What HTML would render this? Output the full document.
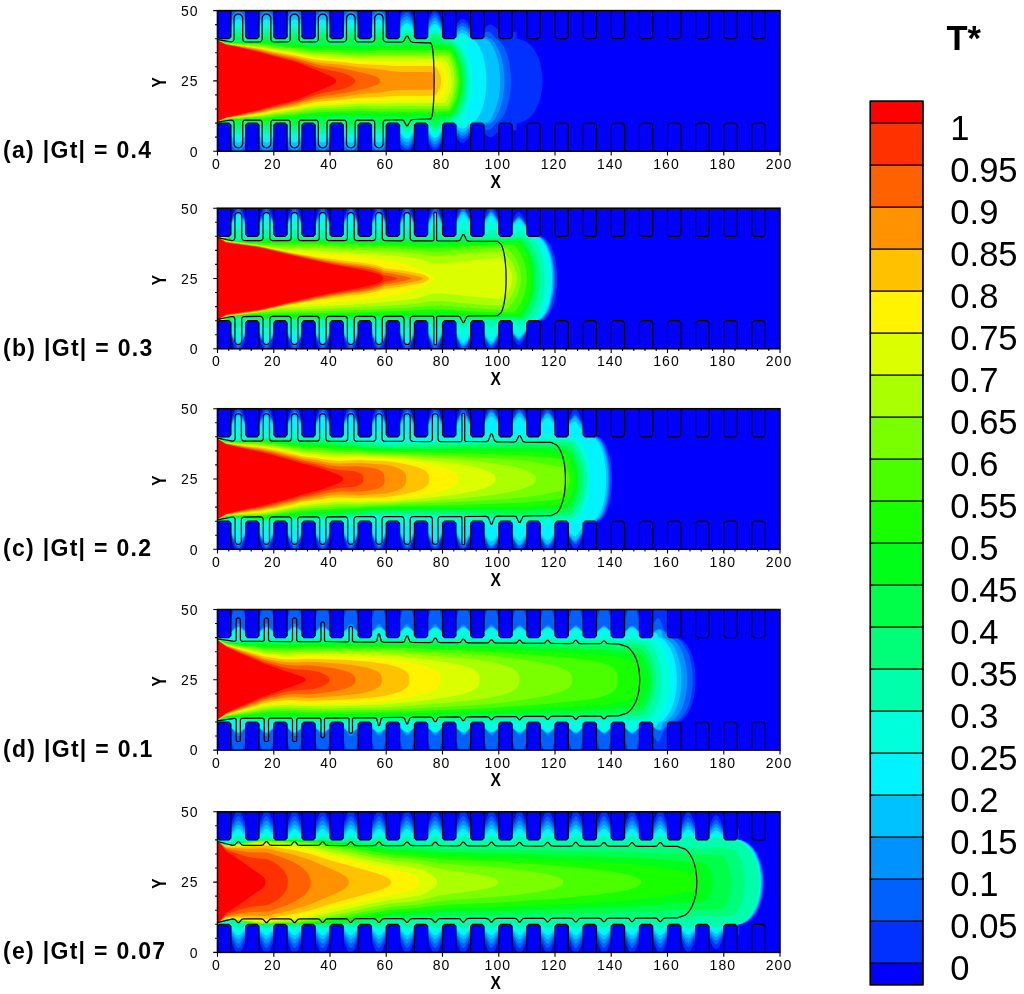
<!DOCTYPE html>
<html><head><meta charset="utf-8"><title>T* contours</title>
<style>
html,body{margin:0;padding:0;background:#fff}
svg{display:block}
text{font-family:"Liberation Sans",Arial,Helvetica,sans-serif;fill:#000}
.tk{font-size:14px;letter-spacing:1px}
.ax{font-size:15.5px;font-weight:bold}
.lb{font-size:23px;font-weight:bold;letter-spacing:1.3px}
.cb{font-size:34.6px}
.ct{font-size:34.5px;font-weight:bold}
</style></head><body>
<svg width="1024" height="994" viewBox="0 0 1024 994">
<rect width="1024" height="994" fill="#fff"/>

<g fill-rule="evenodd" shape-rendering="geometricPrecision">
<rect x="217.5" y="10.6" width="562.5" height="140.6" fill="#0000FF"/>
<path d="M229 151.2h17v-7.5h6l.1 .5l2.9 3.5v.5l1 1l.1 .5l1.1 1.5h16.8v-7.5h6l2 2.5l.1 .5l1.4 1.5v.5l1 1v.5l1 1h16.5v-7.5h6l2.5 3v.5l1.5 1.5v.5l1 1v.5l.5 .5h16.5v-7.5h6l3 3.5v.5l2.5 3v.5h17v-7.5h6l.1 .5l2.9 3.5v.5l1 1l.1 .5l1.1 1.5h16.8v-7.5h5l.5-.1l.5-.5l2 .1l.5 .5l1.5 .5l2 1.9l.5 .1l1.6 2l2.9 3h6l.5-.5v-.5l1-1v-.5l.9-1l.6-1.5l.5-.5v-.5l.5-.5v-.5l.5-.5v-.5l.5-.5v-9.5l1-.1l.4-.4h4.6l3.5 3.5v.5l1.5 1.5v.5l1 1l.5 1.5l1 1l.5 1.5l1.5 2v.5l1.5 2v.5l2.5 2.5h1h.5l2.5-2.5v-.5l1-1l.5-1.5l.5-.5l.5-1.5l.5-.5v-.5l1.5-2v-9h1.5l.5-.5h4l1.5 .5l1.5 1.5h.5l8.5 9h.5l.5 .5h2h.5l2.4-2l.1-.5l2-2v-.5l2.5-3v-5.5h1l.6-.5h4.5l.4 .4l.7 .1l1.3 1l1.5 .5l4 3.4l.5 .1l1.5 1.5l1.5 1l1.5 .5l2-.1l1-.5l5.9-5.4l.1-4l3-.1l.7-.4h2.8l.5 .4l2.6 .6l.4 .4l2.1 .6l2.4 1.2l1.5 .5h1l.5-1.2l.2-6l2.8-.5l3.9-1.5l3.6-1.6l2.4-1.9l2.8-3l2.5-3.5l2.3-4.2l2-4.8l1.4-4.5l1.1-5l.7-5l.3-5v-5l-.4-5l-.9-5l-1.1-4.6l-1.6-5l-2.3-5l-2.5-4l-2.8-3.5l-4.1-3.5l-5.8-2.5l-4.3-1l-.2-6l-.5-1.2h-1l-1.5 .5l-2.4 1.2l-2.1 .6l-.4 .4l-2.6 .6l-.5 .4h-2.8l-.7-.4l-3-.1l-.1-4l-5.9-5.4l-1-.5l-2-.1l-1.5 .6l-1.5 .9l-1.5 1.5l-.5 .1l-4 3.4l-1.5 .6l-1.3 .9l-.7 .1l-.4 .4h-4.5l-.6-.4l-1-.1v-5.5l-2.5-3v-.5l-2-2l-.1-.5l-2.4-2h-.5h-2l-.5 .5h-.5l-8.5 9h-.5l-1.5 1.5l-1.5 .5h-4l-.5-.5h-1.5v-9l-1.5-2v-.5l-.5-.5l-.5-1.5l-.5-.5l-.5-1.5l-1-1v-.5l-2.5-2.4l-1.5-.1l-2.5 2.5v.5l-1.5 2v.5l-1.5 2l-.5 1.5l-1 1l-.5 1.5l-1 1v.5l-1.5 1.5v.5l-3.5 3.5h-4.5l-.5-.3l-1-.1v-9.6l-.5-.5v-.5l-.5-.5v-.5l-.5-.5v-.5l-.5-.5l-.6-1.5l-.9-1v-.5l-1-1v-.5l-.5-.5h-6l-2.9 3l-1.6 2l-.5 .1l-2 1.9l-1.5 .5l-.5 .5l-2 .2l-.5-.6l-.5-.1h-5v-7.5h-16.8l-1.1 1.5l-.1 .5l-1 1v.5l-2.9 3.5l-.1 .5h-.5h-5.5v-7.5h-17v.5l-2.5 3v.5l-3 3.5h-6v-7.5h-16.5l-.5 .5v.5l-1 1v.5l-1.5 1.5v.5l-2.5 3h-6v-7.5h-16.5l-2 2.5v.5l-1.4 1.5l-.1 .5l-1.4 1.5l-.1 .5l-.5 .5h-.5h-5.5v-7.5h-16.8l-1.1 1.5l-.1 .5l-1 1v.5l-2.9 3.5l-.1 .5h-.5h-5.5v-7.5h-17v.5l-2.5 3v.5l-3 3.5h-6v124.6v1h6l3 3.5v.5l2.5 3z" fill="#0031FF"/>
<path d="M232.2 150.7l.4 .5h11.5l1.4-2.1l.5-8.8h5.5l.5 .2l7 8.3l1.7 2.4h11.5l1.3-1.9l.5-9l6 .1l7 8.3l1.8 2.5h11.5l1.2-1.7l.5-9.2h6l4.3 4.9l4.6 6h11.5l1.1-1.5l.5-9.4h6l.5 .4l7 8.3l1.6 2.2h11.5l1.4-2.1l.5-8.8h5.5l.5 .2l7 8.3l1.7 2.4h11.5l1.3-1.9l.5-9h5l1-.5l2.5 .5l2.5 1.3l2 1.5l4.5 4.8l1 .7l2 .5l1.5-.5l1.5-1.7l4-6.7l.5-8.9l6-.1l2.5 2l2.8 3l6.7 10.1l1.5 1.3l1 .1l1-.4l1.5-1.5l4.5-7.5l.5-8.2l6.5-.6l5.2 3.2l5.8 5.4l1.5 .8l1.5 .2l1.5-.5l1.5-1.2l4.5-5.4l.5-4.7l6-.3l10 3l1.5 .1l1-.3l2-1.4l4.7-5.2l1.2-.5l2.7-2.5l2.5-3l1.8-3l1.9-4.5l2.5-8.5l1.1-6l.7-6.5l.2-6.5l-.1-6.5l-.5-6l-.9-6.6l-1.4-6l-1.6-5l-2.5-5.5l-2.3-3.5l-4.1-4l-1.2-.5l-5.7-6l-1.5-.8l-1.5-.1l-10.5 3.2l-6-.4l-.5-4.7l-4.5-5.4l-1.5-1.2l-1-.4h-1.5l-1.5 .6l-6.3 5.7l-5.2 3.2l-6.5-.6l-.5-8.1l-4.5-7.6l-1.5-1.4l-1-.5l-1 .1l-1.5 1.3l-6.7 10.1l-2.8 3l-2.5 2.1l-6-.2l-.5-8.9l-4-6.7l-1.5-1.6l-1.5-.6l-2 .6l-1 .6l-4.5 4.8l-2 1.5l-2.5 1.3l-2.5 .6l-1-.6h-5l-.5-9l-1.3-1.9h-11.5l-1.7 2.4l-7 8.3l-.5 .2h-5.5l-.5-8.8l-1.4-2.1h-11.5l-1.6 2.3l-7 8.3l-.5 .3h-6l-.5-9.4l-1.1-1.5h-11.5l-4.6 6l-4.3 4.9h-6l-.5-9.2l-1.2-1.7h-11.5l-1.8 2.6l-7 8.2l-6 .1l-.5-9l-1.3-1.9h-11.5l-1.7 2.4l-7 8.3l-.5 .2h-5.5l-.5-8.8l-1.4-2.1h-11.5l-1.6 2.3l-7 8.3l-.5 .3h-6v118.8h6l.5 .4l7 8.3z" fill="#0061FF"/>
<path d="M236.6 150.7l1.9 .4l1.5-.4l2-1.4l2-2.4l1.5-2.4l.5-7.2l6 .1l7 6.8l2 3l2 2.3l2 1.3l1.5 .3l1.5-.3l2-1.4l1.5-1.7l2-2.9l.5-7.5h6l7 6.8l2.5 3.6l1.5 1.7l2 1.4l1.5 .3l1.5-.3l2-1.3l1.6-1.8l1.9-2.7l.5-7.7h6l7 6.7l4 5.3l2 1.4l1.5 .4l1.5-.2l2-1.3l1.5-1.6l2-2.8l.5-7.9h6l.5 .2l7 6.8l2 3.1l2 2.2l2 1.3l1.5 .2l1.5-.4l2-1.4l1.5-1.7l2-3.1l.5-7.2h5.5l1.9 1.4l5.6 5.5l2 3l2 2.3l2 1.3l1.5 .3l1.5-.3l2-1.4l1.5-1.7l2-2.9l.5-7.5h5l1-.5l3 .6l4 2.1l3 3.5l2 1.8l2.5 .9l1.5-.5l2-2.2l3.5-5.8l.5-7.4l6-.1l2 1.3l2.6 2.2l2.4 2.6l5 7.3l1 .9l1 .5l1.5-.4l1.5-1.4l4.5-7l.5-6.8l6.5-.9l3.2 1.2l3.8 2l2.5 2.4l2 1.5l2 .6l1.5-.3l2.5-1.8l4-4.6l.5-3.1l6-.5l5.5 .4l4.5-1.1l2.2-1.5l2-.5l.8-.5l1.5-1.5l1.8-2.5l3.5-6.5l2.5-7l1.5-6.5l1.1-7.5l.5-8l-.2-8l-.9-8.1l-1.5-7.5l-2-6.5l-2-4.5l-1.9-3.5l-2-3l-1.9-2l-.8-.5l-2-.5l-2.2-1.5l-4.5-1.1l-5.5 .4l-6-.5l-.5-3.1l-4-4.6l-2.5-1.8l-1.5-.3l-2 .6l-2 1.5l-2.5 2.5l-3.8 1.9l-3.2 1.2l-6.5-.9l-.5-6.7l-4-6.5l-1.5-1.6l-1.5-.7l-1 .1l-1.5 1.2l-5 7.4l-2.9 3l-2.5 2l-1.6 1l-6-.1l-.5-7.4l-3.5-5.8l-2-2.1l-1.5-.6l-2.5 .9l-2 1.8l-3 3.5l-4 2.1l-3 .6l-1-.4h-5l-.5-7.5l-2-3l-1.5-1.7l-1.5-1.1l-1.5-.6l-2 .3l-2 1.3l-2 2.3l-2 3l-5.6 5.5l-1.9 1.5h-5.5l-.5-7.3l-2-3l-1.5-1.8l-2-1.4l-1.5-.4l-1.5 .2l-2 1.3l-2 2.2l-2 3.1l-5.2 5.1l-2.3 2h-6l-.5-7.9l-2-2.9l-1.5-1.6l-2-1.3l-1.5-.2l-1.5 .4l-2 1.4l-4 5.4l-7 6.7h-6l-.5-7.7l-1.9-2.8l-1.6-1.8l-2-1.3l-1.5-.3l-1.5 .3l-2 1.4l-1.5 1.7l-2.5 3.6l-7 6.8l-6 .1l-.5-7.5l-2-3l-1.5-1.7l-2-1.4l-1.5-.3l-1.5 .3l-2 1.3l-2 2.3l-2 3l-7 6.8l-6 .2l-.5-7.3l-1-1.6l-2-2.6l-2-1.7l-2-.7l-1.5 .2l-2.5 1.8l-3.5 4.8l-7 6.8l-.5 .3h-6v112.7h6l.5 .2l7 6.8l3.5 4.9z" fill="#0092FF"/>
<path d="M237.3 146.7l1.7 .1l1.5-.6l1.5-1.2l2-2.5l1.5-2.5l.5-5.8l6 .1l7 5.3l2.5 3.9l2 2.2l1.5 .9l1.5 .3l1.5-.4l1.5-.9l1.7-1.9l1.8-2.6l.5-.9l.5-6h6l7 5.3l2.5 3.8l2 2.3l1.5 .9l1.5 .4l1.5-.3l1.5-.9l1.5-1.6l2-2.8l.5-.9l.5-6.2h6l.5 .3l6.5 4.9l2.5 3.8l2 2.2l1.5 1.1l1.5 .4l1.5-.3l1.5-.9l2-2l1.7-2.5l.3-.6l.5-6.4h6l.5 .2l7 5.3l2 3.3l2 2.3l2 1.3l1.5 .3l1.5-.4l1.5-1.1l1.6-1.7l1.9-2.8l.5-.9l.5-5.8h5.5l1.8 1l5.7 4.4l2.5 3.9l2 2.2l1.5 .9l1.5 .3l1.5-.4l1.5-.9l1.7-1.9l1.8-2.6l.5-.9l.5-6h5l1-.4l4 .8l3 1.4l3 3.6l2 1.8l2 .8l1.5-.2l1-.6l1.5-1.6l3.5-5.5l.5-5.9l6-.1l3 1.6l4 3.1l4.5 6.4l1.5 1.4l1 .4l1.5-.3l1.5-1.3l4.5-6.5l.5-5.5l6-1.1l2.5 .4l5 1.3l3 2.6l2 1.1l1.5 .3l1.5-.3l2-1.2l2.5-2.4l2-2.3l.5-1.6l8-.7l4.5-.9l2.1-.1l2.5-1l1.6-1.5l1.8-2.5l3.5-7.2l2.5-7.7l1.4-6.6l1-8l.2-6.5l-.2-7.5l-.9-8.1l-1.5-7.1l-2-6.4l-2-4.7l-2-3.7l-1.8-2.6l-1.6-1.5l-2.5-1l-2.1-.1l-4.5-.9l-8-.7l-.5-1.6l-2-2.3l-2.5-2.4l-2-1.2l-1.5-.3l-1.5 .3l-2 1.1l-3 2.7l-5 1.3l-2.5 .3l-6-1.1l-.5-5.4l-4-6l-1.5-1.5l-1.5-.7l-1 .1l-1.5 1.2l-4.8 6.7l-4.5 3.5l-2.7 1.4h-6l-.5-6l-3.5-5.4l-1.5-1.7l-1-.6l-1.5-.2l-2 .8l-2 1.8l-3 3.7l-3 1.3l-4 .8l-1-.4h-5l-.5-6l-1.9-3l-1.6-1.9l-1.5-1.1l-1.5-.6l-1.5 .1l-2 1.1l-2 2.1l-2.5 3.9l-5.7 4.4l-1.8 1h-5.5l-.5-5.7l-.5-.9l-1.9-2.9l-1.6-1.7l-1.5-1l-1.5-.4l-1.5 .2l-1.5 .9l-2.3 2.5l-2.2 3.5l-7.5 5.5h-6l-.5-6.4l-.3-.6l-1.7-2.5l-2-2l-1.5-.9l-1.5-.2l-1.5 .4l-1.5 1l-2 2.2l-2.5 3.8l-6.5 4.9l-.5 .3h-6l-.5-6.2l-.5-.9l-2-2.8l-1.5-1.5l-1.5-1l-1.5-.3l-1.5 .4l-1.5 1l-2 2.2l-2.5 3.8l-7 5.3h-6l-.5-6l-.5-.8l-1.8-2.7l-1.7-1.8l-1.5-1l-1.5-.4l-1.5 .3l-1.5 1l-2 2.1l-2.5 3.9l-7 5.3l-6 .1l-.5-5.7l-2-3.3l-2-2.2l-1.5-1l-1.5-.4l-1.5 .2l-1.5 .9l-1.5 1.4l-3 4.6l-7 5.3l-.5 .2h-6v106.6h6l.5 .2l7 5.3l3 4.6l1.5 1.5z" fill="#00C2FF"/>
<path d="M236.7 142.2l1.3 .4l1.5-.2l1.5-.8l1.5-1.5l3-4.7l.5-4.3l6 .1l3.8 2l3.2 1.8l2.5 4.1l2 2.3l1.5 .9l1.5 .3l1-.1l1.5-.8l1.5-1.4l1.5-2.1l1.5-2.6l.5-4.5h6l3.9 2.1l3.1 1.8l2.5 4l2 2.3l1.5 1l1.5 .3l1-.1l1.5-.7l1.5-1.4l1.5-2l1.5-2.5l.5-4.8h6l3.5 1.8l4 2.5l2 3.4l2 2.3l1.5 1.1l1.5 .4l1-.1l1.5-.7l1.5-1.3l1.5-1.9l1.5-2.5l.5-5h6l3.3 1.6l4.2 2.4l2.1 3.6l2.4 2.8l1.5 .9l1.5 .2l1-.2l1.5-.8l1.5-1.5l1.5-2.1l1.5-2.6l.5-4.3h5.5l7.5 3.9l2 3.4l2 2.5l2 1.4l1.5 .3l1-.1l1.5-.8l1.5-1.4l1.5-2.1l1.5-2.6l.5-4.5l7-.2l2.5 .4l3 .9l1 .7l2 2.7l2 2l1.5 .9l2 .3l1-.4l1.5-1.3l4-5.8l.5-4.4l6-.1l3.4 1.4l3.6 2.1l4.5 6l1.5 1.3l1.5 .4l1.5-.6l1.5-1.4l4-5.5l.5-4.1l6.5-1.3h7l2.5 2.2l2 1.1l2 .4l1.5-.3l3-1.9l3.5-3.6l2.4-.8l1.6-1l2.9-3l2.1-3.3l1.7-3.7l1.5-4l1.4-5l1.1-6l.8-6.5l.4-6.5l-.1-6.5l-.5-6.5l-.8-6.1l-1.3-6l-1.7-5.5l-2.4-5.5l-3-4.5l-2.8-2.5l-3.3-1.3l-3-3.1l-2-1.6l-2-.9l-2.5 .1l-2.5 1.3l-2.5 2.1l-7 .1l-6.5-1.3l-.5-4.2l-4-5.5l-1.5-1.4l-1.5-.5l-1 .1l-1.5 1l-2 2.4l-2.5 3.7l-3.1 2l-4.4 1.9l-6-.1l-.5-4.4l-3.5-5.2l-1.5-1.5l-1-.6l-1.5-.2l-2 .8l-2 1.9l-2.5 3.2l-1.5 .9l-5 1.1l-7-.2l-.5-4.5l-1.5-2.6l-1.5-2l-1.5-1.4l-1.5-.8l-1-.2l-1.5 .3l-2 1.4l-2 2.5l-2 3.4l-7.5 3.9h-5.5l-.5-4.2l-1.5-2.7l-1.5-2.1l-1.5-1.4l-1.5-.9l-1-.2l-1.5 .3l-2 1.3l-2 2.4l-2 3.5l-7.5 4h-6l-.5-5l-1.5-2.5l-1.5-1.9l-1.5-1.3l-1.5-.7l-1-.1l-1.5 .4l-1.5 1.1l-2 2.3l-2 3.5l-4 2.4l-3.5 1.8h-6l-.5-4.7l-1.5-2.6l-1.5-2l-1.5-1.3l-1.5-.8l-1-.1l-1.5 .4l-2 1.4l-1.5 1.8l-2.5 4.1l-7 3.8h-6l-.5-4.5l-1.5-2.6l-1.5-2l-1.5-1.4l-1.5-.8l-1-.2l-1.5 .3l-1.5 1l-2 2.2l-2.5 4.1l-3.2 1.8l-3.8 2l-6 .1l-.5-4.2l-2.5-4.2l-1.5-1.6l-1.5-1.1l-1.5-.4l-1.5 .3l-1.5 .9l-1.5 1.5l-3 4.8l-7.5 4h-6v100.4h6l7.5 4l3 4.9l1.5 1.5z" fill="#00F3FF"/>
<path d="M237.4 138.2l1.1 .2l1.5-.5l2.5-2.1l1.5-2.2l1.5-2.8l.5-2.8l6 .1l7 2.3l2 3.6l2 2.6l2 1.4l1.5 .4l2-.7l2.5-2.4l2.5-4.3l.5-3h6l7 2.4l2.5 4.2l1.5 1.9l2 1.5l1.5 .4l1-.2l1.5-.7l2.5-2.7l2-3.5l.5-3.3h6l7 2.4l.5 .4l1.5 2.8l2 2.8l2 1.5l1.5 .5l1-.1l1.5-.7l2.5-2.6l2-3.4l.5-3.6h6l7.5 2.5l1.5 2.9l2 2.8l2 1.7l2 .5l2-.8l2.5-2.5l2.5-4.3l.5-2.8h5.5l7.5 2.4l2 3.6l2 2.6l2 1.4l1.5 .4l2-.7l2.5-2.4l2.5-4.3l.5-3l7-.1l6 .9l4 5l1.5 1l2 .6l2-.7l2.5-2.6l2.5-3.7l.5-3h6l3.3 .8l3.7 1.3l4.5 5.6l1.5 1.2l1.5 .4l1-.2l1.5-1l2.5-2.8l2-2.8l.5-2.8l6.5-1.5l5.4-.9l1.6-.6l2.5 2l2 .9l2 .3l2-.5l2-1.1l1-1l-1.7-4l-.2-3l.7-3l3-9l1.6-6l1-6l.7-8l-.2-9l-1.1-8.6l-1.6-6.5l-3.4-10.5l-.7-3l.2-3l1.7-4l-.3-.5l-1.7-1.1l-2.5-.9h-1.5l-2 .6l-3.5 2.5l-1.6-.6l-5.4-.9l-6.5-1.5l-.5-2.8l-2-2.8l-2.5-2.8l-1.5-.9l-1-.3l-1.5 .4l-1.5 1.2l-4.5 5.6l-3.7 1.3l-3.3 .8h-6l-.5-3l-1.5-2.3l-2.5-3.1l-1.5-1.2l-1-.3l-2 .3l-1.5 .8l-2 2.1l-2.5 3.3l-6 .9l-7-.1l-.5-3l-2.5-4.3l-2.5-2.4l-2-.6l-1.5 .3l-2 1.4l-2 2.6l-2 3.6l-7 2.3l-6 .1l-.5-2.7l-2.9-5l-2.1-1.9l-1.5-.7h-1l-1.5 .5l-2 1.6l-2 2.8l-1.5 2.9l-7.5 2.5h-6l-.5-3.5l-2-3.4l-2.5-2.6l-1.5-.7l-1-.1l-1.5 .4l-2 1.6l-2 2.7l-1.5 2.9l-.5 .4l-7 2.3h-6l-.5-3.3l-2-3.5l-2.5-2.7l-1.5-.7l-1-.1l-1.5 .3l-2 1.5l-1.5 1.9l-2.5 4.2l-7 2.4h-6l-.5-3l-2.5-4.3l-2.5-2.4l-2-.6l-1.5 .3l-2 1.4l-2 2.6l-2 3.6l-7 2.3l-6 .1l-.7-3.2l-1.8-3.2l-1.5-1.9l-2.5-1.8l-1-.2l-1.5 .2l-1.5 .9l-1.5 1.6l-1.5 2.2l-1.5 2.9l-7.5 2.5h-6v94.2h6l7.5 2.5l1.5 2.9l1.5 2.2l1.5 1.6z" fill="#00FFDB"/>
<path d="M236.7 133.7l1.3 .4l1-.1l1-.3l1.5-1.1l2.5-3.4l2-4.3l6 .1l7 .9l2 3.7l2 2.7l2 1.5l1.5 .3l2-.6l2-1.9l2-3.1l1.5-3.6l6 .1l7 .8l2.5 4.4l1.5 2l2 1.5l1.5 .4l2-.6l2-1.7l2.5-4l1-2.9h6l7 .9l.5 .4l1.5 3l2 2.8l2 1.7l1.5 .4l2-.5l2.2-1.9l2.3-3.7l1-3.1h6l7.5 1l1.5 3.1l2 2.9l2 1.7l1.5 .5l2-.4l2-1.7l2-2.8l2-4.3l6 .1l7 .9l2 3.7l1.5 2.2l2 1.7l1.5 .6l2-.4l2-1.5l2.5-3.7l1.5-3.6h7l6 .3l4 5.1l1.5 1.1l2 .6l1.5-.4l2-1.6l3-3.8l1-2.2h6l5 .5l2.5 .5l2.5 3.4l2.5 2.4l1.5 .6l1.5-.1l1.5-.9l2-1.9l2.5-3.2l.5-1.5l8-1.6l2.9-1.5l4.1-3l1.5-1.6l1.6-2.4l3.2-6.5l1.9-5.5l1.5-6l1-6l.5-6.5l-.1-6.5l-.7-6.5l-1.1-6.1l-1.5-5.5l-1.7-4.5l-1.9-4l-2.1-3.5l-1.6-2l-4.5-3.4l-2.5-1.4l-2.1-.7l-6.4-1.1l-.5-1.5l-3-3.7l-2-1.7l-1.5-.7l-1.5 .1l-1.5 .9l-2 2l-2.5 3.4l-2.5 .6l-5 .5l-6-.1l-1-2.2l-3-3.8l-2-1.6l-1.5-.3l-2 .5l-1.5 1.1l-4 5.1l-6 .3h-7l-1.5-3.6l-2.5-3.7l-2-1.5l-2-.3l-1.5 .5l-2 1.8l-1.5 2.1l-2 3.8l-7 .9h-6l-2-4.3l-2-2.8l-2-1.6l-2-.5l-1.5 .5l-2 1.7l-2 2.9l-1.5 3.2l-7.5 .9h-6l-1-3.1l-2.3-3.7l-2.2-1.9l-2-.5l-1.5 .5l-2 1.6l-2 2.8l-1.5 3.1l-.5 .3l-7 .9h-6l-1-2.9l-2.5-3.9l-2-1.8l-2-.6l-1.5 .4l-2 1.5l-1.5 2l-2.5 4.4l-7 .9h-6l-1.5-3.6l-2-3.1l-2-1.8l-2-.7l-1.5 .3l-2 1.5l-2 2.7l-2 3.8l-7 .9h-6l-2-4.3l-2.5-3.3l-1.5-1.1l-1-.4l-2 .2l-1.5 .9l-1.5 1.6l-1.5 2.3l-1.5 3.2l-7.5 .9h-6v88h6l7.5 1l1.5 3.1l1.5 2.3l1.5 1.6z" fill="#00FFAA"/>
<path d="M237.4 129.7l2.1-.1l2-1.3l1.5-1.9l1.8-3.2l-.3-1.5l1.5-.3l13 1l1 .8l1.5 2.9l1.5 1.9l1.5 1.3l2 .5l1.5-.3l1.5-1.1l2-2.5l1.7-3.2l.8-.5l13-.2l.9 .7l1.6 3.2l1.5 2l1.5 1.3l2 .6l2-.5l1.5-1.3l1.5-1.9l2-3.9l.5-.5l13-.4l.7 .4l1.5 3.5l2.2 3l1.6 1.2l2 .4l2-.8l1.5-1.4l2-3l1.5-3.5l13.5-.1l1.5 3.6l1.7 2.6l1.8 1.8l2 .8l2-.4l2-1.7l2.3-3.5l1.1-3l.6-.3l13 .3l.7 1l.3 1l1 2l1.5 2.2l1.5 1.5l2 .9l2-.3l2-1.6l2-2.9l1.3-2.8l.7-.7h13l.7 .7l1.3 2.4l2 2.3l1.5 1.1l2 .5l1.5-.3l2-1.4l2.5-2.9l1.5-2.4h13l.5 .2l.7 1.5l1.3 1.6l2.5 2.5l1.5 .8h2l1.5-.8l2-1.7l2.1-2.4l.9-1.7l6-.2l2-.9l2.4-1.7l2.1-2.1l2.9-3.4l2-3.5l1.9-4l1.7-5l1.4-5.5l.9-5.5l.5-6v-6l-.5-6l-1-5.6l-1.4-5.5l-2-5.5l-2.3-4.5l-2-3l-3.1-3.5l-2.5-2.1l-2.5-1.3l-2-.4h-4.5l-.9-1.7l-2.6-2.9l-2-1.5l-1.5-.6l-1.5 .2l-2 1.2l-3 3.3l-1 1.9l-.5 .1h-13l-1.5-2.4l-2.5-2.9l-2-1.4l-1.5-.3l-2 .5l-1.5 1.1l-2 2.3l-1.3 2.4l-.7 .7h-13l-.7-.7l-1.3-2.8l-2-2.9l-2-1.5l-2-.4l-2 .9l-1.5 1.5l-1.5 2.2l-1 2l-.3 1l-.7 1l-13 .3l-.6-.3l-1.1-3l-2.3-3.5l-2-1.7l-2-.4l-2 .8l-1.8 1.8l-1.7 2.7l-1.5 3.5h-13.5l-1.5-3.5l-2-3.1l-1.5-1.4l-2-.8l-2 .4l-1.6 1.2l-2.2 3l-1.5 3.5l-.7 .4l-13-.3l-.5-.6l-2-3.8l-1.5-2l-1.5-1.2l-2-.6l-2 .6l-1.5 1.3l-1.5 2.1l-1.6 3.1l-.9 .7l-13-.2l-.8-.5l-1.7-3.1l-2-2.6l-1.5-1l-1.5-.4l-2 .6l-1.5 1.2l-1.5 2l-1.5 2.8l-1 .9l-13 .9l-1.5-.3l.3-1.5l-1.8-3.2l-1.5-1.8l-2-1.4l-2-.1l-1.5 .7l-1 .9l-2.4 3.4l-.8 1.5l.7 2.5l-2.1 .5l-4.4 .2l-6.8-1.7l-.7-.4h-1v82.5l1-.1l.7-.4l6.8-1.7l4.4 .2l2.1 .5l-.7 2.5l.7 1.4l2.5 3.5l1 .9z" fill="#00FF79"/>
<path d="M236.8 125.2l1.2 .4l1.5-.2l1.5-1l1.2-1.2l-1.2-1l-1.5-.5l-1.5-.1l-2 .5l-1.6 1.1zM264.9 125.2l1.6 .4l1.5-.4l1.5-1.1l1.5-1.9l3-1.7l13-.5l1.7 .7l1.5 1l.4 .5l.1 1l1.8 1.7l1 .5l1.5 .1l1.5-.5l1-.8l.9-1v-1l.6-1l3-1.9l13-.7l1.8 .6l2.2 1.5l.4 1l-.6 1.5l1.2 1.2l1.5 1l1.5 .2l2-.9l1.6-1.5l-.8-1.5v-.5l.7-1l3.5-2l13.5-.2l3.3 1.7l1 1l.1 1l-1 1.5l.6 .6l1.5 1.3l2 .5l2-.8l1.7-1.6l-1.1-2l.5-1l2.1-1.5l2.3-.9l13.5 .7l2.1 1.2l1.1 1l.4 1l-.5 1.5l.4 .5l1.5 1.3l1.5 .5l1.5-.1l1.5-.9l1.3-1.3l-.3-1.5l.6-1l1.4-1l2-.9l13.5 .1l2.2 1.3l1 1l.3 1l-.3 1l.3 .3l1.5 1l2 .6l1.5-.3l2-1.2l.4-.4l-.2-1.5l.6-1l3.2-2h13l1.3 .5l2.1 1.5l.6 1l-.2 1.5l1.2 .9l2 .8l2-.2l2.5-1.5l-.2-1.5l.7-1l3-2l7-.1l2-1.1l2.6-2.8l2.5-3.5l2-3.5l1.7-4l1.7-5l1.3-5.5l.7-5.5l.3-5.5l-.1-5.5l-.5-5.5l-1.1-5.6l-1.4-5l-1.9-5l-2.1-4l-2.7-4l-3-3.3l-2-1.1l-7-.1l-2.5-1.5l-.9-1l-.3-1l.2-1l-2-1.3l-1.5-.4l-1.5 .1l-2 1.1l-.7 .5l.2 1.5l-.6 1l-2.1 1.5l-1.3 .5h-13l-3.2-2l-.6-1l.2-1.5l-.4-.3l-2-1.3l-1.5-.3l-2 .6l-1.5 1l-.3 .3l.3 1l-.3 1l-1 1l-2.2 1.4h-13.5l-2-.9l-1.4-1l-.6-1l.3-1.5l-.8-.9l-1.5-1.1l-1.5-.3l-1.5 .3l-1.5 1l-.9 1l.5 1.5l-.4 1l-1.9 1.5l-1.8 1l-13 .4l-2.3-.9l-2.1-1.5l-.5-1l1.1-2l-1.7-1.6l-2-.7l-2 .5l-1.5 1.2l-.6 .6l1 1.5l-.1 1l-1 1l-3.3 1.7l-13.5-.2l-3.5-2l-.7-1v-.5l.8-1.5l-1.6-1.5l-2-.8l-1.5 .2l-1.5 .9l-1.2 1.2l.6 1.5l-.4 1l-2.2 1.5l-1.8 .6l-13-.7l-3-1.9l-.6-1v-1l-1.4-1.4l-1-.6l-1.5-.3l-1.5 .3l-1 .7l-1.3 1.3l-.1 1l-.4 .5l-1.5 1l-1.7 .7l-13.5-.6l-2.5-1.6l-1-1.3l-1.5-1.4l-2-.6l-2 .5l-2.5 2.5l-3 1.4l-13 .6l-4-.5h-3.5l-7.5 1.2l-5 .2l-8.5-2.5v82.4l8.5-2.5l5 .2l7.5 1.2h3.5l4-.5l13 .6l2.5 1.1l2 2zM237.4 40.1l2.6-.1l1.5-.7l.7-.7l-2.2-1.9l-1-.4l-1.5 .1l-1.5 .7l-1.6 1.5l1.1 .9z" fill="#00FF49"/>
<path d="M217.5 121.7v.3l.5-.1l8-2.6l5 .1l8.5 .8l6.5-.5l13 .3l5 1l2.5 .2l2-.3l5.5-1.8l13-.8l4.5 .8l3 .2l2.5-.5l5-1.5l13-1l5 .7l3 .1l7-1.2l13.5-.3l7 .8l8-1.1l13 .5l4.5 1.1l3 .4l3-.1l4.5-.8l13-.2l5 1.1l2.5 .2l3-.2l4.5-1.1h13l5 1.1l2.5 .2l3-.2l4.5-1.1l7.5-.1l1-.7l2-2.3l3.7-5.9l2.5-6l1.8-6.5l1.2-7l.3-7l-.4-7l-1.2-7.1l-2.1-7l-2.7-6l-4-6l-1.6-1.6l-1-.4h-7l-4.5-1.1l-3-.2l-2.5 .2l-5 1.1h-13l-4.5-1l-3-.3l-2.5 .2l-5 1.1l-13-.1l-4.5-.8l-3-.2l-3 .5l-4.5 1.1l-13 .5l-8-1.2l-7 .8l-13.5-.3l-7-1.2l-3 .1l-5 .7l-13-.9l-5-1.6l-2.5-.5l-3 .2l-4.5 .8l-13-.7l-5.5-1.8l-2.5-.4l-2.5 .3l-4.5 1l-13 .2l-6.5-.5l-8.5 .8l-5 .1l-8.5-2.7z" fill="#00FF18"/>
<path d="M217.5 121.7v.2l8.5-2.8l13.5 .4l6.5-.5l13-.1l6.5 .5l3.5-.5l5-1.2l13-1l7 .2l8-1.5l13-1.2l7.5 .2l7.5-.7l13.5-.3l7 .2l8-.7l13 .5l9 .9l19-.5l8 .6l7-.6h13l8 .6l7-.6l7-.1l1-.5l1.2-1.5l3.6-6l2.3-5.5l1.8-6.5l1-6.5l.3-6.5l-.4-6.5l-1-6.5l-1.8-6.3l-2.5-5.8l-3.5-5.8l-1-1.2l-1-.5l-7-.1l-7-.6l-8 .6h-13l-7-.6l-8 .6l-19-.5l-9 .9l-13 .5l-8-.7l-7 .2l-13.5-.3l-7.5-.7l-7.5 .2l-13-1.1l-8-1.6l-7 .2l-13-1l-5-1.2l-3.5-.4l-6.5 .4l-13-.1l-6.5-.5l-13.5 .4l-8.5-2.8z" fill="#18FF00"/>
<path d="M217.5 121.7l8.5-2.8h13l7-.6l19-.3l4-.5l5-1.1l13-1.3l7-.2l8-1.4l13.5-1.3l34.5-1l8-.6l13.5 .4l10 .7l18-.3l8 .3l7-.3h13l8 .3l13.5-.4l1-.6l1-1.4l3.1-5.6l2.1-5.5l1.6-6l.8-6l.3-6l-.4-6l-1-5.9l-1.5-5.4l-2.1-5.3l-3.1-5.5l-.8-1l-1-.5l-13.5-.5l-8 .4h-13l-7-.4l-8 .3l-18-.3l-10 .7l-13.5 .4l-8-.6l-34.5-1l-13.5-1.3l-8-1.4l-7-.2l-13-1.2l-5-1.1l-4-.5l-19-.4l-7-.6h-13l-8.5-2.9z" fill="#49FF00"/>
<path d="M217.5 121.7l8.5-3l13-.4l7-.7l18.5-.9l9.5-1.6l19.5-1.9l8.5-1.4l13.5-1.6l33.5-1.3l9-.6l25 .8l16.5-.3l36.5 .2l12.2-.3l.8-.4l.9-1.1l2.8-5.5l1.9-5l1.4-5.9l.7-5.1l.2-5.5l-.4-5.5l-.9-5.5l-1.5-5.6l-2.1-5.1l-2.5-4.5l-.5-.5l-1-.4l-12.5-.3l-36.5 .2l-16-.3l-25 .8l-9-.6l-33.5-1.3l-13.5-1.6l-8.5-1.4l-19.5-1.9l-9.5-1.6l-18.5-.9l-7-.7l-13-.4l-8.5-3z" fill="#79FF00"/>
<path d="M217.5 121.2v.5l8.5-3.2l13-.7l7-.8l18-1.4l10-1.8l19.5-2.2l12.5-2.2l10-1.2l31.5-1.5l10.5-.8l27 .6l13.5-.4l37.5 .1l11-.3l1-.6l.5-.7l2.4-4.9l1.6-4.5l1.3-5.5l.7-5l.1-4.5l-.3-5l-.8-4.7l-1.5-5.5l-2-5l-2-3.5l-1.5-.7l-47.5-.1l-14-.4l-27 .6l-10.5-.8l-32-1.5l-11-1.4l-11-1.9l-19.5-2.3l-10-1.8l-18-1.4l-7-.8l-13-.7l-8.5-3.2z" fill="#AAFF00"/>
<path d="M217.5 121.2v.4l8.5-3.3l12.5-1l24.5-2.6l11-2.1l18.5-2.5l16.5-3l9.5-1.1l22.5-1.2l17.5-1.3l27.5 .1l12.5-.4l45.5-.2l1.6-.8l1.8-3l2.1-4.9l1.3-4.6l.7-4l.3-4.5l-.2-4.5l-.7-4l-1.4-5.2l-2.1-4.9l-1.8-3l-1.6-.8l-45.5-.2l-12.5-.4l-27.5 .2l-17.5-1.3l-23-1.3l-9.5-1.2l-15.5-2.8l-19-2.6l-11-2l-24.5-2.7l-12.5-1l-8.5-3.3z" fill="#DBFF00"/>
<path d="M217.5 121.2v.4l8.5-3.5l12.5-1.3l23.5-3l12-2.4l20-3.1l16.5-3.3l8.5-1.2l22-1.4l17.5-1.6l27.5-.4l12-.6h37.5l5-.3l1.5-.7l1.5-1.8l2-3.9l1.5-4.1l.7-3.3l.4-3.5l-.1-4l-.5-3.3l-1.5-5l-2-4.3l-1.8-2.5l-.7-.5l-1.5-.4l-41.5-.2l-12.5-.6l-27.5-.4l-17.5-1.6l-22-1.4l-8.5-1.1l-16.5-3.4l-20-3.1l-12-2.4l-23.5-3l-12.5-1.3l-8.5-3.4z" fill="#FFF300"/>
<path d="M217.5 121.2v.3l8.5-3.6l12.5-1.5l22.5-3.4l13-2.8l19.5-3.4l18-4l8-1.3l22-1.7l16.5-1.9l24.5-1.1l11.5-.8l36.5-.3l3.5-.3l1.5-.5l1.3-1.2l1.6-2.5l1.4-3l.8-3l.5-3v-2.5l-.5-3l-1-3.5l-2.1-4l-1.6-2l-1.9-.8l-3.5-.3l-36.5-.2l-11.5-.9l-24.5-1.1l-16.5-1.9l-22-1.7l-8-1.3l-18-4l-19.5-3.4l-13-2.8l-22.5-3.3l-12.5-1.6l-8.5-3.6z" fill="#FFC200"/>
<path d="M217.5 121.2v.3l8.5-3.8l12-1.7l22-3.8l14-3.2l19-3.6l18-4.6l9-1.7l21-2.1l17-2.5l20-1.9l17-2.3l7.5-.3l28.5-.2l1-.5l.5-.6l1.4-3.5l.4-4l-.4-4.5l-1.4-3.5l-.5-.7l-1-.5l-28.5-.1l-7.5-.3l-17-2.4l-20-1.9l-16.5-2.5l-17.5-1.6l-6-.8l-7.5-1.5l-17-4.3l-19.5-3.8l-13.7-3.2l-21.8-3.7l-12.5-1.8l-8.5-3.7z" fill="#FF9200"/>
<path d="M217.5 121.2v.2l1.7-.7l6.8-3.2l12-2l22-4.2l14-3.5l19.6-4.1l23.9-6.7l6-1.1l6.5-.6l14.3-2.1l24.5-5.5l5.2-1.6l4-1.9l1.9-2l.3-1l-.1-1l-.5-1l-.9-1l-2.4-1.5l-4-1.5l-5.5-1.5l-22.5-5l-14.3-2.1l-6.5-.7l-6-1.1l-23.9-6.7l-19.6-4.1l-14-3.5l-22-4.2l-12-2l-8.5-3.9z" fill="#FF6100"/>
<path d="M217.5 121.2l8.5-3.8l12-2.3l22-4.7l14-3.7l20-4.7l20-6.6l6.5-1.9l18-3.6l5-1.2l5.4-2l3.6-2l1.8-1.5l.6-1l.3-1l-.1-1l-.8-1.5l-2.5-2l-4-2l-4.3-1.5l-5-1.3l-18-3.6l-6.5-1.9l-20-6.6l-20-4.6l-14-3.8l-22-4.7l-12-2.2l-8.5-4z" fill="#FF3100"/>
<path d="M217.5 121.2l8.5-4l11.9-2.5l22.1-5.1l13.5-4l16-3.9l7.5-2.3l9.8-3.7l23.2-9.6l3.5-1.9l1.9-1.5l.8-1.5l-.1-1l-.7-1l-1.1-1l-4.3-2.5l-24-9.9l-10-3.7l-7.5-2.2l-14.5-3.6l-14-4l-22.1-5.2l-11.9-2.4l-8.5-4.2z" fill="#FF0000"/>
<rect x="217.5" y="208.2" width="562.5" height="140.6" fill="#0000FF"/>
<path d="M234.6 348.8h7.4l.5-2l.5-.5v-1l.5-.5v-1l.5-.5v-1l1-1.5v-1l1-1.5v-10h6l3.5 3.5v.5l1 1v.5l.5 .5v.5l1.5 2.5v.5l.5 .5v.5l.5 .5l.1 1l.9 1.5v1l.5 .5l.1 1l.9 1.5v1l.5 .5v1l.5 .5h7l1-3l.5-.5v-1l.5-.5v-1l.5-.5l.5-2l.9-1.5l.1-10.5h6l4 4l.6 1.5l.9 1l.5 1.5l.5 .5v.5l.5 .5l.1 1l.9 1.5l.5 2l.5 .5v1l.5 .5v1l.5 .5l1 3h7l.5-.5v-1l.5-.5v-1l.9-1.5l.1-1l.5-.5v-1l.9-1.5l.1-1l.5-.5v-10.5h6.3l2.2 2l.1 .5l1.4 1.5v.5l1 1v.5l.5 .5v.5l1 1.5v.5l.5 .5v.5l.5 .5v.5l.5 .5v1l1 1.5v1l.5 .5v1l.5 .5v1l.5 .5l.5 2h7.4l.1-1l.5-.5v-1l.5-.5v-1l.5-.5l.5-2l.5-.5v-1l1-1.5v-11h6.5l3 3v.5l2 2.5v.5l1.5 2.5v.5l.5 .5v1l1 1.5v1l.5 .5l.5 2l.5 .5v1l.5 .5v1l.5 .5l.1 1h7.4l.5-2l.5-.5v-1l.5-.5v-1l.5-.5v-1l1-1.5v-1l1-1.5v-10h6l3.5 3.5v.5l1 1v.5l.5 .5v.5l1.5 2.5v.5l.5 .5v.5l.5 .5l.1 1l.9 1.5v1l.5 .5l.1 1l.9 1.5v1l.5 .5v1l.5 .5h7l1-3l.5-.5v-1l.5-.5v-1l.5-.5l.5-2l.9-1.5l.1-10.5h6l4 4l.6 1.5l.9 1l.5 1.5l.5 .5v.5l.5 .5l.1 1l.9 1.5l.5 2l.5 .5v1l.5 .5v1l.5 .5l1 3h7l.5-.5v-1l.5-.5v-1l.9-1.5l.1-1l.5-.5v-1l.9-1.5l.1-1l.5-.5v-10.5h6.3l2.2 2l.1 .5l1.4 1.5v.5l1 1v.5l.5 .5v.5l1 1.5v.5l.5 .5v.5l.5 .5v.5l.5 .5v1l1 1.5v1l.5 .5v1l.5 .5v1l.5 .5l.5 2h7.4l.1-1l.5-.5v-1l.5-.5v-1l.5-.5l.5-2l.5-.5v-1l1-1.5v-11h6.1l2.9 3v.5l1 1v.5l.5 .5v.5l1 1.5v.5l.5 .5v.5l.5 .5v.5l.5 .5v1l1 1.5v1l.5 .5l.5 2l.5 .5v1l1 1.5v1h8.5v-.5l.5-.5v-.5l.5-.5v-.5l.9-1.5l.1-1l1.5-2.5v-10.6l.8-.4h4.7l3.5 3.5v.5l2 2.5v.5l.5 .5v.5l.5 .5l1 2.5l.5 .5v.5l.5 .5v.5l.5 .5v.5l.5 .5v.5l.5 .5v.5l.5 .5v.5l1 1.5h6.5l.5-1.5l.5-.5v-.5l1.5-2.5l.5-2l1.5-2.5v-10h6.5l4.5 4.5v.5l1.5 1.5v.5l1 1l.6 1.5l.9 1v.5l1 1v.5l1 1l.5 1l1 1l1.5 .5l.5-.5h.5l1.5-1.5v-.5l1-1v-.5l1.5-2l.5-1.5l.5-.5v-.5l.5-.5v-.5l.5-.5v-.5l1-1v-7l1.5-.1l.4-.4h2.6l.8-.5h1l1.7 1h1l.5 .5h.5l.5 .5h.5l1.5 .9l.5-.1l.4-1.8v-6l1.6-.3l2-.8l3.3-2.9l3.1-4.5l2.5-5.5l1.5-4.5l1.5-7l.9-7l.5-8l-.1-6.5l-.8-9l-1.1-6.1l-1.4-5.5l-2.7-7l-1.3-2.5l-2.2-3l-2.2-2.3l-1.5-1.1l-2-.8l-1.6-.3v-6l-.4-1.8l-.5-.1l-1.5 .9h-.5l-.5 .5h-.5l-.5 .5h-1l-1.7 1h-1l-.8-.5h-2.6l-.4-.4l-1.5-.1v-7l-1-1v-.5l-.5-.5v-.5l-.5-.5v-.5l-.5-.5l-.5-1.5l-1.5-2v-.5l-1-1v-.5l-1.5-1.5h-.5l-.5-.5l-1.5 .6l-1 .9l-.5 1l-1 1v.5l-1 1v.5l-.9 1l-.6 1.5l-1 1v.5l-1.5 1.5v.5l-4.5 4.5h-6.5v-10l-1.5-2.5l-.5-2l-1.5-2.5v-.5l-.5-.5l-.5-1.5h-6.5l-.5 .5v.5l-.5 .5v.5l-.5 .5v.5l-.5 .5v.5l-.5 .5v.5l-.5 .5v.5l-.5 .5v.6l-.5 .4l-1 2.5l-.5 .5v.5l-.5 .5v.5l-2 2.5v.5l-3.5 3.5h-4.7l-.8-.4v-10.6l-1.5-2.5l-.1-1l-.9-1.5v-.5l-.5-.5v-.5l-.5-.5v-.5h-8.5v1l-1 1.5v1l-.5 .5l-.5 2l-.5 .5v1l-1 1.5v1l-.5 .5v.5l-.5 .5v.5l-.5 .5v.5l-1 1.5v.5l-.5 .5v.5l-1 1v.5l-2 2.1l-.9 .9h-.6h-5.5v-11l-1-1.5v-1l-.5-.5l-.5-2l-.5-.5v-1l-.5-.5v-1l-.5-.5l-.1-1h-7.4l-.5 2l-.5 .5v1l-.5 .5v1l-.5 .5v1l-1 1.5v1l-.5 .5v.5l-.5 .5v.5l-.5 .5v.5l-1 1.5v.5l-.5 .5v.5l-1 1v.5l-1.4 1.5l-.1 .5l-1.5 1.5l-1 .5h-6v-10.5l-.5-.5l-.1-1l-.9-1.5v-1l-.5-.5l-.1-1l-.9-1.5v-1l-.5-.5v-1l-.5-.5h-7l-1 3l-.5 .5v1l-.5 .5v1l-.5 .5l-.5 2l-.9 1.5l-.1 1l-.5 .5v.5l-.5 .5l-.5 1.5l-.9 1l-.6 1.5l-4 4h-.5h-5.5l-.1-10.5l-.9-1.5l-.5-2l-.5-.5v-1l-.5-.5v-1l-.5-.5l-1-3h-7l-.5 .5v1l-.5 .5v1l-.9 1.5l-.1 1l-.5 .5v1l-.9 1.5l-.1 1l-.5 .5v.5l-.5 .5v.5l-1.5 2.5v.5l-.5 .5v.5l-1 1v.5l-2 2l-1.5 1.5h-.5h-5.5v-10l-1-1.5v-1l-1-1.5v-1l-.5-.5v-1l-.5-.5v-1l-.5-.5l-.5-2h-7.4l-.1 1l-.5 .5v1l-.5 .5v1l-.5 .5l-.5 2l-.5 .5v1l-1 1.5v1l-.5 .5v.5l-1.5 2.5v.5l-2 2.5v.5l-3 3h-.5h-6v-11l-1-1.5v-1l-.5-.5l-.5-2l-.5-.5v-1l-.5-.5v-1l-.5-.5l-.1-1h-7.4l-.5 2l-.5 .5v1l-.5 .5v1l-.5 .5v1l-1 1.5v1l-.5 .5v.5l-.5 .5v.5l-.5 .5v.5l-1 1.5v.5l-.5 .5v.5l-1 1v.5l-1.4 1.5l-.1 .5l-1.5 1.5l-1 .5h-6v-10.5l-.5-.5l-.1-1l-.9-1.5v-1l-.5-.5l-.1-1l-.9-1.5v-1l-.5-.5v-1l-.5-.5h-7l-1 3l-.5 .5v1l-.5 .5v1l-.5 .5l-.5 2l-.9 1.5l-.1 1l-.5 .5v.5l-.5 .5l-.5 1.5l-.9 1l-.6 1.5l-4 4h-.5h-5.5l-.1-10.5l-.9-1.5l-.5-2l-.5-.5v-1l-.5-.5v-1l-.5-.5l-1-3h-7l-.5 .5v1l-.5 .5v1l-.9 1.5l-.1 1l-.5 .5v1l-.9 1.5l-.1 1l-.5 .5v.5l-.5 .5v.5l-1.5 2.5v.5l-.5 .5v.5l-1 1v.5l-2 2l-1.5 1.5h-.5h-5.5v-10l-1-1.5v-1l-1-1.5v-1l-.5-.5v-1l-.5-.5v-1l-.5-.5l-.5-2h-7.4l-.1 1l-.5 .5v1l-.5 .5v1l-.5 .5l-.5 2l-.5 .5v1l-1 1.5v1l-.5 .5v.5l-1 1.5v.5l-.5 .5v.5l-2 2.5v.5l-3 3h-6.5v99.6h6.5l3 3v.5l2 2.5v.5l.5 .5v.5l1 1.5v.5l.5 .5v1l1 1.5v1l.5 .5l.5 2l.5 .5v1l.5 .5v1l.5 .5z" fill="#0031FF"/>
<path d="M237.1 348.3l.6 .5h1.3l1-1.1l5.4-11.9l.4-2l.2-7l6 .1l3.4 2.9l3.4 5l5.2 11.6l1 1.7l.8 .7h1.3l1.4-1.7l5-11.2l.3-2.1l.2-7h6l3.5 3l3.5 5l5 11.4l1 1.7l.9 .9h1.3l1.3-1.5l4.9-11l.4-2l.2-7.5h6.1l3.4 2.9l3.3 4.6l5.2 11.6l1 1.8l1 1.1h1.3l1.2-1.3l5-11.1l.3-2.1l.2-7.5h6.1l1.6 1l2.1 2l3.4 5l5.3 11.9l1.7 2.1h1.3l1.5-1.9l4.9-11.1l.4-2l.2-7l6 .1l3.4 2.9l3.4 5l5.2 11.6l1 1.7l.8 .7h1.3l1.4-1.7l5-11.2l.3-2.1l.2-7h6l3.5 3l3.5 5l5 11.4l1 1.7l.9 .9h1.3l1.3-1.5l4.9-11l.4-2l.2-7.5h6.1l3.4 2.9l3.3 4.6l5.2 11.6l1 1.8l1 1.1h1.3l1.2-1.3l5-11.1l.3-2.1l.2-7.5h6l2.4 2l2 2.5l1.8 3l5.8 12.2l1 1.5l1.1 .8h1.4l1.5-1.4l5-9.4l.3-2.2l.2-7l5.5-.2l.6 .2l1.7 1.5l3.4 4l6.3 10.9l2 2l1.5-.1l1.5-1.5l5-9.2l.3-2.1l.2-6.5l5.5-.3l1 .3l2.5 1.8l2.2 2.2l6.8 8.6l1.5 .9l1-.2l1-.6l1.5-1.7l4.4-7l.4-1.5l.2-4.7l6-.9l3 .8l1.2-.2l.5-1.5l.3-3l2.4-.5l1.6-.8l3.1-2.7l3.1-4.5l2.6-6l1.5-5l1.5-7l.9-7.5l.3-6l-.1-7.5l-.5-6.5l-1.1-6.6l-1.5-6.5l-2.4-6.5l-2.7-5l-2-2.5l-2.2-1.9l-2-1l-2.5-.6l-.3-3l-.5-1.5l-1.2-.1l-3 .7l-6-.9l-.2-4.7l-.4-1.5l-4.4-7l-2-2l-1.5-.5l-1.5 1l-6.8 8.5l-2.2 2.2l-2.5 1.8l-1 .3l-5.5-.3l-.2-6.5l-.3-2.1l-4.5-8.5l-1.5-1.8l-1-.6l-1 .1l-1.5 1.4l-6.1 10.5l-2.2 3l-2.4 2.5l-1.8 1.2l-5.5-.1l-.2-7.1l-.3-2.2l-5-9.4l-1.5-1.4h-1.5l-1 .8l-1 1.5l-5.8 12.2l-1.8 3l-2 2.5l-2.4 2h-6l-.2-7.5l-.3-2l-5-11.2l-1.2-1.3h-1.3l-1 1.1l-1 1.8l-5.2 11.6l-3.3 4.7l-3.4 2.8h-6.1l-.2-7.5l-.4-2l-4.9-11l-1.3-1.5h-1.3l-.9 .9l-1 1.8l-5 11.3l-3.5 5l-3.5 3h-6l-.2-7l-.3-2l-5-11.3l-1.4-1.7h-1.3l-.8 .8l-1 1.6l-5.2 11.6l-3.4 5l-3.4 3h-6l-.2-7l-.4-2l-4.9-11.1l-1.5-1.9h-1.3l-1.7 2.2l-5.3 11.8l-3.4 5l-2.1 2l-1.6 1h-6.1l-.2-7.5l-.3-2l-5-11.2l-1.2-1.3h-1.3l-1 1.1l-1 1.8l-5.2 11.6l-3.3 4.7l-3.4 2.8h-6.1l-.2-7.5l-.4-2l-4.9-11l-1.3-1.5h-1.3l-.9 .9l-1 1.8l-5 11.3l-3.5 5l-3.5 3h-6l-.2-7l-.3-2l-5-11.3l-1.4-1.7h-1.3l-.8 .8l-1 1.6l-5.2 11.6l-3.4 5l-3.4 3h-6l-.2-7l-.4-2l-4.9-11.1l-1.5-1.9h-1.3l-1.7 2.2l-4.7 10.3l-1.9 3l-2.4 3l-2.1 2l-1.4 .9l-6-.2v98.2l6-.2l1.4 .9l2.1 2l2.4 3l1.9 3l4.2 9.3z" fill="#0061FF"/>
<path d="M237.5 346.3l1 .3l1.5-1.2l5.5-10.9l.5-8.2h5.6l1.4 .8l2.1 1.7l2.1 2.5l1.8 2.7l5.5 11.1l1 1.2l1 .3l1-.5l1-1.3l5-10.1l.5-8.4h6l3.2 2.5l1.8 2l2 3l5.5 11.1l1 1.2l1 .5l1-.3l1.5-2l4.5-9.4l.5-8.6h6l3.3 2.5l1.8 2l2 3l5.4 10.9l1 1.3l1 .6l1-.3l1.5-1.8l4.5-9.4l.5-8.8h6l1.7 1l1.7 1.5l3.3 4l5.8 11.7l1 1.4l1 .7l1-.2l1.5-1.7l5-10.2l.5-8.2h5.6l1.4 .8l2.1 1.7l2.1 2.5l1.8 2.7l5.5 11.1l1 1.2l1 .3l1-.5l1-1.3l5-10.1l.5-8.4h6l3.2 2.5l1.8 2l2 3l5.5 11.1l1 1.2l1 .5l1-.3l1.5-2l4.5-9.4l.5-8.6h6l3.3 2.5l1.8 2l2 3l5.4 10.9l1 1.3l1 .6l1-.3l1.5-1.8l4.5-9.4l.5-8.8h6l2.5 2l1.7 2l2.1 3l5.7 11.1l1.5 1.7l1 .5l1.5-.5l1.5-1.6l4.5-7.8l.5-8.6l5.5-.1l2 1.3l3.7 4l5.8 9.1l1.5 1.9l1 .7l1.5-.1l1.5-1.4l5-8.3l.5-7.9l5.5-.3l1 .3l2.3 1.5l2.3 2l6.9 7.9l1.5 .8l1-.1l1-.6l1.5-1.5l4.5-6.4l.5-5.7l6-.8l2 .4l1-.3l.5-.7l.4-3l2.4-.5l2-1l1.9-1.5l1.7-2l2.5-4l2.2-5l1.7-5.5l1.4-6.5l.9-7l.4-7l-.1-7.5l-.6-7l-1.1-6.6l-1.4-6l-2.2-6l-3-5.5l-2-2.5l-2.3-2l-2-1l-2.4-.5l-.4-3l-.5-.7l-1-.3l-2 .4l-6-.7l-.5-5.7l-4-5.8l-2-2.2l-1-.6l-1-.1l-1.5 .8l-6.9 7.9l-2.3 2l-2.3 1.6l-1 .2l-5.5-.3l-.5-7.9l-4.5-7.6l-1.5-1.7l-1-.5h-1l-1.5 1.3l-6.4 9.9l-4.1 4.5l-2 1.3l-5.5-.1l-.5-8.6l-5-8.4l-1.5-1.3h-1.5l-1 .7l-1 1.4l-5.7 11l-2.1 3l-1.7 2l-2.5 2h-6l-.5-8.8l-4.5-9.3l-1.5-1.9l-1-.3l-1 .6l-1 1.3l-5.4 10.9l-2 3l-1.8 2l-3.3 2.5h-6l-.5-8.6l-4.5-9.3l-1.5-2l-1-.4l-1 .5l-1 1.2l-5.5 11.1l-2 3l-1.8 2l-3.2 2.5h-6l-.5-8.4l-5-10.1l-1-1.3l-1-.5l-1 .4l-1 1.1l-5.5 11.1l-1.8 2.7l-2.1 2.5l-2.1 1.8l-1.4 .7h-5.6l-.5-8.1l-5-10.3l-1.5-1.7l-1-.2l-1 .7l-1 1.5l-5.8 11.6l-3.3 4l-1.7 1.5l-1.7 1h-6l-.5-8.8l-4.5-9.3l-1.5-1.9l-1-.3l-1 .6l-1 1.3l-5.4 10.9l-2 3l-1.8 2l-3.3 2.5h-6l-.5-8.6l-4.5-9.3l-1.5-2l-1-.4l-1 .5l-1 1.2l-5.5 11.1l-2 3l-1.8 2l-3.2 2.5h-6l-.5-8.4l-5-10.1l-1-1.3l-1-.5l-1 .4l-1 1.1l-5.5 11.1l-1.8 2.7l-2.1 2.5l-2.1 1.8l-1.4 .7h-5.6l-.5-8.1l-5-10.3l-1.5-1.7l-1-.2l-1 .7l-1 1.5l-4.8 9.6l-1.6 2.5l-2.1 2.5l-2.4 2l-1.6 .9l-6-.3v97.4l6-.3l1.6 .9l2.4 2l3.1 4l5.3 10.5z" fill="#0092FF"/>
<path d="M237.8 345.3h1.2l1.5-1.7l5-9.8l.3-7l.2-.9l6 .1l3.5 2.8l3.2 4l5.8 11.2l1 1.1l1 .4l1-.5l1-1.2l5-9.8l.3-7.2l.2-.9l6 .1l3.5 2.6l3.7 4.7l5.3 10.5l1 1.2l1 .5l1-.4l1.5-1.9l4.5-9l.3-7.4l.2-.9h6l3.5 2.6l1.7 1.8l2.1 3l5.2 10.3l1 1.3l1 .6l1-.3l1.5-1.8l4.5-9l.3-7.6l.2-.9h6l3 2.1l2.3 2.3l1.5 2l5.7 11.1l1 1.4l1 .6l1-.1l1.5-1.7l5-9.8l.3-7l.2-.9l6 .1l3.5 2.8l3.2 4l5.8 11.2l1 1.1l1 .4l1-.5l1-1.2l5-9.8l.3-7.2l.2-.9l6 .1l3.5 2.6l3.7 4.7l5.3 10.5l1 1.2l1 .5l1-.4l1.5-1.9l4.5-9l.3-7.4l.2-.9h6l3.5 2.6l1.7 1.8l2.1 3l5.2 10.3l1 1.3l1 .6l1-.3l1.5-1.8l4.5-9l.3-7.6l.2-.9l6 .1l2 1.4l2.7 2.9l2 3l5.3 10l1.5 1.7l1 .4l1.5-.4l1.5-1.6l4.5-7.5l.2-7.1l.3-1.1l5.5-.1l1 .4l2 1.7l3.7 4.1l5.3 8.3l2 1.8l1.5-.1l1.5-1.3l5-8l.3-6.7l.2-.9l6-.3l2.5 1.5l2.5 2.1l7 7.7l1.5 .8l1-.1l1-.6l1.5-1.5l4.5-6.2l.2-4.5l.3-.9l8-1.3l.5-.6l.6-2.2l3.5-1l2.2-1.5l1.9-2l1.8-2.5l2-3.8l1.5-3.7l1.5-5l1.5-7l.9-7l.3-6.5l-.1-7.5l-.6-7l-1-6.3l-1.5-6.1l-3-7.9l-1.5-2.8l-2-2.7l-1.7-1.8l-2.2-1.5l-3.5-1l-.6-2.2l-.5-.6l-8-1.3l-.3-.9l-.2-4.5l-4-5.6l-2-2.1l-1-.5l-1-.2l-1.5 .8l-7 7.8l-2.5 2l-2.5 1.6l-6-.4l-.2-.9l-.3-6.7l-4.5-7.3l-1.5-1.6l-1-.5h-1l-1.5 1.2l-6.2 9.4l-2.6 3l-2.7 2.3l-1 .5l-5.5-.2l-.3-1.1l-.2-7.1l-5-8.1l-1.5-1.2l-1.5-.1l-1 .8l-1.5 2l-5.7 10.7l-1.5 2l-2.3 2.4l-2 1.5h-6l-.2-.9l-.3-7.6l-4.5-9l-1.5-1.8l-1-.2l-1 .5l-1 1.3l-5.2 10.3l-2.1 3l-1.7 1.8l-3.5 2.6h-6l-.2-.9l-.3-7.4l-4.5-9l-1.5-1.9l-1-.3l-1 .4l-1 1.2l-5.3 10.5l-3.7 4.7l-3.5 2.7h-6l-.2-.9l-.3-7.2l-5-9.8l-1-1.2l-1-.4l-1 .3l-1 1.1l-5.8 11.2l-3.2 4l-3.5 2.8l-6 .1l-.2-.9l-.3-6.9l-5-9.9l-1.5-1.7l-1-.1l-1 .7l-1 1.3l-5.7 11.1l-1.5 2l-2.3 2.4l-3 2h-6l-.2-.9l-.3-7.6l-4.5-9l-1.5-1.8l-1-.2l-1 .5l-1 1.3l-5.2 10.3l-2.1 3l-1.7 1.8l-3.5 2.6h-6l-.2-.9l-.3-7.4l-4.5-9l-1.5-1.9l-1-.3l-1 .4l-1 1.2l-5.3 10.5l-3.7 4.7l-3.5 2.7h-6l-.2-.9l-.3-7.2l-5-9.8l-1-1.2l-1-.4l-1 .3l-1 1.1l-5.8 11.2l-3.2 4l-3.5 2.8l-6 .1l-.2-.9l-.3-6.9l-5-9.9l-1.5-1.7l-1-.1l-1 .7l-1 1.3l-3.3 6.6l-2.1 3.5l-1.9 2.5l-1.9 2l-2.8 2.1l-6.5-.1v96.7l6.5-.2l2.8 2.1l1.9 2l1.9 2.5l2.1 3.5l3.3 6.6l1 1.4z" fill="#00C2FF"/>
<path d="M237.8 342.8h1.2l1.5-1.7l5-9.5l.1-4.8l.4-1.7l6 .1l3.9 2.6l3.2 3.5l5.4 10.2l1 1.1l1 .3l1-.4l1.5-2l4.5-8.7l.1-5l.4-1.7h6l4.1 2.7l1.9 2l1.5 2l5 9.5l1 1.2l1 .4l1-.3l1.5-1.9l4.5-8.7l.1-5.2l.4-1.7h6l2.2 1.2l2 1.5l3.3 3.8l5 9.5l1 1.3l1 .5l1-.2l1.5-1.8l4.5-8.6l.1-5.5l.4-1.7h6l2 1l2.3 1.7l3.2 3.6l5 9.5l1 1.4l1 .6l1-.1l1.5-1.7l5-9.5l.1-4.8l.4-1.7l6 .1l3.9 2.6l3.2 3.5l5.4 10.2l1 1.1l1 .3l1-.4l1.5-2l4.5-8.7l.1-5l.4-1.7h6l4.1 2.7l1.9 2l1.5 2l5 9.5l1 1.2l1 .4l1-.3l1.5-1.9l4.5-8.7l.1-5.2l.4-1.7h6l2.2 1.2l2 1.5l3.3 3.8l5 9.5l1 1.3l1 .5l1-.2l1.5-1.8l4.5-8.6l.1-5.5l.4-1.7h6l3.2 2.2l2 2l2.2 3l4.6 8.5l1.5 1.7l1 .4l1.5-.4l1.5-1.6l4.5-7.5l.2-5.1l.3-1.7h6l2.6 1.7l4.1 4l4.8 7.4l2 1.8l1.5-.1l1.5-1.2l5-8l.1-4.4l.4-1.9l6-.2l1.5 .7l3 1.8l2.5 2.1l5 5.7l1.5 .8l1-.1l1-.5l1.5-1.4l4.5-6.2l.1-3.3l.4-1.2l3.9-.8l2.6-1.3l1.3-1.2l3.6-1l2.2-1.5l2.4-2.5l2-3l3-6.8l1.5-4.9l1.5-7.2l.9-8.1l.2-5l-.1-8.5l-.5-5.6l-1-6.4l-1.5-6.2l-3-7.9l-2-3.5l-1.5-2l-1.9-2l-2.2-1.5l-3.6-1l-1.3-1.2l-2.6-1.3l-3.9-.8l-.4-1.2l-.1-3.3l-4-5.6l-2-2l-1.5-.6l-1.5 .4l-1.5 1.4l-4.6 5.2l-2.5 2l-2.9 1.7l-1 .5l-6-.3l-.4-1.9l-.1-4.4l-4.5-7.3l-1.5-1.6l-1-.5l-1 .1l-1.5 1.2l-5 7.7l-2.6 2.8l-2.4 2l-2.5 1.3h-5.5l-.3-1.8l-.2-5.1l-5-8.1l-1.5-1.2h-1.5l-1 .7l-1.5 2l-4.4 8.2l-1.9 2.5l-2 2l-3.2 2.2h-6l-.4-1.7l-.1-5.4l-4.5-8.7l-1.5-1.8l-1-.2l-1 .5l-1 1.3l-5 9.5l-3.3 3.8l-2 1.5l-2.2 1.2h-6l-.4-1.7l-.1-5.2l-4.5-8.7l-1.5-1.9l-1-.3l-1 .4l-1 1.2l-5 9.5l-1.5 2l-1.9 2l-4.1 2.7h-6l-.4-1.7l-.1-5l-4.5-8.7l-1.5-2l-1-.4l-1 .3l-1 1.1l-5.4 10.2l-3.2 3.5l-3.9 2.6l-6 .1l-.4-1.7l-.1-4.8l-5-9.5l-1.5-1.6l-1-.2l-1 .7l-1 1.3l-5 9.5l-3.2 3.6l-2.3 1.7l-2 1h-6l-.4-1.7l-.1-5.4l-4.5-8.7l-1.5-1.8l-1-.2l-1 .5l-1 1.3l-5 9.5l-3.3 3.8l-2 1.5l-2.2 1.2h-6l-.4-1.7l-.1-5.2l-4.5-8.7l-1.5-1.9l-1-.3l-1 .4l-1 1.2l-5 9.5l-1.5 2l-1.9 2l-4.1 2.7h-6l-.4-1.7l-.1-5l-4.5-8.7l-1.5-2l-1-.4l-1 .3l-1 1.1l-5.4 10.2l-3.2 3.5l-3.9 2.6l-6 .1l-.4-1.7l-.1-4.8l-5-9.5l-1.5-1.6l-1-.2l-1 .7l-1 1.3l-3.5 6.4l-1.5 1.2l-2.4 3l-2.7 2.5l-2.4 1.4l-6-.3v96.4l6-.3l2.4 1.4l2.7 2.5l2.4 3l1.5 1.2l3.5 6.4l1 1.4z" fill="#00F3FF"/>
<path d="M237.4 337.8l1.1 .3l1-.5l2.5-3.2l3.5-6.4l.1-2.7l.4-1.7l6 .1l2.9 1.1l2.5 1.5l1.6 1.3l5 8.7l1.5 1.5l1 .3l1-.4l1-.9l3.5-5.6l1.5-3l.1-2.9l.4-1.7h6l3 1.2l2.5 1.5l2 1.9l4.5 7.9l1.5 1.6l1 .4l1-.3l1-.9l3.6-5.6l1.4-2.9l.1-3.1l.4-1.7h6l3.1 1.2l2.5 1.5l1.9 1.7l2 3.8l3 4.8l1 1l1 .5l1-.2l1.5-1.4l3.5-5.7l1-2.1l.1-3.4l.4-1.7l6.5 .1l2.7 1.1l2.5 1.5l1.8 1.4l2.4 4.6l2.6 4.2l1 1l1 .6l1-.2l1-.7l3.5-5.4l2-3.8l.1-2.7l.4-1.7l6 .1l2.9 1.1l2.5 1.5l1.6 1.3l5 8.7l1.5 1.5l1 .3l1-.4l1-.9l3.5-5.6l1.5-3l.1-2.9l.4-1.7h6l3 1.2l2.5 1.5l2 1.9l4.5 7.9l1.5 1.6l1 .4l1-.3l1-.9l3.6-5.6l1.4-2.9l.1-3.1l.4-1.7h6l3.1 1.2l2.5 1.5l1.9 1.7l2 3.8l3 4.8l1 1l1 .5l1-.2l1.5-1.4l3.5-5.7l1-2.1l.1-3.4l.4-1.7h6l2 .8l2.4 1.4l3.1 2.6l1.6 3.4l2.9 4.5l1.5 1.4l1 .3l1-.1l1.5-1l3.4-4.6l1.6-3.1l.5-4.6h6l4.5 2.2l2.5 1.8l3.5 5.7l1.5 1.7l1.5 1h1l1.5-.7l1.5-1.5l2.5-3.5l1.5-2.8l.5-4.4l6-.1l3.7 1.3l3.3 1.7l2 2.8l3 2.8l1.5 .7l1-.1l1-.4l1.5-1.1l2.9-3.4l1.6-2.7l.5-3l4.1-1.8l3.8-1l2.1-1.3l1.8-1.7l1.9-2.5l1.5-2.5l2.8-6.5l1.7-5.5l1.2-6l.8-6.5l.4-6.5l-.1-6l-.4-6.5l-1-6.6l-1.3-6l-1.4-4.5l-1.7-4l-1.5-3l-2.1-3l-2.4-2.5l-2.3-1.5l-3.8-1l-4.1-1.8l-.5-3l-1.5-2.5l-2-2.5l-2-1.9l-2-.8l-1.5 .4l-3.5 3.1l-2 2.8l-4.5 2.2l-2.5 .9l-6-.2l-.5-4.4l-1.5-2.8l-3-4l-1.5-1.3l-1-.4l-1 .1l-1.5 1l-2.6 3.1l-2.4 4.3l-3 2.1l-4 1.9h-6l-.5-4.6l-1.6-3.2l-2.4-3.5l-1.5-1.5l-1.5-.7l-1 .1l-1.5 1.1l-1.5 1.9l-1.9 3.1l-1.6 3.4l-3 2.6l-2.5 1.4l-2 .8h-6l-.4-1.7l-.1-3.4l-1-2.1l-3.5-5.6l-1.5-1.4l-1-.3l-1 .5l-1 1l-3 4.8l-2 3.9l-1.9 1.6l-2.5 1.5l-3.1 1.2h-6l-.4-1.7l-.1-3.1l-1.4-2.9l-3.6-5.6l-1-.9l-1-.3l-1 .4l-1.5 1.6l-4.5 7.9l-2 1.9l-2.5 1.5l-3 1.2h-6l-.4-1.7l-.1-2.9l-1.5-3l-3.5-5.5l-1-1l-1-.4l-1 .3l-1.5 1.5l-5 8.7l-1.6 1.3l-2.5 1.5l-2.9 1.2h-6l-.4-1.7l-.1-2.6l-2-3.9l-3.5-5.4l-1-.7l-1-.1l-1 .5l-1 1.1l-2.6 4.1l-2.4 4.6l-1.8 1.4l-2.5 1.5l-2.7 1.1l-6.5 .1l-.4-1.7l-.1-3.4l-1-2.1l-3.5-5.6l-1.5-1.4l-1-.3l-1 .5l-1 1l-3 4.8l-2 3.9l-1.9 1.6l-2.5 1.5l-3.1 1.2h-6l-.4-1.7l-.1-3.1l-1.4-2.9l-3.6-5.6l-1-.9l-1-.3l-1 .4l-1.5 1.6l-4.5 7.9l-2 1.9l-2.5 1.5l-3 1.2h-6l-.4-1.7l-.1-2.9l-1.5-3l-3.5-5.5l-1-1l-1-.4l-1 .3l-1.5 1.5l-5 8.7l-1.6 1.3l-2.5 1.5l-2.9 1.2h-6l-.4-1.7l-.1-2.6l-2-3.9l-3.5-5.4l-1-.7l-1-.1l-1 .5l-1 1.1l-3.5 5.1l-3 .6l-5 4l-1 .5l-6-.3v96l6-.3l1 .5l5 4l3 .6l3.5 5.2z" fill="#00FFDB"/>
<path d="M228.3 328.8l1.7 .3l.7-.3l1.8-4.9l.5-.4l4 4.1l1.5 .4l1-.4l2-1.8l4.5-5.5v-1h2l.5 .5h3.5l.5 .5h3.5l1 .4l2.1 .1l4.9 5.8l1.5 1.2l1 .2l1-.3l1-.7l5-6l.5-.2h13.2l4.8 5.7l1.5 1.2l1 .3l1-.2l1.5-1.2l5-5.8h13.5l4.5 5.6l1.5 1.2l1 .4l1-.2l1.5-1l5-6.1l13.6 .1l4.9 6l1.5 1l1 .2l1-.4l1-.7l5-6.1l.5-.1l13.1 .1l4.9 5.8l1.5 1.2l1 .2l1-.3l1-.7l5-6l.5-.3l13.2 .1l4.8 5.7l1.5 1.2l1 .3l1-.2l1.5-1.2l5-5.9l13.5 .1l4.5 5.6l1.5 1.2l1 .4l1-.2l1.5-1l5-6.1l13.6 .1l4.4 5.7l1.5 1.1l1 .4l1.5-.3l1.5-1.1l4.5-5.7l.5-.1h13.1l4.4 5.3l1.5 1.1l1 .3l1.5-.2l1.5-1.1l4.5-5.2l.5-.2h13.2l4.8 4.4l1.5 .7h1.5l2.5-1.4l3.6-3.7l3.8-1l1.8-1l2.3-2l2-2.5l1.9-3l3-7l1.5-5l1.1-5.3l.8-5.7l.4-5.5l.1-6l-.3-5.9l-.6-5.6l-1-5.6l-1.5-5.5l-1.8-5l-2.1-4.1l-2.5-3.7l-3.3-3.2l-2.7-1.3l-2.9-.7l-3.6-3.6l-1.5-1.1l-1.5-.4l-1.5 .2l-1.5 .9l-4.3 4l-13.2 .1l-.5-.3l-4.5-5.2l-1.5-1l-1.5-.3l-1 .3l-1.5 1.2l-4.4 5.2l-13.1 .1l-.5-.1l-4.5-5.7l-1.5-1.1l-1.5-.3l-1 .3l-1.5 1.2l-4.4 5.6l-13.6 .1l-5-6l-1.5-1.1l-1-.2l-1 .4l-1.5 1.2l-4.5 5.6l-13.5 .1l-5-5.9l-1.5-1.1l-1-.3l-1 .3l-1.5 1.2l-4.8 5.7l-13.2 .1l-.5-.3l-5-6l-1-.7l-1-.3l-1 .3l-1.5 1.1l-4.9 5.8l-13.1 .1l-.5-.1l-5-6.1l-1-.7l-1-.4l-1 .2l-1.5 1.1l-4.9 5.9l-13.6 .1l-5-6l-1.5-1.1l-1-.2l-1 .4l-1.5 1.2l-4.5 5.6l-13.5 .1l-5-5.9l-1.5-1.1l-1-.3l-1 .3l-1.5 1.2l-4.8 5.7l-13.2 .1l-.5-.3l-5-6l-1-.7l-1-.3l-1 .3l-1.5 1.1l-4.9 5.8l-2.1 .1l-1 .4h-3.5l-.5 .5h-3.5l-.5 .5h-2v-1l-4.5-5.5l-2-1.8l-1-.4l-1.5 .5l-4 4l-.5-.4l-1.8-4.9l-.7-.2h-1l-2 .7l-3.5 2.2l-6-.2v95.7l6-.3l3.5 2.2z" fill="#00FFAA"/>
<path d="M226.9 327.3l2.1 .3l.7-.8l1.7-6v-3.5l4.1-.3l30.5 3.1l8-.6l13-.1l7.5 .7l7.5-.7h13l7.5 .7l7.5-.8h13.5l7.5 .7l7.5-.8h13l7.5 .7l7.5-.8h13l7.5 .8l3.5-.3l4-.6l13-.1l5 .7l3 .2l7-.9l13.5 .1l7 .9l8-.7l13 .1l7 .8l8-.7h13l7 .7l5-.4l1.5-.5l3-2.9l2.1-2.5l1.7-2.5l3.1-6.5l2.4-7.5l1.5-8.5l.6-9l-.3-9l-1.4-9.1l-1.2-5l-1.6-4.5l-1.7-4l-2-3.5l-2.3-3l-3.5-3.5l-1.4-.8l-2-.3l-4.5-.1l-6 .6h-13l-8-.6l-7 .7l-13 .2l-8-.8l-7 .9l-13.5 .2l-7-.9l-3 .1l-5 .7l-13-.1l-4-.6l-3.5-.2l-7.5 .8l-13-.1l-7.5-.8l-7.5 .7h-13l-7.5-.8l-7.5 .7h-13.5l-7.5-.7l-7.5 .7l-13-.1l-7.5-.7l-7.5 .7l-13-.1l-8-.6l-30.5 3.2l-4.1-.4v-3.5l-1.4-5.1l-.6-1.4l-.4-.2l-2.5 .3l-3 1.3l-6-.3v95.4l6-.3z" fill="#00FF79"/>
<path d="M226.1 326.3h1.9l.8-1.5l1.4-4v-3.5l1.8-.4l6.5-.6l7 .4l15 1.7l5.5 .3l8-.5l13-.1l7.5 .5l7.5-.6h13l7.5 .4l7.5-.5l13.5-.1l7.5 .5l7.5-.6l13-.1l7.5 .4l7.5-.6l13-.1l7.5 .5l7.5-.6l13-.3l8 .5l7-.6l13.5 .4l7.5 .7l7.5-.4l13 .2l7.5 .7l7.5-.5h13l5.5 .5l4-.1l1.3-.5l1.3-1.5l5.2-7.5l2.9-6.5l2.1-7l1.4-8l.5-7.5l-.3-8l-1.2-8.1l-2.3-8.5l-3.1-7l-2.9-4.5l-2.9-3.7l-1-.9l-1.5-.5h-4l-5 .5h-13l-7.5-.5l-7.5 .7l-13 .2l-7.5-.4l-7.5 .7l-13.5 .4l-7-.6l-8 .5l-13-.2l-7.5-.7l-7.5 .5l-13-.1l-7.5-.6l-7.5 .5l-13-.1l-7.5-.6l-7.5 .4h-13.5l-7.5-.6l-7.5 .5l-13-.1l-7.5-.6l-7.5 .5l-13-.1l-8-.5l-5.5 .3l-15 1.8l-7 .4l-6.5-.6l-1.8-.5v-3.5l-1.1-3.5l-1.1-2h-1.5l-3 .5l-6-.3v95.2l6-.3z" fill="#00FF49"/>
<path d="M217.5 325.8v.2h1.5l2.7-.2l1.8-.5l2.5 .2l.7-.2l1.1-1.5l.9-2l.3-1v-3.5l.8-.5l14.7-1.4l15.5 1.6l5.5 .2l8.5-.4l13-.1l7.5 .3l7.5-.4l13-.1l7.5 .3l7.5-.5l13.5-.1l7.5 .2l7.5-.4l13-.2l7.5 .3l7.5-.5l13-.2l7.5 .3l20.5-1l8 .3l7-.4l13.5 .5l7 .7l8-.2l13 .4l7.5 .6l20.5-.3l8 .4l1-.4l1.8-2l4.4-6.5l2.7-6l2.1-6.5l1.4-7.5l.5-7.5l-.2-7.5l-1-7.5l-2-8.1l-3-7l-2.2-3.8l-2.3-3.2l-1.7-2l-1.5-.8l-8 .3l-20.5-.2l-7.5 .5l-13 .4l-8-.1l-7 .6l-13.5 .5l-7-.3l-8 .2l-20.5-.9l-7.5 .2l-13-.2l-7.5-.5l-7.5 .3l-13-.2l-7.5-.4l-7.5 .3l-13.5-.2l-7.5-.4l-7.5 .3l-13-.2l-7.5-.4l-7.5 .3l-13-.1l-8.5-.4l-5.5 .2l-15.5 1.6l-14.7-1.4l-.8-.5v-3.5l-.3-1l-.9-2l-1.1-1.5l-.7-.2l-2.5 .2l-1.8-.5l-4.2-.2z" fill="#00FF18"/>
<path d="M217.5 325.8h2.4l3.6-1h1.5l.5-.2l1.4-1.8l1-2v-4l21.1-2.2l15 1.1l23-.5l7.5 .2l7.5-.4h20.5l7.5-.4l21-.1l20.5-.6l7.5 .1l7.5-.4l21.5-.3l20-1l14.5-.2l20.5 1.3l21 .6l7.5 .5l27.5 .1l1-.5l1.5-1.7l4-6.6l2.5-5.7l2-6.8l1.1-6.5l.5-7l-.1-6.5l-1-7.2l-2-7.7l-3-7.2l-2-3.5l-2.5-3.7l-1.2-1.3l-1.3-.3l-27 .1l-7.5 .5l-21 .6l-20.5 1.3l-14.5-.1l-20-1.1l-21.5-.3l-7.5-.4l-7.5 .1l-20.5-.6l-21-.1l-7.5-.4h-20.5l-7.5-.4l-7.5 .2l-23-.5l-15 1.1l-21.1-2.2v-4l-1-2l-1.4-1.7l-.5-.3h-1.5l-3.6-1l-2.4-.1z" fill="#18FF00"/>
<path d="M217.5 325.8l5-1.1l1.5-.5l1-.8l1.8-2.6l.2-4.1l25.5-3l13.5 .4l85-1.6l56-1.7l21-1.4l14.5-.2l20.5 1.5l29 1.5h16.5l5-.3l1.4-.6l1-1l3.6-5l3-5.8l2.3-6.2l1.3-6l.7-6l-.1-6.5l-.7-6l-2.2-8.1l-3.3-7.2l-2.3-3.8l-2.3-3l-1.4-1.2l-1.5-.4l-5.5-.3l-15.5 .1l-29 1.4l-20.5 1.5l-14.5-.2l-21-1.4l-56-1.7l-85-1.6l-13.5 .4l-25.5-3l-.2-4.1l-1.8-2.5l-1.4-1l-6.1-1.5z" fill="#49FF00"/>
<path d="M217.5 325.3v.3l4.7-1.3l2.3-1.9l1.2-1.6v-4l.8-.4l34.5-4l61.5-1.3l56-1.9l30.5-1.4l19-1.8l5.5-.2l9-.1l21 1.8l29 1.8l6.5 .2l6-.2l1.7-.5l1.3-.9l3.9-4.1l3.5-5l2.7-5.5l1.6-5l1-5.5l.3-5.5l-.6-5.5l-.8-3.5l-1.3-4.1l-1.6-3.5l-2.2-3.9l-2.6-3.6l-3.2-3.5l-2-1.5l-1.7-.5l-6-.2l-6.5 .2l-29 1.9l-21 1.7l-9-.1l-5.5-.2l-19-1.8l-30.5-1.4l-56-1.8l-61.5-1.4l-34.5-4l-.8-.4v-4l-1.2-1.5l-2.3-2l-4.7-1.3z" fill="#79FF00"/>
<path d="M217.5 324.8v.4l3.4-.9l2.1-1.7l1.6-1.8v-3.5l.3-.5l1.1-.6l33.5-4.1l6.4-1.3l3.6-.4l53.5-1.6l56-2.5l31.5-2.1l7.5-.8l11-1.9l4.5-.3l9-.1l21.5 2.1l25.5 2l8 .4l3-.1l1.5-.4l1.4-.8l3.4-3l3.7-4.4l3-5l1.9-4.6l1-4.5l.3-4.5l-.3-4.5l-.9-3.5l-1.2-3.5l-1.8-3.6l-2.3-3.5l-2.7-3.2l-3-3l-2-1.3l-2.5-.7l-7.5 .1l-25.5 2l-24.5 2.3h-9l-4.5-.4l-11-1.8l-7.5-.9l-31.5-2l-56-2.5l-53.5-1.7l-3.6-.4l-6.4-1.2l-33.5-4.1l-1.1-.7l-.3-.5v-3.5l-.9-1l-2.8-2.5l-3.4-.9z" fill="#AAFF00"/>
<path d="M217.5 324.8l2.5-.7l2.6-2.3l.9-1l.2-3.5l2.3-1.4l33.5-4.2l16.8-3.4l4.2-.5l41-1.6l28.5-1.5l27.5-1.9l16.9-1.5l12.1-1.3l9-1.3l5.5-1.4l8.5-2.9l3.5-.7l9.5-.1l36.4 3.7l17.6 1.5l3.5-.1l2.5-1l2-1.6l2.5-2.8l2.5-4l1.5-3.6l.9-3.4l.3-3.5l-.2-3.5l-.7-3l-1.1-3l-1.2-2.5l-2-3.1l-2-2.3l-2-1.8l-1.5-.8l-2-.5h-4l-22.2 1.9l-30.8 3.2h-9l-4-.8l-8.5-2.9l-5.5-1.4l-9-1.3l-12.1-1.3l-17.4-1.5l-28-1.9l-27.5-1.5l-42-1.7l-6.1-.9l-13.9-2.9l-33.5-4.2l-2.3-1.4l-.2-3.5l-.9-1l-2.1-2l-3-1.1z" fill="#DBFF00"/>
<path d="M217.5 324.3v.2l.8-.2l.9-.5l2.3-2l1-1v-3l3.5-2.1l33.5-4.3l19.1-4.1l11.2-2l8.2-.8l36-2.3l22.5-1.9l22.5-2.6l20.3-3.4l6.2-1.5l4.5-1.5l3.5-1.5l4.6-2.5l6.9-2.4l7-3.9l2.9-2.2v-.5l-4.1-3l-5.8-3.1l-6.9-2.4l-4.6-2.5l-3.5-1.6l-4.5-1.5l-6.2-1.5l-20.3-3.4l-22.5-2.6l-22.5-1.8l-36-2.4l-8.2-.8l-11.2-2l-19.1-4l-33.5-4.3l-3.5-2.2v-3l-3.3-3l-1.7-.7z" fill="#FFF300"/>
<path d="M217.5 323.8v.3l1-.7l2.9-2.6l.1-2.5l.4-.5l4.1-2.4l33.5-4.4l26.6-5.7l28.4-5l34.4-4.5l12.1-1.2l9-1.5l9-2.1l2.5-.9l2-1.2l19.5-2.5l17.6-3.1l2.9-.9l2.4-1.1l2.7-2l.5-.5v-.5l-1.7-1.5l-2.4-1.5l-4.5-1.6l-17.5-3.1l-19.5-2.4l-2-1.2l-2.5-1l-9-2l-9-1.5l-12.1-1.3l-34.4-4.5l-28.4-5l-26.6-5.7l-33.5-4.4l-4.1-2.4l-.4-.5l-.1-2.5l-3.9-3.3z" fill="#FFC200"/>
<path d="M217.5 323.3l2.9-2.5l.3-2.5l5.3-3.1l33.5-4.5l28-6.2l43.4-8.2l14.1-2.1l16-1.6l8-1.3l10-2.4l2.5-1l2-1.3l17.7-2.3l15.1-3l5-1.5l1.8-1v-.5l-1.8-1l-3.1-1l-10.2-2.3l-13.4-2.2l-11.1-1.4l-2-1.3l-2.5-1l-10-2.4l-8-1.3l-16-1.6l-14.1-2.1l-43.4-8.1l-28-6.2l-33.5-4.5l-5.3-3.2l-.3-2.5l-2.9-2.5z" fill="#FF9200"/>
<path d="M217.5 322.3l1.9-1.5l.1-2l6.5-3.9l33.5-4.6l27.5-6.3l38.5-7.8l17.5-3l18-2.2l7.5-1.3l10.5-2.7l2.5-1.1l2-1.5l8.6-1.1l10.6-2l7.3-2l1.2-.5v-.5l-4.4-1.5l-6.5-1.5l-9.3-1.7l-7.5-1l-2-1.4l-2.5-1.1l-5-1.5l-6-1.3l-7-1.3l-17.5-2.1l-18-3.1l-38.5-7.8l-27.5-6.3l-33.5-4.6l-6.5-3.9l-.1-2l-1.9-1.6z" fill="#FF6100"/>
<path d="M217.5 321.3v.3l.9-.8l.1-1.5l.5-.5l7-4.2l33.5-4.7l27.5-6.5l37.5-8.1l18-3.3l18.5-2.7l7-1.4l6-1.4l5-1.6l2.5-1.3l2-1.6l11-2.1l3.4-1.1v-.5l-6.4-1.9l-8-1.3l-2-1.7l-2.5-1.2l-5.5-1.8l-6-1.4l-6.5-1.3l-18-2.5l-18.5-3.5l-37.5-8.1l-27.5-6.5l-33.5-4.7l-7-4.2l-.5-.5l-.1-1.5l-.9-.7z" fill="#FF3100"/>
<path d="M217.5 319.3v.5l.3-.5l.7-.5l7.5-4.4l33.5-4.8l29-7.1l35-8l17.5-3.6l19.5-3.3l9-2l6-1.7l4.5-1.9l2-1.4l1.4-1.8v-.5l-1.4-1.9l-2.5-1.7l-4.5-1.7l-5.5-1.6l-9-2l-19.5-3.3l-17.5-3.6l-35-8l-29-7.1l-33.5-4.8l-7.5-4.4l-.7-.5l-.3-.5z" fill="#FF0000"/>
<rect x="217.5" y="408.7" width="562.5" height="140.6" fill="#0000FF"/>
<path d="M235 549.3h6.5l.5-.5v-1l1-1.5v-1l.5-.5v-1l.9-1.5l.1-1l.9-1.5l.1-1l.5-.5v-10h5.5l2.5 2l.1 .5l1.9 2v.5l1 1v.5l.5 .5v.5l1 1.5v.5l.5 .5v.5l.5 .5v1l1 1.5v1l.5 .5l.1 1l.4 .5v.5l.5 .5v1l.5 .5v1l.5 .5v.5h7v-1l.5-.5v-1l.5-.5v-.5l.5-.5v-1l.5-.5v-1l.5-.5v-.5l.5-.5v-1l1-1.5v-10.5h5.5l.5 .5h.5l2.5 2.5v.5l1.5 1.5l.5 1.5l1.5 2l.1 1l1.4 2.5v1l.5 .5v.5l.5 .5v1l.5 .5v1l1 1.5v1l.5 .5v1h7v-.5l.5-.5v-1l.5-.5v-1l.5-.5v-.5l.4-.5l.1-1l.5-.5v-1l1-1.5v-1l.5-.5v-10.5h6l3.5 3.5v.5l2 2.5v.5l1.5 2.5v.5l.5 .5l.1 1l.9 1.5l.1 1l.9 1.5v1l.5 .5v1l1 1.5v1l.5 .5h6.5v-.5l1-1.5v-1l.5-.5v-1l.5-.5l.5-2l.5-.5v-1l1-1.5v-11h6l4 4v.5l1 1l.5 1.5l1 1l.5 2l1.5 2.5v1l.5 .5l.5 2l.5 .5v1l.5 .5v1l1 1.5v.5h6.5l.5-.5v-1l1-1.5v-1l.5-.5v-1l.9-1.5l.1-1l.9-1.5l.1-1l.5-.5v-10h5.5l2.5 2l.1 .5l1.9 2v.5l1 1v.5l.5 .5v.5l1 1.5v.5l.5 .5v.5l.5 .5v1l1 1.5v1l.5 .5l.1 1l.4 .5v.5l.5 .5v1l.5 .5v1l.5 .5v.5h7v-1l.5-.5v-1l.5-.5v-.5l.5-.5v-1l.5-.5v-1l.5-.5v-.5l.5-.5v-1l1-1.5v-10.5h5.5l.5 .5h.5l2.5 2.5v.5l1.5 1.5l.5 1.5l1.5 2l.1 1l1.4 2.5v1l.5 .5v.5l.5 .5v1l.5 .5v1l1 1.5v1l.5 .5v1h7v-.5l.5-.5v-1l.5-.5v-1l.5-.5v-.5l.4-.5l.1-1l.5-.5v-1l1-1.5v-1l.5-.5v-10.5h6l3.5 3.5v.5l2 2.5v.5l1.5 2.5v.5l.5 .5l.1 1l.9 1.5l.1 1l.9 1.5v1l.5 .5v1l1 1.5v1l.5 .5h6.5v-.5l1-1.5v-1l.5-.5v-1l.5-.5l.5-2l.5-.5v-1l1-1.5v-11h6l4 4v.5l1 1l.5 1.5l1 1l.5 2l1.5 2.5v1l.5 .5l.5 2l.5 .5v1l.5 .5v1l1 1.5v.5h6.5l.5-.5v-1l1-1.5v-1l.5-.5v-1l.9-1.5l.1-1l.9-1.5l.1-1l.5-.5v-10h5l.5 .5h.5l2 2v.5l2 2.5v.5l1.5 2.5v.5l.5 .5v.5l.5 .5v1l1 1.5v1l.5 .5l.1 1l.9 1.5v1l.5 .5l.5 2l.5 .5h8l.5-.5v-.5l1-1.5v-1l.5-.5v-.5l1.4-2.5l.1-11l4.5-.1l1-.4l3.5 3.5v.5l2 2.5v.5l.5 .5v.5l.5 .5l1 2.5l.5 .5v.5l.5 .5v.5l.5 .5v.5l.5 .5l.1 1l.9 1.5v.5l.5 .5v.5h8v-.5l1.4-2.5l.1-1l.5-.5v-.5l1.5-2.5v-11h6l3.5 3.5v.5l1 1v.5l1.5 2v.5l1.5 2.5v.5l.5 .5v.5l.5 .5v.5l.5 .5v1l1.5 2.5v.5l.5 .5v.5h7v-.5l.5-.5v-.5l.5-.5v-.5l1.5-2.5v-1l1.5-2.5v-10.5l3.5-.1l.5-.4h.5h1.5l4.5 4.5v.5l2 2.5v.5l.5 .5l.6 1.5l.9 1v.5l.5 .5v.5l.5 .5v.5l.5 .5v.5l.5 .5l.6 1.5l1.4 1.5l.1 .5l1.4 1l.4-.5h.6l1-1l1.4-2l.6-1.5l.5-.5l.5-2l.5-.5v-.5l.5-.5v-.5l.5-.5l.5-1.5l1.5-2.5v-7.5h1.5l.5-.5h2l.5-.5h1.6l.4 .4l1 .1l.5 .5l1.6 .5l2.4 1.4l1 .4l.4-.3l.3-8.5l1.3-.2l2-.9l3-2.9l2.4-4l1.9-4.5l1.5-5l1.5-7.5l1-8.5l.3-6l-.2-9.5l-.5-6.5l-1-6.6l-1.1-5l-2.5-7.5l-3-5.5l-1.7-2l-1.6-1.4l-2-.9l-1.3-.2l-.3-8.5l-.4-.3l-1 .4l-2.4 1.4l-1.6 .5l-.5 .5l-1 .1l-.4 .4h-1.6l-.5-.5h-2l-.5-.4l-1.5-.1v-7.5l-1.5-2.5l-.5-1.5l-.5-.5v-.5l-.5-.5v-.5l-.5-.5l-.5-2l-.5-.5l-.6-1.5l-1.4-2l-1-1h-.6l-.4-.4l-1.4 .9l-.1 .5l-1.4 1.5l-.6 1.5l-.5 .5v.5l-.5 .5v.5l-.5 .5v.5l-.5 .5v.5l-.9 1l-.6 1.5l-.5 .5v.5l-2 2.5v.5l-4.5 4.5h-1.5h-.5l-.5-.4l-3.5-.1v-10.5l-1.5-2.5v-1l-1.5-2.5v-.5l-.5-.5v-.5l-.5-.5v-.5h-7v.5l-.5 .5v.5l-1.5 2.5v1l-.5 .5v.5l-.5 .5v.5l-.5 .5v.5l-1.5 2.5v.5l-1.5 2v.5l-1 1v.5l-3.5 3.5h-6v-11l-1.5-2.5v-.5l-.5-.5l-.1-1l-1.4-2.5v-.5h-8v.5l-.5 .5v.5l-.9 1.5l-.1 1l-.5 .5v.5l-.5 .5v.5l-.5 .5v.5l-.5 .5l-1 2.5l-.5 .5v.5l-.5 .5v.5l-2 2.5v.5l-3.5 3.5l-1-.4l-4.5-.1l-.1-11l-1.4-2.5v-.5l-.5-.5v-1l-1-1.5v-.5l-.5-.5h-8l-.5 .5l-.5 2l-.5 .5v1l-.9 1.5l-.1 1l-.5 .5v1l-1 1.5v1l-.5 .5v.5l-.5 .5v.5l-1.5 2.5v.5l-2 2.5v.5l-2 2h-.5l-.5 .5h-5v-10l-.5-.5l-.1-1l-.9-1.5l-.1-1l-.9-1.5v-1l-.5-.5v-1l-1-1.5v-1l-.5-.5h-6.5v.5l-1 1.5v1l-.5 .5v1l-.5 .5l-.5 2l-.5 .5v1l-1.5 2.5l-.5 2l-1 1l-.5 1.5l-1 1v.5l-4 4h-6v-11l-1-1.5v-1l-.5-.5l-.5-2l-.5-.5v-1l-.5-.5v-1l-1-1.5v-.5h-6.5l-.5 .5v1l-1 1.5v1l-.5 .5v1l-.9 1.5l-.1 1l-.9 1.5l-.1 1l-.5 .5v.5l-1.5 2.5v.5l-2 2.5v.5l-3.5 3.5h-6v-10.5l-.5-.5v-1l-1-1.5v-1l-.5-.5l-.1-1l-.4-.4v-.6l-.5-.5v-1l-.5-.5v-1l-.5-.5v-.5h-7v1l-.5 .5v1l-1 1.5v1l-.5 .5v1l-.5 .5v.5l-.5 .5v1l-1.4 2.5l-.1 1l-1.5 2l-.5 1.5l-1.5 1.5v.5l-2.5 2.5h-.5l-.5 .5h-5.5v-10.5l-1-1.5v-1l-.5-.5v-.5l-.5-.5v-1l-.5-.5v-1l-.5-.5v-.5l-.5-.5v-1l-.5-.5v-1h-7v.5l-.5 .5v1l-.5 .5v1l-.5 .5v.6l-.4 .4l-.1 1l-.5 .5v1l-1 1.5v1l-.5 .5v.5l-.5 .5v.5l-1 1.5v.5l-.5 .5v.5l-1 1v.5l-1.9 2l-.1 .5l-2.5 2h-5.5v-10l-.5-.5l-.1-1l-.9-1.5l-.1-1l-.9-1.5v-1l-.5-.5v-1l-1-1.5v-1l-.5-.5h-6.5v.5l-1 1.5v1l-.5 .5v1l-.5 .5l-.5 2l-.5 .5v1l-1.5 2.5l-.5 2l-1 1l-.5 1.5l-1 1v.5l-4 4h-6v-11l-1-1.5v-1l-.5-.5l-.5-2l-.5-.5v-1l-.5-.5v-1l-1-1.5v-.5h-6.5l-.5 .5v1l-1 1.5v1l-.5 .5v1l-.9 1.5l-.1 1l-.9 1.5l-.1 1l-.5 .5v.5l-1.5 2.5v.5l-2 2.5v.5l-3.5 3.5h-6v-10.5l-.5-.5v-1l-1-1.5v-1l-.5-.5l-.1-1l-.4-.4v-.6l-.5-.5v-1l-.5-.5v-1l-.5-.5v-.5h-7v1l-.5 .5v1l-1 1.5v1l-.5 .5v1l-.5 .5v.5l-.5 .5v1l-1.4 2.5l-.1 1l-1.5 2l-.5 1.5l-1.5 1.5v.5l-2.5 2.5h-.5l-.5 .5h-5.5v-10.5l-1-1.5v-1l-.5-.5v-.5l-.5-.5v-1l-.5-.5v-1l-.5-.5v-.5l-.5-.5v-1l-.5-.5v-1h-7v.5l-.5 .5v1l-.5 .5v1l-.5 .5v.6l-.4 .4l-.1 1l-.5 .5v1l-1 1.5v1l-.5 .5v.5l-.5 .5v.5l-1 1.5v.5l-.5 .5v.5l-1 1v.5l-1.9 2l-.1 .5l-2.5 2h-5.5v-10l-.5-.5l-.1-1l-.9-1.5l-.1-1l-.9-1.5v-1l-.5-.5v-1l-1-1.5v-1l-.5-.5h-6.5v.5l-1 1.5v1l-.5 .5v1l-.5 .5l-.5 2l-.5 .5v1l-1.5 2.5l-.5 2l-1 1l-.5 1.5l-1 1v.5l-4 4h-6v98.6h6l4 4v.5l1 1l.5 1.5l1 1l.5 2l1.5 2.5v1l.5 .5l.5 2l.5 .5v1l.5 .5v1l1 1.5z" fill="#0031FF"/>
<path d="M237.7 548.8l.8 .2l.5-.2l1.5-1.8l5-10.9l.3-2.3l.2-6.5l6 .1l3 2.5l2 2.4l1.8 3l5.7 12.1l1 1.2l1 .4l1-.5l1-1.3l5-10.9l.3-2l.2-7h6l3.1 2.5l2 2.5l1.9 3l5.5 11.8l1 1.4l1 .5l1-.4l1.5-2.1l4.5-9.9l.3-2.3l.2-7h6l3.2 2.5l2 2.5l1.9 3l5.4 11.6l1 1.4l1 .7l1-.3l1.5-2l4.5-9.9l.3-2.5l.2-7h6l1.5 .9l1.8 1.6l3.4 4.5l5.8 12.4l1 1.5l1 .7l1-.2l1.5-1.8l5-10.9l.3-2.2l.2-6.5l6 .1l3 2.5l2 2.4l1.9 3l5.6 12l1 1.2l1 .4l1-.5l1-1.3l5-10.8l.3-2l.2-7h6l3.1 2.5l2 2.5l1.9 3l5.5 11.8l1 1.3l1 .5l1-.4l1.5-2.1l4.5-9.9l.3-2.2l.2-7.1h6l3.2 2.6l2.1 2.5l1.8 3l5.4 11.5l1 1.5l1 .6l1-.3l1.5-2l4.5-9.8l.3-2.5l.2-7.1h6l1.5 1l1.8 1.6l3.4 4.5l5.8 12.3l1 1.5l1 .7l1-.1l1.5-1.9l5-10.8l.3-2.2l.2-6.6l5.7 .1l2.8 2.5l3.3 5l5.7 12l1.5 2l.9 .5h1l.6-.3l1.5-1.6l4.5-8.3l.3-2.3l.2-7.4h6l1.7 1.4l2.2 2.5l1.8 2.5l6.3 10.9l1 1.1l1 .6l1.5-.2l1.5-1.5l4.5-8l.3-2.4l.2-7.2l6-.1l1.6 1.3l2 2l2.2 3l6.2 10.6l1 1.2l1 .6l1.5-.2l1.5-1.5l4.5-8l.3-2.2l.2-7.2l6-.2l1 .6l2.2 1.8l2.2 2.5l6.6 9.5l1.5 1.3h1l1-.7l1.5-1.8l5-8.7l.3-1.6l.2-4.8l6-.8l3 .8l2 .2l.7-.9l.2-4.5l3.1-1l2.9-2.5l2.3-3.5l2.4-5.5l1.6-5.5l1.5-7l.8-7l.4-7v-7.5l-.5-7.5l-1-7.1l-1.3-6l-2.5-7.5l-3-5.5l-1.7-2l-1.4-1.2l-1.5-.8l-2.1-.5l-.1-4l-.3-1l-.5-.4h-.5l-5 1l-5.5-.8l-.2-4.8l-.3-1.6l-5-8.7l-2-2.2l-1-.4l-.5 .1l-1 .8l-7.1 10l-2.2 2.5l-2.4 2l-.8 .4l-6-.2l-.2-7.2l-.3-2.2l-4.5-8l-1.5-1.5l-1-.3l-1 .3l-1.5 1.6l-5.2 9.1l-2.4 3.5l-2.2 2.5l-2.2 1.8h-6l-.2-7.3l-.3-2.4l-4.5-8l-1.5-1.5l-1-.3l-1 .3l-1.5 1.5l-6.3 10.9l-2.2 3l-2 2.2l-1.5 1.3l-6-.1l-.2-7.4l-.3-2.3l-4.5-8.3l-1.5-1.6l-.6-.3h-1l-.9 .5l-1.5 2.1l-5.7 11.9l-3.3 5l-2.8 2.5l-5.7 .1l-.2-6.6l-.3-2.2l-5-10.8l-1.5-1.8l-1-.2l-1 .7l-1 1.5l-5.8 12.3l-3.4 4.5l-1.8 1.7l-1.5 .9h-6l-.2-7.1l-.3-2.4l-4.5-9.9l-1.5-2l-1-.3l-1 .7l-1 1.4l-5.4 11.5l-1.8 3l-2.1 2.5l-3.2 2.6h-6l-.2-7.1l-.3-2.2l-4.5-9.9l-1.5-2.1l-1-.4l-1 .5l-1 1.3l-5.5 11.8l-1.9 3l-2 2.5l-3.1 2.5l-6 .1l-.2-7.1l-.3-2l-5-10.8l-1-1.3l-1-.5l-1 .4l-1 1.2l-5.6 12l-1.9 3l-2 2.5l-3 2.5l-6 .1l-.2-6.6l-.3-2.2l-5-10.9l-1.5-1.8l-1-.2l-1 .7l-1 1.6l-5.8 12.3l-3.4 4.5l-1.8 1.7l-1.5 .9h-6l-.2-7.1l-.3-2.5l-4.5-9.9l-1.5-2l-1-.2l-1 .6l-1 1.4l-5.4 11.6l-1.9 3l-2 2.5l-3.2 2.6h-6l-.2-7.1l-.3-2.2l-4.5-9.9l-1.5-2.2l-1-.4l-1 .5l-1 1.4l-5.5 11.8l-1.9 3l-2 2.5l-3.1 2.5l-6 .1l-.2-7.1l-.3-2l-5-10.8l-1-1.4l-1-.5l-1 .4l-1 1.3l-5.7 12l-1.8 3l-2 2.4l-3 2.6l-6 .1l-.2-6.6l-.3-2.3l-5-10.8l-1.5-1.9l-1-.2l-1 .8l-1 1.5l-5.9 12.4l-3.3 4.5l-1.8 1.6l-1.5 1h-6v96.5h6.1l3.4 2.7l3.4 4.8l5.6 11.9z" fill="#0061FF"/>
<path d="M491 546.8l1.5-.3l1.5-1.5l4.5-7.5l.5-8.8l6-.1l1.5 1.2l2.1 2l2 2.5l6.4 10.1l1 1l1 .6l1.5-.2l1.5-1.4l4.5-7.3l.5-8.7l6-.1l2 1.5l4 4.5l6 9.4l1 1.1l1 .5l1.5-.1l1.5-1.4l4.5-7.3l.5-8.5l6-.2l1.1 .5l2.4 1.9l2 2.1l6.5 8.6l1.5 1.3h1l1-.6l1.5-1.7l5-7.9l.5-6l5.5-.8l3 .7l1-.2l.6-.4l.1-.5l.4-3.5l2.1-.5l1.8-1l1.7-1.5l1.8-2.4l2.8-5.6l2.1-6.5l1.6-7.5l.9-8l.4-9l-.3-9l-1-8.6l-1.6-7.5l-2.1-6.5l-2.4-5l-1.8-2.5l-2.1-2l-1.8-1l-2.1-.5l-.5-4l-1.1-.5l-3.5 .6l-5.5-.8l-.5-5.9l-5-8l-2-2l-1.5-.3l-1 .8l-7 9.1l-2 2.1l-2.5 2l-1 .5l-6-.2l-.5-8.6l-4.5-7.3l-1.5-1.3l-1.5-.2l-1 .6l-1 1.1l-6 9.3l-4 4.5l-2 1.5h-6l-.5-8.8l-4.5-7.3l-1.5-1.4l-1.5-.1l-1 .5l-1 1l-6.4 10.1l-2 2.5l-2.1 2l-1.5 1.2h-6l-.5-8.9l-4.5-7.5l-1.5-1.5l-1.5-.3l-1 .5l-1.5 1.9l-5.8 11.1l-3.4 4.5l-2.8 2.1l-5.5 .1l-.5-8l-5-9.9l-1.5-1.6l-1-.2l-1 .7l-1 1.3l-5.4 10.5l-3.5 4.5l-1.7 1.5l-1.9 1.2h-6l-.5-8.7l-4.5-9l-1.5-1.8l-1-.2l-1 .5l-1 1.3l-5.2 10.2l-2 3l-1.8 2l-3.5 2.7h-6l-.5-8.5l-4.5-9l-1.5-1.9l-1-.4l-1 .5l-1 1.2l-5.3 10.4l-2 3l-1.8 2l-3.4 2.6l-6 .1l-.5-8.3l-5-9.8l-1-1.2l-1-.5l-1 .4l-1 1.1l-5.5 10.6l-2 3l-1.8 2l-3.2 2.5l-6 .1l-.5-8l-5-9.8l-1.5-1.7l-1-.1l-1 .6l-1 1.4l-5 9.9l-1.7 2.6l-2.2 2.5l-1.7 1.5l-1.9 1.1h-6l-.5-8.6l-4.5-9l-1.5-1.8l-1-.3l-1 .6l-1 1.3l-5.2 10.2l-2 3l-1.8 2l-3.5 2.6h-6l-.5-8.4l-4.5-9l-1.5-1.9l-1-.4l-1 .5l-1 1.2l-5.3 10.4l-2.1 3l-1.8 2l-3.3 2.6h-6l-.5-8.2l-5-9.8l-1-1.2l-1-.5l-1 .4l-1 1.1l-5.5 10.6l-2 3l-1.8 2l-3.2 2.5l-6 .1l-.5-8l-5-9.8l-1-1.3l-1-.6l-1 .3l-1 1l-5.9 11.3l-1.6 2.4l-2 2.2l-3.5 2.5h-6v95.4h6l1.2 .6l2.4 2l2.2 2.5l1.7 2.7l5 9.9l1 1.3l1 .7l1-.2l1.5-1.6l5-9.9l.5-8l6 .1l3.2 2.5l1.8 2l2 3l5.5 10.6l1 1.2l1 .3l1-.4l1-1.2l5-9.9l.5-8.2h6l3.3 2.6l1.8 2l2.1 3l5.3 10.4l1 1.3l1 .4l1-.3l1.5-2l4.5-9l.5-8.4h6l3.5 2.6l1.8 2l2 3l5.2 10.2l1 1.3l1 .6l1-.3l1.5-1.8l4.5-8.9l.5-8.7h6l3.5 2.5l2 2.2l1.6 2.4l5.9 11.3l1 1l1 .3l1-.6l1-1.3l5-9.8l.5-8l6 .1l3 2.3l2.5 2.8l2.6 4.4l3.9 7.8l1.5 1.9l1 .4l1-.5l1-1.2l5-9.8l.5-8.2h6l3.4 2.6l1.8 2l2 3l5.3 10.4l1 1.2l1 .5l1-.4l1.5-1.9l4.5-9l.5-8.4h6l3.5 2.6l1.8 2l2 3l5.2 10.2l1 1.3l1 .6l1-.3l1.5-1.8l4.5-9l.5-8.6h6l3.1 2.1l1.9 2l2.1 3l5.9 11.2l1 1.1l1 .2l1-.5l1-1.3l5-9.8l.5-8h5l.8 .1l1.2 .8l3 3.3l2.5 3.9l5 9.6l1.5 1.9z" fill="#0092FF"/>
<path d="M490.9 545.3l1.6-.3l1.5-1.4l4.5-7.1l.2-7.2l.3-1.1l6-.1l2 1.6l2.2 2.1l2 2.5l5.3 8.1l1.5 1.6l1 .5l1.5-.1l1.5-1.4l4.5-6.8l.2-7.4l.3-.9h6l1 .6l3.7 3.3l3 4l4.3 6.6l1 1l1 .6l1.4-.2l1.6-1.3l4.5-7l.2-7.2l.3-.8l6-.1l1.5 .7l4.2 3.7l5.8 7.1l1.5 1.3l1 .3l1-.4l1.5-1.3l5.5-8l.2-4.5l.3-.8l5.5-.8l2.9 .1l.8-3.5l2.2-.5l1.8-1l1.6-1.5l1.7-2.2l2.6-4.8l2.2-6.5l1.7-7.5l1-8l.5-9l-.2-8.5l-.8-8.1l-1.5-8l-1.4-5l-1.5-4l-1.6-3.2l-1.8-2.8l-1.4-1.5l-1.9-1.5l-3.2-1l-.8-3.5l-2.9 .1l-5.5-.8l-.3-.8l-.2-4.5l-5-7.3l-2-2l-1.5-.3l-1.5 1l-6.7 8.1l-1.8 1.7l-3 2.2h-6.5l-.3-.9l-.2-7.2l-4.5-6.9l-1.6-1.4l-1.4-.1l-1 .5l-1 1l-4.3 6.6l-3 4l-3.7 3.4l-1 .6l-6-.1l-.3-.9l-.2-7.3l-4.5-6.9l-1.5-1.4l-1.5-.1l-1 .5l-1.5 1.6l-5.3 8.1l-2 2.5l-2.2 2.2l-2 1.5h-6l-.3-1.2l-.2-7.2l-4.5-7.1l-1.5-1.4l-1.5-.3l-1 .5l-1 1l-5.8 10.5l-2.5 3.5l-1.7 1.8l-2 1.6l-6 .1l-.3-1l-.2-6.6l-5-9.2l-1-1.3l-1-.5h-.5l-1 .7l-1 1.2l-5.2 9.7l-3.8 4.7l-3 2.2l-6.5 .1l-.3-1l-.2-7.2l-4.5-8.5l-1.1-1.3l-1.4-.6l-1 .5l-1.5 2l-3.3 6.6l-2.5 4l-3.7 3.9l-2.5 1.6h-6l-.3-1l-.2-7l-4.5-8.5l-1.5-1.8l-1-.3l-1 .4l-1 1.1l-5.7 10.6l-1.5 2l-2.3 2.4l-3 2l-6 .1l-.3-1l-.2-6.7l-5-9.4l-1-1.1l-1-.5l-1 .4l-1 1.1l-5.2 9.7l-2.6 3.5l-1.7 1.8l-3 2.1l-6 .1l-.3-1l-.2-6.6l-5-9.3l-1.5-1.6l-1-.1l-1 .6l-1 1.3l-5.2 9.7l-3.8 4.6l-3 2.3l-6.5 .1l-.3-1l-.2-7.2l-4.5-8.5l-1.5-1.7l-1-.3l-1 .6l-1.5 2l-3.4 6.6l-2.4 4l-3.2 3.4l-3 2.1h-6l-.3-1l-.2-7l-4.5-8.5l-1.5-1.8l-1-.4l-1 .4l-1 1.2l-5.8 10.6l-1.4 2l-2.3 2.3l-3 2.1h-6l-.3-.9l-.2-6.8l-5-9.3l-1-1.2l-1-.4l-1 .3l-1 1.1l-5.3 9.8l-2.5 3.5l-1.7 1.7l-3 2.2h-6l-.3-.9l-.2-6.6l-5-9.3l-1-1.3l-1-.5l-1 .2l-1 1l-5.7 10.5l-3.8 4.6l-3 2.2l-6.5 .1v94.8l6.5 .1l3 2.2l3.8 4.6l5.2 9.8l1 1.3l1 .6l1-.1l1.5-1.6l5-9.3l.2-6.7l.3-.9h6l3 2.2l1.7 1.7l2.5 3.5l5.3 9.8l1 1.1l1 .3l1-.4l1-1.1l5-9.4l.2-6.8l.3-.9h6l3 2.1l2.3 2.3l1.4 2l5.8 10.6l1 1.2l1 .4l1-.3l1.5-1.8l4.5-8.5l.2-7.1l.3-.9h6l3 2l3.2 3.4l2.4 4l3.4 6.6l1.5 2.1l1 .5l1-.3l1.5-1.7l4.5-8.5l.2-7.2l.3-.9l6.5 .1l3 2.2l3.8 4.6l5.2 9.7l1 1.3l1.5 .7l1-.6l1.5-2l4.5-8.5l.2-6.6l.3-.9h6l3 2.1l2.1 2.3l2.7 4l4.2 8l1.5 1.8l1 .4l1-.5l1-1.1l5-9.3l.2-6.8l.3-.9h6l3 2.1l2.3 2.3l1.5 2l5.7 10.6l1 1.1l1 .5l1-.4l1.5-1.8l4.5-8.5l.2-7l.3-.9h6l2.5 1.5l3.7 3.9l2.5 4l3.3 6.6l1.5 2l1 .5l1.4-.6l1.1-1.3l4.5-8.5l.2-7.2l.3-.9l6.5 .1l3 2.2l3.8 4.6l5.2 9.7l1.1 1.3l1.4 .6l1-.5l1.5-2l4.5-8.5l.2-6.6l.3-.9h5l1 .1l3.7 3.3l3.1 4.5l4.2 8l1.5 2.1z" fill="#00C2FF"/>
<path d="M237.2 541.3l1.3 .4l1.5-.9l5.5-8.6l.1-5.4l.4-1.1l6 .1l3.3 2l2.1 2l1.6 2l5.5 8.7l1 .9l1 .3l1-.4l1-1l5-8l.1-5.5l.4-1.1h6l3.4 2.1l2.1 2l1.6 2l5.4 8.5l1 1l1 .3l1-.3l1.5-1.5l4.5-7.3l.1-5.7l.4-1.2h6l3.5 2.2l2 1.8l1.8 2.2l5.2 8.3l1 1l1 .5l1-.2l1.5-1.5l4.5-7.3l.1-5.8l.4-1.2h6l3.5 2l1.8 1.7l2.1 2.5l5.1 8l1 1.1l1 .6l1-.1l1.5-1.4l5-7.9l.1-5.3l.4-1.2l6 .1l3 1.8l3.7 3.8l5.8 9l1 .9l1 .3l1-.4l1-1l5-7.9l.1-5.4l.4-1.2h6l3 1.8l2.1 1.9l1.8 2l5.6 8.8l1 .9l1 .4l1-.3l1.5-1.5l4.5-7.2l.1-5.6l.4-1.2h6l3.5 2.1l1.8 1.6l2.1 2.5l5.1 8l1 1.1l1 .4l1-.2l1.5-1.4l4.5-7.2l.1-5.7l.4-1.2h6l3.5 2l3.7 3.7l5.3 8.3l1 1.1l1 .5l1-.1l1.5-1.3l5-7.9l.1-5.1l.4-1.2h5.5l2.8 1.7l3.7 4l5.5 8.4l1.5 1.5l1 .4l1.5-.3l1.5-1.1l4.5-6l.1-5.4l.4-1.7h6l1.5 .9l4.3 3.8l6.2 7.8l2 1.3l1.5-.2l1.5-1.1l4.5-5.8l.1-5l.4-1.9l6-.1l1.7 1l4.1 3.5l6.2 7.7l2 1.3l1.5-.1l1.5-1.1l4.5-5.8l.1-5l.4-1.8h6.5l4.2 2.8l6.8 6.3l1.5 .9h1l.5-.2l1.5-1.6l6-7.6l.1-1.8l.4-1.5l4-1.1l4-1.7l1.4-.2l2.4-1.5l1.7-1.7l1.9-2.8l2.6-5.5l1.5-4.6l1.5-6.5l1-6.7l.5-5.9v-13.8l-1-9l-1-5.6l-1.5-5.6l-1.5-4.1l-2-4.2l-2-2.8l-1.7-1.8l-2.4-1.5l-1.4-.2l-4-1.7l-4-1.1l-.4-1.5l-.1-1.8l-7.5-9.2l-1-.3l-1.5 .6l-7.3 6.7l-4.2 2.8h-6.5l-.4-1.8l-.1-5l-4-5.2l-1.5-1.4l-1-.4l-1.5 .2l-1 .7l-7.2 8.6l-2.8 2.5l-2.5 1.5l-6-.1l-.4-1.9l-.1-5l-4.5-5.8l-1.5-1.1l-1-.2l-1 .2l-1.5 1.1l-6.2 7.8l-4.3 3.8l-1.5 .9h-6l-.4-1.7l-.1-5.3l-4.5-6l-1.5-1.2l-1.5-.3l-1 .5l-1.5 1.4l-5.5 8.4l-3.7 4l-2.8 1.7l-5.5 .1l-.4-1.3l-.1-5.1l-5-7.9l-1.5-1.3l-1-.1l-1 .5l-1 1.1l-5.3 8.3l-3.7 3.8l-3.5 2h-6l-.4-1.3l-.1-5.7l-4.5-7.1l-1.5-1.5l-1-.2l-1 .5l-1 1l-5.1 8l-2.1 2.5l-1.8 1.6l-3.5 2.1h-6l-.4-1.2l-.1-5.5l-4.5-7.2l-1.5-1.6l-1-.3l-1 .4l-1 1l-5.6 8.7l-1.8 2l-2.1 1.9l-3 1.8h-6l-.4-1.2l-.1-5.4l-5-7.9l-1-1l-1-.3l-1 .3l-1 .9l-5.8 8.9l-3.7 3.8l-3 1.8l-6 .1l-.4-1.2l-.1-5.2l-5-8l-1.5-1.3l-1-.2l-1 .6l-1 1.1l-5.1 8l-2.1 2.5l-1.8 1.7l-3.5 2h-6l-.4-1.2l-.1-5.8l-4.5-7.3l-1.5-1.4l-1-.2l-1 .4l-1 1.1l-5.2 8.2l-1.8 2.2l-2 1.9l-3.5 2.1h-6l-.4-1.2l-.1-5.7l-4.5-7.2l-1.5-1.6l-1-.3l-1 .4l-1 .9l-5.4 8.5l-1.6 2l-2.1 2l-3.4 2.1l-6 .1l-.4-1.2l-.1-5.5l-5-8l-1-1l-1-.4l-1 .3l-1 .9l-5.5 8.7l-1.6 2l-2.1 2l-3.3 2.1l-6 .1l-.4-1.2l-.1-5.4l-5-8l-1.5-1.4l-1-.1l-1 .5l-1 1.2l-5.2 8.2l-1.6 2l-2.1 2l-3.6 2.2l-6-.1v93.4h6l3.6 2.1l2.1 2l1.6 2l4.7 7.5z" fill="#00F3FF"/>
<path d="M237.4 529.8l1.1 .1l1.5-.4l5.5-3.7l.5-2.7h6l2.9 .7l4.1 1.8l5.5 3.4l2 .5l2-.6l5-3.2l.5-2.7h6l3 .7l4.1 1.6l5.4 3.3l2 .5l2.5-.8l4.5-2.8l.5-2.6h6l3 .6l4 1.5l5.5 3.1l2 .6l2.5-.7l4.5-2.7l.5-2.5h6l3 .6l4.2 1.4l5.8 3.1l2 .3l2-.5l5-2.8l.5-2.2h6l3 .6l4 1.4l5.5 2.7l2 .4l2-.5l5-2.6l.5-2.1h6l3 .5l3.8 1.2l5.7 2.7l2 .3l2.5-.5l4.5-2.3l.5-2h6l3 .5l4 1.1l5.5 2.4l2 .4l2.5-.5l4.5-2.1l.5-1.9h6l3.5 .5l4 1.1l5 2.1l2 .4l2.5-.5l5-2l.5-1.7h5.5l2.5 .4l3.5 .8l6 2.2l2.5 .4l3-.4l4.5-1.5l.5-1.6l7 .1l4.5 .8l6.5 1.8l2.5 .2l2.5-.3l4.5-1.3l.5-1.5l7 .1l4.5 .7l6.5 1.5l2.5 .3l2.5-.3l4.5-1.2l.5-1.3h6l6 .4l1-.4l1.1-.9l2.9-.4l2.5-.7l2-1.1l2.2-1.8l2.2-2.5l2-3l1.9-3.5l1.6-4l2.5-9l.9-5.5l.5-5.5v-10.5l-.5-5.5l-.9-5.6l-2.1-8l-2.5-6l-3.4-5.5l-1.7-2l-2.2-1.9l-2.5-1.5l-2.5-.7l-2.9-.4l-1.1-.9l-1-.3l-6 .4l-6-.1l-.5-1.3l-6-1.4l-3 .1l-7 1.6l-5 .8h-6.5l-.5-1.5l-4.5-1.3l-3-.3l-2.5 .4l-6 1.6l-4 .8l-7.5 .1l-.5-1.6l-4.5-1.5l-3-.4l-2.5 .4l-6 2.2l-3.5 .9l-2.5 .3h-5.5l-.5-1.6l-5-2.1l-2.5-.4l-2 .4l-5 2l-4 1.1l-3.5 .5h-6l-.5-1.9l-4.5-2.1l-2.5-.5l-2 .4l-5.5 2.4l-4 1.1l-3 .5h-6l-.5-2l-4.5-2.2l-2.5-.6l-2 .4l-5.7 2.6l-3.8 1.2l-3 .5h-6l-.5-2.1l-5-2.6l-2-.5l-2 .4l-5.5 2.8l-4 1.3l-3 .6h-6l-.5-2.2l-5-2.7l-2.5-.6l-2 .6l-5.3 2.8l-3.7 1.3l-3.5 .7h-6l-.5-2.5l-4.5-2.7l-2.5-.6l-2 .5l-5.5 3.1l-4 1.5l-3 .7l-6-.1l-.5-2.6l-4.5-2.8l-2.5-.8l-2 .5l-5.4 3.3l-4.1 1.6l-3 .8l-6-.1l-.5-2.6l-5-3.3l-2-.6l-2 .5l-5.5 3.5l-4.1 1.7l-2.9 .7l-6 .1l-.5-2.8l-5.5-3.7l-1.5-.4l-1 .1l-2 .9l-5 3.4l-3.5 1.5l-3.5 .9h-6v88.3l6-.1l3.5 .9l3.5 1.6l5 3.3z" fill="#00FFDB"/>
<path d="M255.8 520.3l4.2 .4l42-.7l28-.2l28-2l14.2-1.5l14.3-1l41.5 .9l99 3l43.5-.5l1.5-.4l2-1.4l4.1-4.6l3.4-5.9l2.7-7.1l1.8-7.5l.9-8l.1-8.5l-.8-8l-1.2-5.6l-1.3-4.5l-1.7-4.5l-2-4l-2.5-3.7l-2.9-3.3l-2.6-2l-2-.5l-43-.4l-99 3.1l-41.5 .8l-14.3-1l-14.2-1.5l-28-2l-28-.2l-28.5-.6l-14-.1l-33.5 3.7l-6.7-2.3l-.3-.3l-1.1-.2l-.4-.4v82.4l.4-.4l1.1-.2l.3-.3l6.7-2.3z" fill="#00FFAA"/>
<path d="M217.5 519.8v.2l8.5-3.3l33.5 3.2l14-.3l28.5-1.4l28-.4l16.5-1.6l11.5-.8l13.5-1.6l15-.9l46.5 .7l23.5 .8l40.5 1l30 1.2l41.5-.8l1.5-.4l1.5-1l3.8-4.6l3.2-5.5l2.7-6.5l1.6-6.5l1-7l.2-7l-.6-7l-.9-5l-1.3-5.1l-1.7-4.5l-2-4l-2.5-4l-3-3.6l-2-1.5l-2-.4l-41-.7l-30 1.2l-40.5 .9l-23.5 .8l-46.5 .7l-15-.9l-13.5-1.6l-11.5-.7l-16.5-1.7l-28-.4l-28.5-1.4l-14-.3l-33.5 3.2l-8.5-3.3z" fill="#00FF79"/>
<path d="M217.5 519.8l8.5-3.3l34 2.5l14-.6l28-2l28-.6l15.5-1.7l12.5-.7l12-1.4l16-.9l48 .3l22.5 .7l41 .6l29.5 1l39.5-1.2l1.5-.4l1-.7l3.4-4.1l3.3-5.5l2.5-6l1.6-6l.9-6l.2-6l-.5-6l-.8-4.5l-1.3-4.6l-1.4-4l-2-4l-2.5-4l-2.8-3.5l-1.6-1.3l-2-.5l-39-1.1l-29.5 1.1l-41 .6l-22.5 .6l-48 .4l-16-1l-12-1.3l-12.5-.8l-15.5-1.7l-28-.5l-28-2.1l-14-.5l-34 2.4l-8.5-3.3z" fill="#00FF49"/>
<path d="M217.5 519.3v.4l8.5-3.4l34 1.7l14-.8l28-2.6l28-.9l15-1.5l13-.7l14.5-1.4l13.5-.7l47.5-.1l23 .4l42.5 .2l28 .6l38.5-1.7l2-.8l3-3.7l2.9-5l2.1-5l1.5-5.2l.9-5.3l.2-5.5l-.4-5l-.6-4l-1.1-4l-1.4-4.1l-1.7-3.5l-2.4-4l-2.3-3l-1.7-1.3l-1.5-.3l-38-1.6l-28 .6l-42.5 .2l-23 .4l-47.5-.1l-13.5-.6l-14.5-1.5l-13-.6l-15-1.6l-28-.8l-28-2.7l-14-.8l-34 1.7l-8.5-3.4z" fill="#00FF18"/>
<path d="M217.5 519.3v.4l8.5-3.6l34 .9l14-1l28-3.3l28-1.1l9-1l19-.8l9.3-1l10.7-.6l48.5-.8h30l38-.5h32.5l35.5-2.4l2.5-.6l2-1.8l3-4.5l2.5-5.3l1.5-4.9l.7-4.1l.3-4.5l-.3-4.5l-.7-3.7l-1-3.5l-1.5-3.8l-2-3.8l-2-3l-1.6-1.8l-1.4-.8l-2.5-.4l-35-2.3l-32.5-.1l-38-.5l-30 .1l-49-.8l-10.5-.7l-9-.9l-19-.8l-9-1.1l-28-1.1l-28-3.3l-14-1l-34 .9l-8.5-3.6z" fill="#18FF00"/>
<path d="M217.5 519.3v.3l8.5-3.7l34 .1l14-1.2l28-3.9l28-1.5l9-.9l19-.5l9.5-.9l12-.6l77-1.6l70-2.3l31-3.1l2.5-.7l2-1.6l2.8-3.4l2.1-3.5l1.4-3.5l.9-3.5l.4-4l-.2-3.5l-.6-3l-1-3l-1.5-3l-1.8-3.1l-2.1-2.5l-1.9-1.7l-1.5-.7l-2-.4l-30.5-2.9l-70-2.4l-77-1.6l-12-.6l-9.5-.9l-19.5-.5l-8.5-.9l-28-1.5l-28-3.9l-14-1.2l-34 .2l-8.5-3.8z" fill="#49FF00"/>
<path d="M217.5 519.3v.3l8.5-4l34-.6l14-1.5l28-4.4l25-1.7l9.5-.9l10-.3h11.5l15-1l83.5-3.1l41.5-2.5l29-2.7l14.2-2.1l21.8-4.2l1.5-1.8l1.8-4.5l.6-4l-.1-4l-.7-3l-1.1-3.1l-1.5-2.4l-1-.5l-23-4.3l-13-2l-29-2.6l-41-2.5l-83.5-3l-15-1.1h-11.5l-10-.3l-9.5-.9l-25-1.7l-28-4.4l-14-1.5l-34-.6l-8.5-3.9z" fill="#79FF00"/>
<path d="M217.5 519.3v.2l8.5-4.1l34-1.5l14-1.7l28-4.9l35-3l9-.1l12 .2l10-.7l18.5-.5l34.5-1.9l35.5-2.4l33.8-3.6l10.3-1.5l10.8-2l8.1-2l6.3-2l4.7-2l3.8-2.5l1.9-2.5l.2-2.5l-.5-1.5l-.6-1l-2.2-2l-3.6-2l-6.6-2.5l-7.2-2l-8.7-1.9l-20-3.1l-30.5-3.1l-38.5-2.6l-31.5-1.8l-18-.4l-10.5-.8l-12 .3l-9-.2l-35-3l-28-4.9l-14-1.7l-34-1.5l-8.5-4.1z" fill="#AAFF00"/>
<path d="M217.5 519.3l8.5-4.1l17-1.4l17-.9l14-2l19-3.5l9-1.9l34.5-3.4l9-.1l12.5 .5l12-.7l16.5-.4l9.6-.6l29.1-2.5l31.3-3.8l19.1-3.7l7.4-2l5.4-2l3.7-2l2.2-2l1.1-2l.1-3l-.8-2l-1.9-2l-3.3-2l-5-2l-6.9-2l-6.5-1.5l-16.8-3.1l-29.1-3.5l-29.1-2.5l-9.6-.6l-16.5-.4l-12-.7l-12.5 .5h-9l-34.5-3.5l-9-1.9l-19-3.5l-14-1.9l-17-1l-17-1.4l-8.5-4.2z" fill="#DBFF00"/>
<path d="M217.5 519.3l8.5-4.4l17.5-1.8l16.5-1.3l14-2.2l19.5-3.9l8.5-2l28-3.5l10-.6l18 .8l11-.6l17.5-.4l20.8-2.1l17.2-2.5l7.8-1.5l8.4-2l6.5-2l4.6-2l3.1-2l2.1-2.5l.6-2.5l-.1-3.5l-.8-2l-1.8-2l-3.1-2l-3.3-1.5l-6-2l-5.7-1.5l-15.3-3.1l-15.5-2.1l-19.5-2l-17.5-.4l-11-.6l-18 .8l-10-.6l-28-3.4l-8.5-2l-19.5-3.9l-14-2.3l-16.5-1.3l-17.5-1.8l-8.5-4.5z" fill="#FFF300"/>
<path d="M217.5 519.3l8.5-4.6l17-2.3l17-1.7l14-2.5l19.5-4.2l8.5-2.2l12.1-1.5l15.9-2.6l10-.5l18 .9l28-1.1l11.5-1.6l8.8-1.6l6.4-1.5l6.4-2l3.6-1.5l3.2-2l2-2l1-2l.3-3l-.2-4l-.8-2l-1.7-2l-2-1.5l-2.9-1.5l-3.9-1.5l-5-1.5l-11.7-2.6l-15-2.1l-28-1.1l-18 .9l-10-.6l-15.9-2.6l-12.1-1.5l-8.5-2.2l-19.5-4.2l-14-2.5l-17-1.7l-17-2.3l-8.5-4.6z" fill="#FFC200"/>
<path d="M217.5 518.8v.5l8.5-4.8l17.5-2.8l16.5-2.1l14-2.8l19.7-4.5l8.3-2.3l14-2.1l14-2.7l10.5-.7l17.5 .8l20.5-1.2l8.5-.8l5.9-1.5l4.5-1.5l3.3-1.5l2.9-2l1.7-2l.7-2l.3-3.5l-.3-4l-.7-2l-1.2-1.5l-3.4-2.5l-6.2-2.5l-8-2.1l-28.5-2l-17.5 .9l-10.5-.7l-14-2.8l-14-2.1l-8.3-2.3l-19.7-4.5l-14-2.8l-16.5-2l-17.5-2.8l-8.5-4.8z" fill="#FF9200"/>
<path d="M217.5 518.8v.4l8.5-5l17.5-3.2l16.5-2.5l14-3l20-5l8-2.3l14.5-2.6l13.5-3.2l10.5-1l17.5 .4l10-1.1l7.6-1.4l3.2-1l2.1-1l1.4-1l1.3-1.5l.6-1.5l.3-2v-4.5l-.3-2l-.9-2l-2.4-2l-3.5-1.5l-3.9-1l-6-1l-9.5-1.1l-17.5 .4l-10.5-1l-13.5-3.2l-14.5-2.6l-8-2.3l-20-4.9l-14-3l-16.5-2.5l-17.5-3.3l-8.5-5z" fill="#FF6100"/>
<path d="M217.5 518.8v.3l8.5-5.1l17.5-3.8l16-2.7l14-3.3l20.5-5.4l8-2.4l15-3.1l13-3.7l9-1.6l13.5-1.1l5-1l3-1.3l2-1.8l.9-2.5l-.2-3.5l-.7-1.5l-1.5-1.5l-1.8-1l-2.2-.8l-5-.9l-12.5-1l-9.5-1.6l-13-3.8l-15-3.1l-8-2.4l-20.5-5.4l-14-3.2l-16-2.8l-17.5-3.8l-8.5-5.1z" fill="#FF3100"/>
<path d="M217.5 518.8v.3l2.2-1.3l6.3-4.1l17.5-4.2l16-3.2l14-3.5l20.5-5.6l8-2.6l8.3-1.8l11.2-3.2l13.5-4.8l4.7-2l2.4-1.5l1-1l.4-1l-.2-1l-1.2-1.5l-3.4-2l-18.2-6.7l-10.5-2.9l-8-1.8l-8-2.5l-20.5-5.7l-14-3.5l-16-3.2l-17.5-4.2l-8.5-5.3z" fill="#FF0000"/>
<rect x="217.5" y="609.5" width="562.5" height="140.6" fill="#0000FF"/>
<path d="M227.1 750.1h18.9v-9.5h5.5l.5 .4l1 2.6l.5 .5l.1 1l.4 .5l.6 2.5l.4 .4l.1 1.1l.4 .5h18.5v-9.5h5.5h.5l.5 1.5l.5 .5l.1 1l.9 1.5v1l.5 .5l.1 1l.4 .5v1l.5 .5v.5h18.5v-9.5h6l1 2.5l.5 .5l.5 2l.5 .5v1l.5 .5v1l.5 .5v1h18.5v-9.5h6l.5 .5v.5l.5 .5l.5 1.3l.1 .7l.4 .5l.1 1l.4 .4l.6 2.6l.4 .4l.1 1.1h18.9v-9.5h5.5l.5 .4l1 2.6l.5 .5l.1 1l.4 .5l.6 2.5l.4 .4l.1 1.1l.4 .5h18.5v-9.5h5.5h.5l.5 1.5l.5 .5l.1 1l.9 1.5v1l.5 .5l.1 1l.4 .5v1l.5 .5v.5h18.5v-9.5h6l1 2.5l.5 .5l.5 2l.5 .5v1l.5 .5v1l.5 .5v1h18.5v-9.5h6l.5 .5v.5l.5 .5l.5 1.3l.1 .7l.4 .5l.1 1l.4 .4l.6 2.6l.4 .4l.1 1.1h18.9v-9.5h5.5l.5 .4l1 2.6l.5 .5l.1 1l.4 .5l.6 2.5l.4 .4l.1 1.1l.4 .5h18.5v-9.5h5.5h.5l.5 1.5l.5 .5l.1 1l.9 1.5l.1 1l.4 .5l.1 1l.4 .5v1l.5 .5v.5h18.5v-9.5h6l1 2.5l.5 .5l.5 2l.5 .5v1l.5 .5v1l.5 .5v1h18.5v-9.5h6l.5 .5v.5l.5 .5l.5 1.3l.1 .7l.4 .5l.1 1l.4 .4l.6 2.6l.4 .4l.1 1.1h18.9v-9.5h5.5l.5 .4l1 2.6l.5 .5l.1 1l.4 .5l.6 2.5l.4 .4l.1 1.1l.4 .5h18.5v-9.5h5.5h.5l.5 1.5l.5 .5l.1 1l.9 1.5l.1 1l.4 .5l.1 1l.4 .5v1l.5 .5v.5h18.5v-9.5l2-.5l4-.2l1.5 2.7v.5l.5 .5l.5 2l.5 .5l.1 1l.4 .5l.1 1l.4 .5l.1 1h17.9v-14.2l.3-.3l1.2-.1l4.5-1.5l1.5 1.1h.5l.3-2.5l.1-10.5l3.1-.6l2-.9l2-1.5l2.4-2.5l1.9-2.5l2-3.5l3.1-7.5l2-8.5l1.1-9.5l-.1-11l-1.1-9.6l-1.5-6.5l-1.5-4.5l-2-4.5l-2-3.5l-2.3-3l-3-2.8l-3-1.6l-3.1-.6l-.1-10.5l-.3-2.5h-.5l-1.5 1.1l-4.5-1.5l-1.2-.1l-.3-.3v-14.2h-17.9l-.1 1.1l-.4 .4l-.1 1.1l-.4 .4l-.1 1l-.5 .5l-.5 2l-.5 .5v.5l-1.5 2.7l-4-.2l-2-.4v-9.6h-18.5v.5l-.5 .5v1.1l-.4 .4l-.1 1.1l-.4 .4l-.1 1l-.9 1.5l-.1 1l-.5 .5l-.5 1.5l-.5 .1h-5.5v-9.6h-18.5l-.4 .5l-.1 1.1l-.4 .4l-.6 2.6l-.4 .4l-.1 1l-.5 .5l-1 2.6l-.5 .5h-5.5v-9.6h-18.9l-.1 1.1l-.4 .4l-.6 2.6l-.4 .4l-.1 1.1l-.4 .4l-.1 .7l-.5 1.3l-.5 .5v.5l-.5 .6h-6v-9.6h-18.5v1l-.5 .5v1l-.5 .5v1l-.5 .5l-.5 2l-.5 .5l-1 2.6h-6v-9.6h-18.5v.5l-.5 .5v1.1l-.4 .4l-.1 1.1l-.4 .4l-.1 1l-.9 1.5l-.1 1l-.5 .5l-.5 1.5l-.5 .1h-5.5v-9.6h-18.5l-.4 .5l-.1 1.1l-.4 .4l-.6 2.6l-.4 .4l-.1 1l-.5 .5l-1 2.6l-.5 .5h-5.5v-9.6h-18.9l-.1 1.1l-.4 .4l-.6 2.6l-.4 .4l-.1 1.1l-.4 .4l-.1 .7l-.5 1.3l-.5 .5v.5l-.5 .6h-6v-9.6h-18.5v1l-.5 .5v1l-.5 .5v1l-.5 .5l-.5 2l-.5 .5l-1 2.6h-6v-9.6h-18.5v.5l-.5 .5v1.1l-.4 .4l-.1 1.1l-.5 .4v1l-.9 1.5l-.1 1l-.5 .5l-.5 1.5l-.5 .1h-5.5v-9.6h-18.5l-.4 .5l-.1 1.1l-.4 .4l-.6 2.6l-.4 .4l-.1 1l-.5 .5l-1 2.6l-.5 .5h-5.5v-9.6h-18.9l-.1 1.1l-.4 .4l-.6 2.6l-.4 .4l-.1 1.1l-.4 .4l-.1 .7l-.5 1.3l-.5 .5v.5l-.5 .6h-6v-9.6h-18.5v1l-.5 .5v1l-.5 .5v1l-.5 .5l-.5 2l-.5 .5l-1 2.6h-6v-9.6h-18.5v.5l-.5 .5v1.1l-.4 .4l-.1 1.1l-.5 .4v1l-.9 1.5l-.1 1l-.5 .5l-.5 1.5l-.5 .1h-5.5v-9.6h-18.5l-.4 .5l-.1 1.1l-.4 .4l-.6 2.6l-.4 .4l-.1 1l-.5 .5l-1 2.6l-.5 .5h-5.5v-9.6h-18.9l-.1 1.1l-.4 .4l-.6 2.6l-.4 .4l-.1 1.1l-.4 .4l-.1 .7l-.5 1.3l-.5 .5v.5l-.5 .6h-6v121.5h6l.5 .5v.5l.5 .5l.5 1.3l.1 .7l.4 .5l.1 1l.4 .4l.6 2.6l.4 .4z" fill="#0031FF"/>
<path d="M233.8 750.1h9l2.7-9.1l.5-11.3h5.5l1 .6l2.2 2.3l2.8 4.5l1.8 4l2.7 9h8.9l2.6-8.8l.5-11.7h5.5l.5 .1l2.4 2.4l3.3 5l1.8 4.1l2.6 8.9h8.9l2.5-8.5l.5-12h6l3.4 3.5l2.7 4.5l1.5 3.5l2.7 9h8.8l2.4-8.2l.5-12.3h6l1.4 1l1.8 2l3.1 5l1.5 3.5l2.6 9h8.8l2.8-9.4l.5-11.2h5.5l1 .6l2 2.1l3.2 4.9l1.7 4l2.7 9h8.7l2.7-9.2l.5-11.4h5.5l.6 .1l2.5 2.5l3.2 5l1.7 3.8l2.8 9.2h8.6l2.6-8.9l.5-11.7h6l3.2 3.1l3 5l1.5 3.5l2.7 9h8.6l2.5-8.6l.5-12l6-.1l1.5 1.2l1.8 2l2.9 4.5l1.5 3.5l2.9 9.5h8.5l2.9-9.8l.5-10.9h5.5l1.1 .7l2 2l3.2 5l1.7 3.9l2.7 9.1h8.4l2.9-9.5l.5-11.2h5.5l.7 .2l2.5 2.5l3 4.5l1.8 4l2.9 9.5h8.3l2.8-9.2l.5-11.6h6l3.3 3.3l2.8 4.5l1.6 3.5l2.8 9.5h8.3l2.7-8.9l.5-11.9h6l1.1 .8l2 2l3.2 5l1.5 3.5l2.9 9.5h8.2l3.1-10.1l.5-10.7h5.5l1.3 .8l1.9 2l3 4.5l1.8 4l2.9 9.5h8.1l3-9.8l.5-11.1h5.5l.9 .4l2.1 2l3.4 5l1.7 4l2.9 9.5h8.1l2.9-9.5l.5-11.4l6-.3l.5 .3l2.9 2.4l3.6 3.6l4 5.5l1 .7h1l1-.9l1-1.8l3.6-9.6l2.9-2.5l.3-.5l.2-2.2l5.1-.8l.5-1l2.7-.5l2.3-1l3.3-2.5l3.1-4l2.5-4.5l2-4.9l2-7.1l1-5.8l.6-6.7l.2-7l-.3-6l-1-7.6l-1.5-6.4l-1.5-4.6l-2-4.5l-2.7-4.5l-2.8-3.3l-2.9-2.2l-2.3-1l-2.7-.5l-.5-1l-5.1-.8l-.5-2.7l-2.9-2.5l-3.1-8.5l-1-2.1l-1-1.4l-1-.4l-1.5 .9l-4 5.4l-4.1 4.1l-2.6 2l-.3 .2l-6-.3l-.5-11.3l-2.9-9.6h-8.1l-2.9 9.5l-1.7 4l-3.4 5l-2.1 2l-.9 .4h-5.5l-.5-11l-3-9.9h-8.1l-2.9 9.5l-1.8 4l-3 4.5l-1.9 2l-1.3 .9l-5.5-.1l-.5-10.7l-3.1-10.1h-8.2l-2.9 9.5l-1.5 3.5l-3.2 5l-2 2l-1.1 .8h-6l-.5-11.9l-2.7-8.9h-8.3l-2.8 9.5l-1.6 3.5l-2.8 4.5l-3.3 3.3h-6l-.5-11.6l-2.8-9.2h-8.3l-2.9 9.6l-1.8 3.9l-3 4.5l-2.5 2.5l-.7 .2h-5.5l-.5-11.2l-2.9-9.5h-8.4l-2.7 9.1l-1.7 3.9l-3.2 5l-2 2l-1.1 .7h-5.5l-.5-10.9l-2.9-9.8h-8.5l-2.9 9.5l-1.5 3.5l-2.9 4.5l-1.8 2l-1.5 1.2h-6l-.5-12.1l-2.5-8.6h-8.6l-2.7 9l-1.5 3.5l-3 5l-3.2 3.1h-6l-.5-11.7l-2.6-8.9h-8.6l-2.8 9.2l-1.7 3.8l-3.2 5l-2.5 2.5l-.6 .1h-5.5l-.5-11.4l-2.7-9.2h-8.7l-2.7 9l-1.7 4l-3.2 4.9l-2 2.1l-1 .6h-5.5l-.5-11.1l-2.8-9.5h-8.8l-2.6 9l-1.5 3.5l-3.1 5l-1.8 2l-1.4 1h-6l-.5-12.3l-2.4-8.2h-8.8l-2.7 9l-1.5 3.5l-2.7 4.5l-3.4 3.5h-6l-.5-11.9l-2.5-8.6h-8.9l-2.6 8.9l-1.8 4.1l-3.3 5l-2.4 2.4l-.5 .1h-5.5l-.5-11.6l-2.6-8.9h-8.9l-2.7 9l-1.8 4l-2.8 4.5l-2.2 2.4l-1 .6l-5.5-.1l-.5-11.2l-2.7-9.2h-9l-3 10l-2 4l-2.3 3.5l-1.8 2l-1.2 .9h-6v99.8h6l1.2 .9l1.8 2l2.3 3.5l2 4z" fill="#0061FF"/>
<path d="M237.3 736.1l1.2 .3l1.5-.8l3.5-5l2-2.1l.4-1.4l.1-2.5h5.8l.7 .4l1 .1l4 2l1.5 1l2 2l3.5 5.1l1 .8l1 .3l1-.4l1-.9l3.1-4.4l1.9-2l.4-1l.1-3h6l.5 .4l1.1 .1l.4 .4l2 .6l3.1 2l2.4 2.5l3 4.3l1 .9l1 .3l1-.2l1-.9l3.5-4.9l1.5-1.5l.4-1l.1-3h6l.5 .4l2.6 .6l2 1l1.5 1l2.6 2.5l3.8 5.1l1.5 .8l1-.2l1-.8l3.5-4.9l1.5-1.5l.4-1l.1-3h6.2l2.9 1l2.9 1.5l3.5 3l3.5 4.8l1 .7l1 .2l1-.4l1-.9l2.8-3.9l2.2-2.1l.4-1.4l.1-2.5h6l.5 .4l1 .1l.5 .4l1.7 .6l3.3 2l2.5 2.5l3 4l1 .8l1 .3l1-.4l1-.8l2.5-3.4l2.5-2.6l.3-.9l.2-3h6l.5 .4l1.1 .1l.4 .4l2.1 .6l3 2l2.9 3l2.5 3.3l1 .8l1 .3l1-.2l1-.8l2.5-3.4l2.5-2.5l.4-1l.1-3h6l3.1 1l1.9 1l1.6 1l2.8 2.5l3.6 4.5l1.5 .8l1-.2l1-.8l2.5-3.3l2.5-2.5l.4-1l.1-3h6.2l4 1.5l1.8 1l2 1.5l2.5 2.5l2.5 3.2l1 .7l1 .2l1.5-.8l3.6-4.3l1.9-1.6l.4-1.4l.1-2.5h6l.5 .4l1 .1l2.3 1l3.3 2l5.4 5.9l1 .8l1 .3l1.5-.7l5.5-5.9l.3-.9l.2-3h6l.5 .4l1.1 .1l2.5 1l3 2l5.9 6.1l1.5 .7l1-.3l1-.7l5-5.4l.4-.9l.1-3h6l4.1 1.5l2.5 1.5l2.9 2.5l3.5 3.9l1.5 .7l1-.1l1-.8l5-5.2l.4-1l.1-3h6.3l3.9 1.5l3.8 2.5l5 5.1l1.5 .9l1-.2l1-.6l4-4.2l1.5-1.2l.4-1.3l.1-2.5h6l3.9 1.5l3.2 2l5.9 5.8l1.5 .5l1-.3l1.5-1.1l4.5-4.5l.3-.9l.2-3h6l4 1.5l2.5 1.5l5.5 5.3l1.5 1.1l1 .3l1-.2l1.5-1l4.5-4.6l.3-.9l.2-3h6.7l5.2 2l6.1 3.7l2 .4l2.5-1l3.7-3.1l.5-.5l1.2-4l4.1-1l2.5-1.5l1.8-1.5l3.5-4.5l2.8-5.5l1.7-4.5l1.3-5l1.7-10l.4-11l-1-11l-1.2-6.1l-1.7-6l-2.1-5l-2.2-4l-2.7-3.5l-3-2.5l-3.1-1.5l-2.8-.5l-1.2-4l-3.7-3.2l-2-1.2l-2-.1l-2 .8l-5.1 3.2l-3.6 1.5l-1.3 .2l-.5 .4h-6.5l-.2-3.1l-.3-.9l-4.5-4.5l-1.5-1l-1-.2l-1 .3l-2 1.4l-5 5l-3.5 1.9l-2.5 .7l-.5 .4h-6l-.2-3.1l-.3-.9l-4.5-4.4l-1.5-1.2l-1-.3l-1.5 .6l-5.9 5.7l-3.2 2l-3.9 1.5l-6 .1l-.1-2.6l-.4-1.3l-1.5-1.2l-4-4.2l-1.5-.7l-1 .1l-1 .7l-5 5.1l-1.9 1.5l-3 1.5l-3.1 1.1h-6l-.1-3.1l-.4-1l-5-5.2l-1-.7l-1-.2l-1.5 .7l-3.5 3.9l-2.9 2.5l-2.5 1.5l-4.1 1.6h-6l-.1-3.1l-.4-.9l-5-5.4l-1-.7l-1-.3l-1.5 .7l-5.9 6.1l-3 2l-2.5 1l-1.1 .2l-.5 .3h-6l-.2-3l-.3-.9l-5.5-5.8l-1.5-.7l-1 .2l-1 .8l-5.4 5.9l-3.3 2l-2.3 1.1h-1l-.5 .4h-6l-.1-2.5l-.4-1.3l-1.9-1.7l-3.6-4.3l-1-.6l-1-.2l-1.5 .9l-2.5 3.2l-2.5 2.5l-2 1.5l-1.8 1l-4 1.5h-6.2l-.1-3l-.4-1l-2.5-2.5l-2.5-3.3l-1-.7l-1-.2l-1.5 .7l-3.6 4.5l-2.8 2.5l-1.6 1.1l-1.9 .9l-3.1 1h-6l-.1-3l-.4-.9l-2.5-2.6l-2.5-3.3l-1-.8l-1-.3l-1 .3l-1 .9l-2.5 3.2l-2.9 3l-3 2l-2.1 .7l-.4 .3l-1.1 .1l-.5 .4h-6l-.2-3l-.3-.9l-2.5-2.6l-2.5-3.4l-1-.8l-1-.3l-1 .2l-1 .8l-3 4l-2.5 2.5l-3.3 2l-1.7 .6l-.5 .4l-1 .1l-.5 .4h-6l-.1-2.5l-.4-1.4l-2.2-2.1l-2.8-3.9l-1-.9l-1-.4l-1 .2l-1 .7l-3.5 4.8l-3.5 3l-2.9 1.5l-2.9 1h-6.2l-.1-3l-.4-1l-1.5-1.5l-3.5-4.9l-1-.7l-1-.2l-1.5 .8l-3.8 5l-2.6 2.5l-1.5 1l-2 1l-2.6 .7l-.5 .3h-6l-.1-3l-.4-.9l-1.5-1.6l-3.5-4.9l-1-.8l-1-.3l-1 .3l-1 .9l-3 4.3l-2.4 2.5l-3.1 2l-2 .6l-.4 .4l-1.1 .1l-.5 .4h-6l-.1-3l-.4-.9l-1.9-2.1l-3.1-4.4l-1-.9l-1-.3l-1 .2l-1 .8l-3.5 5.1l-2 2l-1.5 1.1l-4 1.9l-1 .1l-.7 .4h-5.8l-.1-2.5l-.4-1.4l-2-2.1l-3.5-4.9l-1-.7l-1-.2l-1 .5l-1 1l-4 5.8l-2.5 2l-2.9 1.5l-3 1h-6.1v89.6h6.1l3 1l2.9 1.5l3 2.5l3 4.7z" fill="#0092FF"/>
<path d="M237.9 733.1h1.1l1.5-.8l5-4.5l.5-3.4h6l3.5 1.2l3.5 2.1l5.5 4.8l2 .6l2-.7l5-4.5l.5-3.5h6l3.5 1.2l3.6 2l5.4 4.8l2 .7l1-.1l1.5-.9l4.5-4.1l.5-3.6h6l3.5 1.1l3.7 2.1l5.3 4.7l2 .8l1-.1l1.5-.8l4.5-4.1l.5-3.7h6.5l3 1.1l3.8 2.1l5.7 4.9l2 .6l2-.8l5-4.5l.5-3.4h6l3.5 1.2l3.5 2l5.5 4.8l2 .7l2-.7l5-4.5l.5-3.5h6l3.5 1.2l3.6 2l5.4 4.7l2 .8l1-.2l1.5-.8l4.5-4.1l.5-3.6h6l3.5 1.1l3.7 2.1l5.3 4.6l2 .9l1-.1l1.5-.8l4.5-4.1l.5-3.7h6.5l3 1l3.5 2l5.5 4.7l2 1l1-.1l1.5-.8l5-4.4l.5-3.4h6l3.5 1.2l3.5 2l5.5 4.8l2 .7l2-.8l5-4.4l.5-3.5h6l3.5 1.1l3.6 2.1l5.4 4.7l2 .8l1-.2l1.5-.9l4.5-4l.5-3.6h6l3.5 1.1l3.8 2.1l5.2 4.6l2 .8l1-.1l1.5-.8l4.5-4l.5-3.7h6.5l3 1l3.5 1.9l5.5 4.8l2 .9h1l1.5-.8l5-4.4l.5-3.4h6l3.5 1.2l3.5 2l5 4.4l2 1h1l1.5-.7l5-4.4l.5-3.5h6l3.5 1.1l3.6 2.1l5.4 4.7l2 .7l1-.1l1.5-.9l4.5-4l.5-3.6l7 .1l4.7 1.6l6.3 3.4l2 .3l1.6-.7l2-7l2.1-.5l3.2-2l2.2-2l2.1-2.5l2.6-4.5l2.5-6l2.2-8.5l1.3-9.5l.2-10l-.9-9.5l-1-5.6l-1.3-5l-1.6-4.5l-1.9-4l-2.5-4l-2.7-3l-3.4-2.5l-3.1-1l-2-7l-1.6-.7l-1.5 .1l-6.8 3.6l-4.7 1.7l-7 .1l-.5-3.6l-4.5-4.1l-2-1l-1 .1l-1.5 .6l-4.7 4.2l-2.2 1.5l-2.6 1.3l-3 1h-6l-.5-3.6l-5-4.4l-2-.7l-2 .7l-5.5 4.7l-3.5 2l-3.5 1.2l-6 .1l-.5-3.5l-5-4.4l-2-.8l-2 .6l-5.6 4.8l-3.9 2.2l-3 1l-6.5 .1l-.5-3.8l-4.5-4l-1.5-.8l-1-.1l-2 .8l-5.2 4.6l-3.8 2.1l-3.5 1.2h-6l-.5-3.7l-4.5-4l-1.5-.9l-1-.1l-2 .7l-5.4 4.7l-3.6 2.1l-3.5 1.1l-6 .1l-.5-3.6l-5-4.4l-2-.7l-2 .6l-5.5 4.8l-3.5 2l-3.5 1.2h-6l-.5-3.4l-5-4.4l-2-.9l-2 .6l-5.6 4.9l-3.9 2.2l-3 1h-6.5l-.5-3.7l-4.5-4l-1.5-.8l-1-.2l-2 .9l-5.3 4.6l-3.7 2.1l-3.5 1.1h-6l-.5-3.6l-4.5-4l-1.5-.9l-1-.2l-2 .8l-5.4 4.7l-3.6 2.1l-3.5 1.1h-6l-.5-3.5l-5-4.4l-2-.8l-2 .7l-5.5 4.8l-3.5 2l-3.5 1.2h-6l-.5-3.4l-5-4.4l-2-.9l-2 .6l-5.7 4.9l-3.8 2.2l-3 1h-6.5l-.5-3.7l-4.5-4.1l-1.5-.8l-1-.1l-2 .8l-5.3 4.7l-3.7 2.1l-3.5 1.1h-6l-.5-3.6l-4.5-4.1l-1.5-.8l-1-.2l-2 .7l-5.4 4.8l-3.6 2.1l-3.5 1.1h-6l-.5-3.5l-5-4.5l-2-.7l-2 .7l-5.5 4.8l-3.5 2l-3.5 1.2h-6l-.5-3.4l-5-4.5l-1.5-.7l-1-.1l-2 .9l-5 4.5l-3.7 2.1l-3.3 1.2h-6.5v89.2h6.5l3.3 1.2l3.5 2l5.2 4.6z" fill="#00C2FF"/>
<path d="M237 732.1l1.5 .3l1.5-.5l5.5-4.5l.2-2.8l.3-.4h6l2.5 .7l4.5 2.3l5.5 4.5l2 .7l1-.2l1.5-.9l4.5-3.8l.2-2.9l.3-.4l6.5 .1l3.5 1.1l3.5 2.1l5 4.2l2 .7l1-.2l1.5-.8l4.5-3.8l.2-3l.3-.4h6.5l3.5 1.2l3 1.6l5.5 4.6l2 .8l1-.2l1.5-.7l4.5-3.8l.2-3.1l.3-.4h6.5l2.5 .7l4 2l6 4.9l2 .5l2-.7l5-4.2l.2-2.8l.3-.4h5.5l1.5 .2l4 1.5l2.5 1.6l4.5 3.9l1.5 .8l1 .1l1-.2l1.5-.8l4.5-3.9l.2-2.8l.3-.4h5.5l1.5 .1l4 1.6l2.5 1.5l5 4.2l2 .7l1-.1l1.5-.8l4.5-3.9l.2-2.9l.3-.4h6l3 .7l3 1.5l6.5 5.1l1.5 .7l1 .1l2-.9l4.5-3.8l.2-3l.3-.4h6l3 .7l2.5 1.1l3 2l4 3.4l1.5 .8l1 .1l2-.8l5-4.2l.1-2.7l.4-.4h5.5l1.5 .1l4 1.6l2.5 1.6l4.5 3.8l1.5 .8l1 .2l1-.2l1.5-.9l4.5-3.8l.1-2.8l.4-.4h5.5l1.5 .1l4 1.5l2.5 1.6l5 4.2l2 .7l1-.2l1.5-.8l4.5-3.8l.1-2.9l.4-.4h6l3 .7l3 1.4l6.5 5.2l1.5 .7h1l2-.8l4.5-3.8l.1-3l.4-.4h6l3 .6l2.5 1.2l3 2l4 3.4l1.5 .7l1 .1l2-.7l5-4.2l.1-2.7l.4-.4h5.5l1.5 .1l4 1.6l2.5 1.6l4.5 3.8l1.5 .8l1 .1l1-.2l1.5-.8l4.5-3.8l.1-2.8l.4-.4h5.5l1.5 .1l4 1.5l2.5 1.6l5 4.1l1.5 .7h1l2-.9l4.5-3.9l.1-2.8l.4-.4l6-.2l3.5 .8l5 2l1 .1l1-.3l1.5-1.5l1.3-3l2.4-.5l2.4-1.5l2.4-2.5l2.5-3.4l2.5-4.6l2-5l1.5-5.1l1.3-6.4l.7-6.2l.3-6.8l-.3-7l-.6-6l-1.9-8.9l-2.5-7.2l-3.3-6l-2.2-3l-2.4-2.5l-2.4-1.5l-2.4-.5l-1.8-3.6l-1-.8l-1-.3l-1.5 .2l-4.5 1.8l-3.5 .8l-6-.1l-.4-.5l-.1-2.8l-4.5-3.8l-2-1l-1 .1l-1.5 .6l-5 4.2l-2.5 1.5l-2.5 1.1l-2.5 .6h-6l-.4-.5l-.1-2.7l-4.5-3.9l-1.5-.8l-1-.2l-2 .6l-5 4.2l-2.5 1.5l-2.5 1.1l-2.5 .6l-6 .1l-.4-.5l-.1-2.7l-5-4.1l-2-.8l-2 .5l-6 4.9l-4 2l-2.5 .6l-6.5 .1l-.4-.5l-.1-3l-4.5-3.8l-1.5-.7l-1-.1l-2 .7l-5.5 4.6l-4 2l-3 .8h-6l-.4-.5l-.1-2.9l-4.5-3.8l-1.5-.8l-1-.2l-2 .8l-5 4.1l-3.5 2.1l-3.5 1.1l-6.5 .1l-.4-.5l-.1-2.8l-4.5-3.8l-1.5-.9l-1-.2l-2 .7l-5 4.1l-2.5 1.6l-2.5 1.1l-2.5 .6h-6l-.4-.4l-.1-2.7l-5-4.2l-2-.8l-2 .6l-6 4.8l-4 2l-2.5 .7h-6.5l-.3-.4l-.2-3l-4.5-3.8l-1.5-.8l-1-.1l-2 .8l-5.5 4.6l-3 1.6l-3.5 1.1h-6.5l-.3-.4l-.2-2.9l-4.5-3.8l-1.5-.8l-1-.2l-2 .7l-5 4.2l-3.5 2l-3.5 1.2h-6.5l-.3-.4l-.2-2.8l-4.5-3.9l-1.5-.8l-1-.2l-2 .6l-6 4.9l-4 2l-2.5 .6h-6l-.3-.4l-.2-2.7l-5-4.2l-2-.8l-2 .5l-6 4.9l-4 2l-2.5 .7h-6.5l-.3-.4l-.2-3l-4.5-3.9l-1.5-.7l-1-.1l-2 .8l-5.5 4.5l-3 1.7l-3.5 1.1h-6.5l-.3-.4l-.2-2.9l-4.5-3.9l-1.5-.8l-1-.1l-2 .7l-5 4.2l-3.5 2l-3.5 1.2h-6.5l-.3-.4l-.2-2.8l-4.5-3.9l-1.5-.9l-1-.2l-2 .7l-5.5 4.5l-4.5 2.3l-2.5 .7h-6l-.3-.4l-.2-2.8l-5-4.2l-1.5-.7l-1-.1l-2 .9l-5.5 4.6l-4 2l-2.5 .7h-6.5v88.8h6.5l2.5 .7l4 2l5 4.2z" fill="#00F3FF"/>
<path d="M238 731.6l2-.4l1.5-1.1l4-5.4l.5-1.7l6 .1l7 1.3l5 6.2l2.5 1l1.6-.5l1.4-1l4-5.4l.5-1.7h6l7 1.3l5 6.3l2.5 1l1.6-.5l1.4-1l4-5.3l.5-1.9l6.5 .1l6.5 1.1l.7 .5l4.2 5.5l1.1 1l1.5 .4l1.7-.4l1.3-1l4-5.3l.5-1.9h6.5l7 1.2l5 6.4l.9 .6l1.6 .3l1.4-.3l1.1-1l4.5-5.9l.5-1.4h6l7 1.1l5 6.3l1.1 .9l1.4 .2l1.2-.2l1.3-1.1l4.5-5.8l.5-1.4h6l7 1l5.5 6.5l1 .8l1 .1l1.5-.4l1.5-1.4l4-5.2l.5-1.5l6.5 .1l6.5 .8l.7 .5l4.8 5.9l1 .8l1 .3l1.5-.4l1.5-1.4l4-5.1l.5-1.5h6.5l7 .9l5 6.1l2 1.2l1.5-.4l1.5-1.3l4.5-5.5l.5-1.1h6l7 .8l5 5.9l1.5 1.2l1 .2l1-.3l1.5-1.2l4.5-5.5l.5-1.1h6l7 .7l5 5.7l1.5 1.2l1 .2l1-.2l1.5-1.1l4.5-5.4l.5-1.2h6.5l6.5 .6l.5 .2l5 5.8l1 .8l1 .3l1.5-.4l1.5-1.3l4-4.8l.5-1.2h6.5l7 .5l5 5.8l1.5 1l1 .2l1-.4l1.5-1.2l5-6h6l7 .5l5 5.6l1.5 1l1 .2l1-.2l1.5-1.2l5-6h6l6.5 .4l1 .3l5 5.6l1.5 .8h1l1-.4l1.5-1.3l4.5-5.4l8-.2l8.3-1l1.2-.5l1.5-1.2l3-4.3l2.7-5l2-5l1.8-5.8l1.2-5.7l.8-6.5l.3-6.5l-.2-6.5l-.7-6.5l-1.5-7.6l-2.4-7.5l-3.7-7.5l-1.9-3l-1.6-2l-1.8-1.2l-2-.5l-7-.8l-8-.2l-5-5.9l-1.5-1.1l-1-.2l-1 .3l-1.5 1.1l-5 5.4l-7 .4h-6l-5-6l-1.5-1.1l-1-.3l-1 .2l-1.5 1l-5 5.6l-7 .5h-6l-5-6l-1.5-1.2l-1-.3l-1 .1l-1.5 1l-5 5.8l-7 .6h-6.5l-.5-1.3l-4-4.8l-1.5-1.3l-1.5-.4l-1 .4l-1 .7l-5 5.8l-.5 .2l-6.5 .6h-6.5l-.5-1.1l-4.5-5.5l-1.5-1.1l-1-.2l-1 .3l-1.5 1.1l-5 5.7l-7 .8h-6l-.5-1.1l-4.5-5.5l-1.5-1.2l-1-.3l-1 .2l-1.5 1.1l-5 5.9l-7 .8h-6l-.5-1l-4.5-5.6l-1.5-1.3l-1.5-.3l-2 1.2l-5 6l-7 .9h-6.5l-.5-1.5l-4-5.1l-1.5-1.4l-1.5-.4l-1 .4l-1 .7l-4.8 5.9l-.7 .5l-6.5 .9h-6.5l-.5-1.5l-4-5.1l-1.5-1.5l-1.5-.4l-1 .2l-1 .7l-5.5 6.5l-7 1h-6l-.5-1.4l-4.5-5.8l-1.3-1.1l-1.2-.2l-1.4 .2l-1.1 1l-5 6.2l-7 1.1h-6l-.5-1.4l-4.5-5.8l-1.1-1.1l-1.4-.3l-1.6 .3l-.9 .6l-5 6.4l-7 1.2h-6.5l-.5-1.9l-4-5.3l-1.3-1l-1.7-.3l-1.5 .3l-1.1 1l-4.2 5.5l-.7 .5l-6.5 1.1l-6.5 .1l-.5-1.8l-4-5.4l-1.4-1l-1.6-.5l-2.5 1l-5 6.3l-7 1.3h-6l-.5-1.7l-4-5.4l-1.4-1l-1.6-.5l-2.5 1l-5 6.2l-7 1.4h-6l-.5-1.7l-4-5.4l-1.5-1l-2-.5l-1.5 .5l-1.8 1.5l-3.7 5l-3 .8l-4 .7h-6.5v86.6h6.5l4 .7l3 .8l3.7 5l1.8 1.5z" fill="#00FFDB"/>
<path d="M263.4 721.6l4.1 .2l6.5-1h5h8l7.5 1l7.5-.9l13 .1l7.5 .8l7.5-.9h13.5l7.5 .8l7.5-.8h13l7.5 .7l7.5-.8h13l7.5 .7l7.5-.8l13-.1l7.5 .8l3-.2l4.5-.7h13.5l4.5 .6l3 .2l7.5-.9l13-.1l7.5 .9l7.5-.9l13-.1l7.5 .8l3-.2l4.5-.7l13-.1l7.5 .9l3-.2l4.5-.8l13.5-.1l4 .7l3.5 .2l7.5-1l13-.1l4.5 .7l3 .2l3-.2l4.5-.9l13-.2l5 .8l3 .1l7-1.1l7-.3l1.5-.4l1.5-.9l1.8-1.8l2.3-3l3-5.5l2.4-6.5l1.7-7.5l1-7.5l.1-8l-.6-8l-1.5-8.1l-2.5-7.5l-2.9-6l-3.5-4.5l-1.8-1.7l-2-.8l-7.5-.4l-6.5-1h-3.5l-5 .8l-13-.2l-4.5-.8l-3-.3l-3 .2l-4.5 .7l-13-.1l-7.5-1l-3.5 .2l-4 .7l-13.5-.1l-4.5-.8l-3-.1l-7.5 .8h-13l-4.5-.8l-3-.2l-7.5 .9l-13-.1l-7.5-1l-7.5 .9l-13-.1l-7.5-.9l-3 .2l-4.5 .7l-13.5-.1l-4.5-.7l-3-.2l-7.5 .8h-13l-7.5-.9l-7.5 .8l-13-.1l-7.5-.8l-7.5 .8l-13-.1l-7.5-.8l-7.5 .8h-13.5l-7.5-.8l-7.5 .8h-13l-7.5-.8l-7.5 .9h-13l-7.5-1l-7.5 .9l-13 1.1l-5 .2l-15 1.5l-8.5-2.9v82.4l8.5-2.8l15 1.5l5 .1l13 1.1z" fill="#00FFAA"/>
<path d="M217.5 720.6v.2l8.5-3l39.5 1.9l8.5-.7h6.5h6.5l8 .7l7-.4l13 .1l8 .5l7-.5h13.5l7.5 .5l7.5-.6h13l7.5 .5l7.5-.5l13-.2l7.5 .4l7.5-.5l13-.2l8 .4l7-.6h13.5l7 .4l8-.6l13-.1l7.5 .5l7.5-.6l13-.2l7.5 .4l7.5-.6l13-.2l7.5 .4l7.5-.6l13.5-.2l7.5 .4l7.5-.6l13-.2l8 .3l7-.6l13-.5l8.5 .1l8-.7l1.6-.3l1.4-.8l2.9-3.2l3.5-5.5l2.6-6l1.8-6.5l1.1-6.5l.4-6.5l-.4-7l-1.2-7l-1.9-6.6l-2.4-5.5l-3.1-5l-2.5-3l-1.8-1.3l-1.5-.4l-6.5-.7l-5-.2l-5.5 .2l-13-.4l-8-.7l-7 .3l-13-.2l-7.5-.6l-7.5 .4l-13.5-.2l-7.5-.6l-7.5 .4l-13-.2l-7.5-.6l-7.5 .4l-13-.1l-7.5-.6l-7.5 .4l-13-.1l-8-.6l-7 .5l-13.5-.1l-7-.6l-8 .4l-13-.1l-7.5-.6l-7.5 .4l-13-.1l-7.5-.6l-7.5 .5h-13l-7.5-.5l-7.5 .5l-13.5-.1l-7-.5l-8 .5l-13 .1l-7-.4l-8 .7h-6.5h-6.5l-8.5-.6l-39.5 1.9l-8.5-3.1z" fill="#00FF79"/>
<path d="M217.5 720.6l8.5-3.2l34 .3l7.5-.1l6.5-.4l9.5-.1l11.5 .6l20 .1l7.5 .3l7.5-.3h13.5l7.5 .3l7.5-.4h13l7.5 .3l20.5-.6l7.5 .2l7.5-.4l13-.2l7.5 .2l7.5-.5l13.5-.1l7.5 .2l7.5-.4l13-.2l7 .2l8-.5l13-.2l8 .1l7-.5l20.5-.1l7.5-.5l13.5-.3l7.5 .1l7.5-.4l21-.4l34-2.2l2-.3l1-.5l2-2l3.4-5.1l2.8-6l1.7-5.5l1.1-5.9l.4-5.6l-.3-6l-.7-5l-1.3-5.1l-1.9-5l-2.2-4.1l-2.5-3.8l-2-2.3l-1.5-.8l-3.5-.5l-32.5-2.1l-21-.4l-7.5-.4l-7.5 .1l-13.5-.3l-7.5-.4l-20.5-.2l-7-.4l-8 .1l-13-.3l-8-.5l-7 .2l-13-.2l-7.5-.4l-7.5 .3l-13.5-.2l-7.5-.4l-7.5 .2l-13-.3l-7.5-.4l-7.5 .2l-20.5-.6l-7.5 .3h-13l-7.5-.4l-7.5 .4h-13.5l-7.5-.4l-7.5 .4h-20l-11.5 .6l-9.5-.1l-6.5-.4l-7.5-.1l-34 .3l-8.5-3.2z" fill="#00FF49"/>
<path d="M217.5 720.1v.4l8.5-3.5l33.5-.9l14.5-.8h13l8.5 .5l27 .5l7.5-.2l49 .1l20.5-.5h7l8-.4l20.5-.3l7.5-.3l48.5-.8l85-2.8l27-1.2l14-1.3l20.5-2.5l2.5-.8l1.5-1.2l1.5-2l2-3.4l1.5-3.3l1.5-4.5l.9-4.3l.5-3.5l-.1-7.5l-1.3-6.9l-2-5.6l-3-5.6l-1.5-2l-1.2-1l-1.8-.7l-2.5-.5l-29.5-3.3l-30-1.5l-85-2.8l-49-.7l-7-.4h-8l-20.5-.7l-7.5 .1l-19.5-.6l-21.5 .2l-8-.3l-20.5 .2l-8-.2l-26.5 .6l-8.5 .4h-13l-14.5-.8l-33.5-.9l-8.5-3.5z" fill="#00FF18"/>
<path d="M217.5 720.1v.3l8.5-3.7l48-3.3l13-.1l20.5 1l15 .2l56.5-.2l27-.6l36.5-1.3l49.5-1.3l84-4.2l24.8-1.8l9.2-1.2l9.8-1.8l11.2-3.1l3-1.5l2-1.8l1.5-1.8l1.8-2.8l1.1-2.5l1.5-5.5l.2-5.5l-.9-4.5l-2.2-5l-3-4.2l-3-2.4l-2-.8l-5.5-1.7l-8-2l-9.5-1.6l-9-1l-23-1.7l-84.5-4.2l-49-1.3l-36.5-1.3l-27-.6l-56.5-.1l-15 .2l-20.5 .9l-13-.1l-48-3.2l-8.5-3.8z" fill="#18FF00"/>
<path d="M217.5 720.1v.2l8.5-4l33.5-3.5l3-.5l11.5-.8l13-.2l20.5 1.1l15 .1l57-.2l26-.8l86-3.6l53.5-4l33.5-3.1l12-1.6l8.5-1.7l7.5-2.3l5.4-2.6l3.1-2.7l1-1.3l1-2l.8-4l-.1-6.5l-.9-3.5l-1.9-3l-3.4-2.8l-5-2.4l-5.7-1.9l-7.8-1.6l-8.8-1.4l-13.2-1.4l-49.5-4.2l-31-2.3l-85.5-3.5l-25.5-.8l-57-.2l-15 .1l-20.5 1.1l-13-.2l-11.5-.7l-3-.6l-33.5-3.5l-8.5-4z" fill="#49FF00"/>
<path d="M217.5 720.1l8.5-4.2l33.5-4.7l3-.7l12-.9l12.5-.3l20.5 1.1l13 .1l64-.5l81.5-4.3l22-1.5l17.5-1.9l16.8-2.2l18.2-3l11.4-2.5l9.8-3l5.4-2.5l2.1-1.5l1.5-1.5l.8-1.5l.5-1.5l.2-5.5l-.5-2l-.7-1.5l-1.2-1.5l-1.9-1.5l-2.7-1.5l-3.5-1.5l-7.9-2.6l-9.8-2.3l-12-2.2l-17-2.5l-20.5-2.4l-31-2.3l-58-3.2l-22.5-1l-62.5-.5l-13 .1l-20.5 1.2l-12.5-.3l-12-1l-3-.7l-33.5-4.7l-8.5-4.3z" fill="#79FF00"/>
<path d="M217.5 720.1l8.5-4.5l33.5-6.1l3-.8l12-1.1l13-.5l20 1.2l13 .1l32-.3l33.5-.7l21-1.3l50-4.1l26.2-2.9l10.8-2l8.2-2l7.2-2.5l4.9-2.5l2.9-2.5l1.6-2.5l.7-3l-.1-5.5l-1.1-3l-2.1-2.5l-3.6-2.5l-4.4-2l-6-2.1l-7.9-2l-9.3-1.7l-9.3-1.3l-14.2-1.5l-27.5-2.3l-28-2.2l-21-1.3l-32.5-.7l-32.5-.2h-12.5l-20 1.2l-12.5-.4l-12.5-1.2l-3-.8l-33.5-6l-8.5-4.6z" fill="#AAFF00"/>
<path d="M217.5 719.6v.4l8.5-4.8l17.5-4l15-3.1l4-1.1l13-1.5l13-.6l19 1.2h12.5l33.1-.5l30.6-1l27.8-2.5l20.3-2.5l16.7-2.5l9.5-1.8l6.9-1.7l5.7-2l4-2l3-2.5l1.5-2.5l.5-3l-.1-5l-.9-2.5l-2-2.5l-3.6-2.5l-4.5-1.9l-5.4-1.7l-6.5-1.5l-21.1-3.5l-31.5-3.8l-17.5-1.5l-8-.4l-26.5-.8l-33.5-.4l-11-.1l-19 1.2l-13-.6l-13-1.5l-4-1.1l-15-3.1l-17.5-4l-8.5-4.8z" fill="#DBFF00"/>
<path d="M217.5 719.6v.3l8.5-5.1l5-1.4l27-6.7l4.5-1.5l14-1.9l7-.6l6.5-.1l17.5 1.1l5-.1l48-1.2l26-1.6l12-1.6l9.6-1.6l9.4-2l7.6-2l5.7-2l5.1-2.5l2.9-2.5l1.5-2.5l.5-3l-.2-4.5l-1-2.5l-1.7-2l-2.9-2l-4.2-2l-5.7-2l-5.5-1.6l-17.1-3.5l-16.5-2.2l-32-1.8l-42.5-1h-4l-17.5 1.1l-6.5-.2l-7-.6l-14-1.9l-4.1-1.4l-16.4-3.9l-16-4.3l-8.5-5.1z" fill="#FFF300"/>
<path d="M217.5 719.6v.2l2.1-1.2l6.4-4.2l6-1.9l26.1-7.4l4.4-1.6l14.5-2.4l6-.7l6-.3l7.5 .1l12 .8l38.5-1.5l23-1.7l10-1.3l8.2-1.4l5.9-1.5l4.9-1.7l4.1-1.8l3-2l1.9-2l1.2-2.5l.4-3l-.2-4l-.8-2l-1.4-2l-1.7-1.5l-2.4-1.5l-3.2-1.5l-4.2-1.5l-9.7-2.5l-18.5-2.5l-21.5-1.6l-37.5-1.3l-12 .8l-7.5 .1l-6-.4l-6-.6l-14.5-2.5l-4.4-1.6l-27.1-7.7l-5-1.6l-8.5-5.4z" fill="#FFC200"/>
<path d="M217.5 719.6l2.7-1.5l5.8-4l8-2.9l23.9-7.6l4.6-1.9l14-2.8l7-1l6.5-.6h7.5l10 .7l25.5-1.5l19.6-1.9l7.9-1.2l6.5-1.4l4.8-1.4l3.2-1.3l3.1-1.7l1.8-1.5l1.1-1.5l.8-2l.2-2.5l-.2-3l-.8-2l-1.1-1.5l-1.8-1.5l-2.6-1.5l-6.9-2.5l-10.1-2.2l-17-2.1l-25.5-1.8l-8.5-.3l-12 .7l-9-.3l-9-1.2l-15-3l-4-1.6l-17.5-5.5l-15-5.3l-8.5-5.6z" fill="#FF9200"/>
<path d="M217.5 719.1v.5l8.5-5.9l11-4.3l20.7-7.3l4.8-2.1l13.5-3.3l8-1.6l7-.8l7-.2l9.5 .3l11-.9l15.5-2.2l10.5-2.4l6.1-2.3l1.7-1l1.7-1.5l1-1.5l.5-1.5v-2l-.3-1.5l-1.7-2.5l-3.9-2.5l-5.5-2l-7.6-1.8l-11-1.8l-13.5-1.5l-4.5-.3l-12 .4l-8-.6l-9-1.6l-16-3.8l-4.5-1.9l-17-5.9l-15-5.9l-8.5-5.9z" fill="#FF6100"/>
<path d="M217.5 719.1v.4l8.5-6.2l15-6.4l17-6.5l4.5-2.1l17.5-5l7.5-1.8l8.5-1.3l13.5-.7l6.5-1.3l5.6-1.6l3.5-1.5l2.9-2l1.3-2l.2-1l-.2-1.5l-1.3-2l-2.9-2l-3.5-1.5l-4.9-1.5l-9.2-1.7l-11-.5l-8-1.1l-8.5-1.9l-17.5-5l-4.5-2.2l-17-6.5l-15-6.4l-8.5-6.2z" fill="#FF3100"/>
<path d="M217.5 719.1v.3l2.6-1.8l5.9-4.6l12-5.7l19.4-8.2l5.1-2.6l5.5-1.6l16.5-6l17.4-5.8l2-1l1.3-1l.6-1l-.2-1l-1.6-1.5l-2.1-1l-17.4-5.9l-16.5-5.9l-5.5-1.7l-5.1-2.6l-16.4-6.8l-15-7l-8.5-6.5z" fill="#FF0000"/>
<rect x="217.5" y="811.8" width="562.5" height="140.6" fill="#0000FF"/>
<path d="M236 951.9l.5 .5h3.9l.6-1.5l.5-.5v-.5l.5-.5v-.5l.5-.5v-.5l.5-.5l.5-2l.5-.5v-.5l.5-.5v-.5l.5-.5v-.6l1-1.9v-9h5.5l.5 .5h.5l3 3v.5l2 2.5v.5l1.5 2.3l1 2.7l1.5 2.5v1l1.5 2.5l.5 1.5l.5 .5v.5l.5 .5h4l2-3.5l.5-2l.5-.5v-.5l.9-1.5l.1-1l1.5-2.5v-9.5h6l4 4v.5l2 2.5v.5l1 1.5l.5 1.5l.5 .5v.5l.5 .5l.5 2l1 1.5l.5 2l2 3.5h4l.5-.5v-.5l.5-.5l.5-1.5l1.5-2.5v-1l.5-.5v-.5l.5-.5v-.5l.5-.5v-.6l.4-.4l.6-1.5v-9.5h6l4.5 4.5v.5l1 1v.5l2 3.3l.5 1.7l1.5 2.5l.5 2l.5 .5v.5l.5 .5v.5l.5 .5v.5l.5 .5l.6 1.5h3.9l1-1l.5-1.5l.5-.5v-.6l.4-.4l.1-1l1.4-2.5l.1-1l1.5-2.5v-10h6l1 .9l.5 .1l1.5 1.5l.5 1l1.5 1.5v.5l1.5 2v.5l1.5 2.5v.5l.5 .5v.5l.5 .5l.1 1l1.4 2.5l.1 1l.4 .4v.6l.5 .5l.5 1.5l1 1h3.9l.6-1.5l.5-.5v-.5l.5-.5v-.5l.5-.5v-.5l.5-.5l.5-2l.5-.5v-.5l.5-.5v-.5l.5-.5v-.6l1-1.9v-9h5.5l.5 .5h.5l3 3v.5l2 2.5v.5l1.5 2.3l1 2.7l1.5 2.5v1l1.5 2.5l.5 1.5l.5 .5v.5l.5 .5h4l2-3.5l.5-2l.5-.5v-.5l.9-1.5l.1-1l1.5-2.5v-9.5h6l4 4v.5l2 2.5v.5l1 1.5l.5 1.5l.5 .5v.5l.5 .5l.5 2l1 1.5l.5 2l2 3.5h4l.5-.5v-.5l.5-.5l.5-1.5l1.5-2.5v-1l.5-.5v-.5l.5-.5v-.5l.5-.5v-.6l.4-.4l.6-1.5v-9.5h6l4.5 4.5v.5l1 1v.5l2 3.3l.5 1.7l1.5 2.5l.5 2l.5 .5v.5l.5 .5v.5l.5 .5v.5l.5 .5l.6 1.5h3.9l1-1l.5-1.5l.5-.5v-.6l.4-.4l.1-1l1.4-2.5l.1-1l1.5-2.5v-10h6l1 .9l.5 .1l1.5 1.5l.5 1l1.5 1.5v.5l1.5 2v.5l1.5 2.5v.5l.5 .5v.5l.5 .5l.1 1l1.4 2.5l.1 1l.4 .4v.6l.5 .5l.5 1.5l1 1h3.9l.6-1.5l.5-.5v-.5l.5-.5v-.5l.5-.5v-.5l.5-.5l.5-2l.5-.5v-.5l.5-.5v-.5l.5-.5v-.6l1-1.9v-9h5.5l.5 .5h.5l3 3v.5l2 2.5v.5l1.5 2.3l1 2.7l1.5 2.5v1l1.5 2.5l.5 1.5l.5 .5v.5l.5 .5h4l2-3.5l.5-2l.5-.5v-.5l.9-1.5l.1-1l1.5-2.5v-9.5h6l4 4v.5l2 2.5v.5l1 1.5l.5 1.5l.5 .5v.5l.5 .5l.5 2l1 1.5l.5 2l2 3.5h4l.5-.5v-.5l.5-.5l.5-1.5l1.5-2.5v-1l.5-.5v-.5l.5-.5v-.5l.5-.5v-.6l.4-.4l.6-1.5v-9.5h6l4.5 4.5v.5l1 1v.5l2 3.3l.5 1.7l1.5 2.5l.5 2l.5 .5v.5l.5 .5v.5l.5 .5v.5l.5 .5l.6 1.5h3.9l1-1l.5-1.5l.5-.5v-.6l.4-.4l.1-1l1.4-2.5l.1-1l1.5-2.5v-10h6l1 .9l.5 .1l1.5 1.5l.5 1l1.5 1.5v.5l1.5 2v.5l1.5 2.5v.5l.5 .5v.5l.5 .5l.1 1l1.4 2.5l.1 1l.4 .4v.6l.5 .5l.5 1.5l1 1h3.9l.6-1.5l.5-.5v-.5l.5-.5v-.5l.5-.5v-.5l.5-.5l.5-2l.5-.5v-.5l.5-.5v-.5l.5-.5v-.6l1-1.9v-9h5.5l.5 .5h.5l3 3v.5l2 2.5v.5l1.5 2.3l1 2.7l1.5 2.5v1l1.5 2.5l.5 1.5l.5 .5v.5l.5 .5h4l2-3.5l.5-2l.5-.5v-.5l.9-1.5l.1-1l1.5-2.5v-9.5h6l4 4v.5l2 2.5v.5l1 1.5l.5 1.5l.5 .5v.5l.5 .5l.5 2l1 1.5l.5 2l2 3.5h4l.5-.5v-.5l.5-.5l.5-1.5l1.5-2.5v-1l.5-.5v-.5l.5-.5v-.5l.5-.5v-.6l.4-.4l.6-1.5v-9.5h6l4.5 4.5v.5l1 1v.5l2 3.3l.5 1.7l1.5 2.5l.5 2l.5 .5v.5l.5 .5v.5l.5 .5v.5l.5 .5l.6 1.5h3.9l1-1l.5-1.5l.5-.5v-.6l.4-.4l.1-1l1.4-2.5l.1-1l1.5-2.5v-10h6l1.5 1l2.5 2.5v.5l1.5 1.5l.6 1.5l.9 1v.5l1.5 2.5v.5l.5 .5v.5l.5 .5l.6 2l.4 .5l1.1 2.5l.9 1v.5l1.5 1.5l1.5-.1l1.4-1.4l.6-1.5l.5-.5v-.5l.5-.5v-.5l.5-.5v-.5l.5-.5v-.5l.4-.5l.6-2l.5-.5v-.5l1.5-2.5v-8.5h6l1.5 1.5h.5l1.5 1.5l.5 1l1.5 1.5v.5l1 1v.5l2 3l1 2.5l2 3.5l2 2h1l2-2l1-1.5l2.5-5.6l2-3.4v-7h2.5l.9-.5h3.1l.5 .5l1.5 .5l2.5 1.9l.5 .1l2 1.9l1.5 .9l.2-10.8l4.3-.9l3-1.3l2.5-1.6l3.8-3.2l4-5.5l2-4l2-5l1.5-5.5l.9-5l.6-5l.2-5l-.2-5l-.6-5.5l-1.4-7.1l-1.5-5l-2.4-5.5l-3.1-5l-2.9-3.5l-4.4-3.2l-4-1.9l-4.3-.9l-.2-10.8l-1.5 .9l-2 1.9l-.5 .1l-2.5 1.9l-1.5 .5l-.5 .5h-3.1l-.9-.4l-2.5-.1v-7l-2-3.4l-2.5-5.6l-1-1.5l-2-2h-1l-2 2l-2 3.5l-1 2.5l-2 3v.5l-1 1v.5l-1.5 1.5l-.5 1l-1.5 1.5l-.5 .1l-1.5 1.4h-6v-8.5l-1.5-2.5v-.5l-.5-.5l-.6-2l-.4-.4v-.6l-.5-.5v-.5l-.5-.5v-.5l-.5-.5v-.5l-.5-.5l-.6-1.5l-1.4-1.4h-1.5l-1.5 1.4v.5l-.9 1l-1.1 2.6l-.4 .4l-.6 2l-.5 .5v.5l-.5 .5v.5l-1.5 2.5v.5l-.9 1l-.6 1.5l-1.5 1.5v.5l-2.5 2.5l-1.5 1h-6v-10l-1.5-2.5l-.1-1l-1.4-2.5l-.1-1l-.4-.4v-.6l-.5-.5l-.5-1.5l-1-1h-3.9l-.6 1.5l-.5 .5v.5l-.5 .5v.5l-.5 .5v.5l-.5 .5l-.5 2l-1.5 2.5l-.5 1.7l-2 3.3v.5l-1 1v.5l-4.5 4.5h-6v-9.5l-.6-1.5l-.4-.4v-.6l-.5-.5v-.5l-.5-.5v-.5l-.5-.5v-1l-1.5-2.5l-.5-1.5l-.5-.5v-.5l-.5-.5h-4l-2 3.5l-.5 2l-1 1.5l-.5 2l-.5 .5v.5l-.5 .5l-.5 1.5l-1 1.5v.5l-2 2.5v.5l-4 4h-6v-9.5l-1.5-2.5l-.1-1l-.9-1.5v-.5l-.5-.5l-.5-2l-2-3.5h-4l-.5 .5v.5l-.5 .5l-.5 1.5l-1.5 2.5v1l-1.5 2.5l-1 2.7l-1.5 2.3v.5l-2 2.5v.5l-3 3l-.5 .1l-.5 .4h-5.5v-9l-1-1.9v-.6l-.5-.4v-.6l-.5-.5v-.5l-.5-.5l-.5-2l-.5-.5v-.5l-.5-.5v-.5l-.5-.5v-.5l-.5-.5l-.6-1.5h-3.9l-1 1l-.5 1.5l-.5 .5v.6l-.4 .4l-.1 1l-1.4 2.5l-.1 1l-.5 .5v.5l-.5 .5v.5l-1.5 2.5v.5l-1.5 2v.5l-1.5 1.5l-.5 1l-1.5 1.5l-.5 .1l-1 .9h-6v-10l-1.5-2.5l-.1-1l-1.4-2.5l-.1-1l-.4-.4v-.6l-.5-.5l-.5-1.5l-1-1h-3.9l-.6 1.5l-.5 .5v.5l-.5 .5v.5l-.5 .5v.5l-.5 .5l-.5 2l-1.5 2.5l-.5 1.7l-2 3.3v.5l-1 1v.5l-4.5 4.5h-6v-9.5l-.6-1.5l-.4-.4v-.6l-.5-.5v-.5l-.5-.5v-.5l-.5-.5v-1l-1.5-2.5l-.5-1.5l-.5-.5v-.5l-.5-.5h-4l-2 3.5l-.5 2l-1 1.5l-.5 2l-.5 .5v.5l-.5 .5l-.5 1.5l-1 1.5v.5l-2 2.5v.5l-4 4h-6v-9.5l-1.5-2.5l-.1-1l-.9-1.5v-.5l-.5-.5l-.5-2l-2-3.5h-4l-.5 .5v.5l-.5 .5l-.5 1.5l-1.5 2.5v1l-1.5 2.5l-1 2.7l-1.5 2.3v.5l-2 2.5v.5l-3 3l-.5 .1l-.5 .4h-5.5v-9l-1-1.9v-.6l-.5-.4v-.6l-.5-.5v-.5l-.5-.5l-.5-2l-.5-.5v-.5l-.5-.5v-.5l-.5-.5v-.5l-.5-.5l-.6-1.5h-3.9l-1 1l-.5 1.5l-.5 .5v.6l-.4 .4l-.1 1l-1.4 2.5l-.1 1l-.5 .5v.5l-.5 .5v.5l-1.5 2.5v.5l-1.5 2v.5l-1.5 1.5l-.5 1l-1.5 1.5l-.5 .1l-1 .9h-6v-10l-1.5-2.5l-.1-1l-1.4-2.5l-.1-1l-.4-.4v-.6l-.5-.5l-.5-1.5l-1-1h-3.9l-.6 1.5l-.5 .5v.5l-.5 .5v.5l-.5 .5v.5l-.5 .5l-.5 2l-1.5 2.5l-.5 1.7l-2 3.3v.5l-1 1v.5l-4.5 4.5h-6v-9.5l-.6-1.5l-.4-.4v-.6l-.5-.5v-.5l-.5-.5v-.5l-.5-.5v-1l-1.5-2.5l-.5-1.5l-.5-.5v-.5l-.5-.5h-4l-2 3.5l-.5 2l-1 1.5l-.5 2l-.5 .5v.5l-.5 .5l-.5 1.5l-1 1.5v.5l-2 2.5v.5l-4 4h-6v-9.5l-1.5-2.5l-.1-1l-.9-1.5v-.5l-.5-.5l-.5-2l-2-3.5h-4l-.5 .5v.5l-.5 .5l-.5 1.5l-1.5 2.5v1l-1.5 2.5l-1 2.7l-1.5 2.3v.5l-2 2.5v.5l-3 3l-.5 .1l-.5 .4h-5.5v-9l-1-1.9v-.6l-.5-.4v-.6l-.5-.5v-.5l-.5-.5l-.5-2l-.5-.5v-.5l-.5-.5v-.5l-.5-.5v-.5l-.5-.5l-.6-1.5h-3.9l-1 1l-.5 1.5l-.5 .5v.6l-.4 .4l-.1 1l-1.4 2.5l-.1 1l-.5 .5v.5l-.5 .5v.5l-1.5 2.5v.5l-1.5 2v.5l-1.5 1.5l-.5 1l-1.5 1.5l-.5 .1l-1 .9h-6v-10l-1.5-2.5l-.1-1l-1.4-2.5l-.1-1l-.4-.4v-.6l-.5-.5l-.5-1.5l-1-1h-3.9l-.6 1.5l-.5 .5v.5l-.5 .5v.5l-.5 .5v.5l-.5 .5l-.5 2l-1.5 2.5l-.5 1.7l-2 3.3v.5l-1 1v.5l-4.5 4.5h-6v-9.5l-.6-1.5l-.4-.4v-.6l-.5-.5v-.5l-.5-.5v-.5l-.5-.5v-1l-1.5-2.5l-.5-1.5l-.5-.5v-.5l-.5-.5h-4l-2 3.5l-.5 2l-1 1.5l-.5 2l-.5 .5v.5l-.5 .5l-.5 1.5l-1 1.5v.5l-2 2.5v.5l-4 4h-6v-9.5l-1.5-2.5l-.1-1l-.9-1.5v-.5l-.5-.5l-.5-2l-2-3.5h-4l-.5 .5v.5l-.5 .5l-.5 1.5l-1.5 2.5v1l-1.5 2.5l-1 2.7l-1.5 2.3v.5l-2 2.5v.5l-3 3l-.5 .1l-.5 .4h-5.5v-9l-1-1.9v-.6l-.5-.4v-.6l-.5-.5v-.5l-.5-.5l-.5-2l-.5-.5v-.5l-.5-.5v-.5l-.5-.5v-.5l-.5-.5l-.6-1.5h-3.9l-1 1l-.5 1.5l-.5 .5v.6l-.4 .4l-.1 1l-1.4 2.5l-.1 1l-.5 .5v.5l-.5 .5v.5l-1.5 2.5v.5l-1.5 2v.5l-1.5 1.5l-.5 1l-1.5 1.5l-.5 .1l-1 .9h-6v98.6h6l1 .9l.5 .1l1.5 1.5l.5 1l1.5 1.5v.5l1.5 2v.5l1.5 2.5v.5l.5 .5v.5l.5 .5l.1 1l.4 .5v.5l1 1.5l.1 1z" fill="#0031FF"/>
<path d="M237.8 947.9h1.2l1.5-1.5l5-9.2l.5-7.4l6 .1l2.8 2l2 2l2.2 2.9l5.5 9.9l1 1l1 .4l1-.5l1.5-1.8l4.5-8.3l.5-7.7h6l3 2.1l1.9 2l2.1 2.7l5.5 10l1 1l1 .5l1-.4l1.5-1.7l4.5-8.3l.5-7.9h6l3.1 2.1l2 2l2.2 3l5.2 9.5l1 1.1l1 .5l1-.2l1.5-1.6l4.5-8.3l.5-8.1h6l3.2 2.1l2 2l2.2 3l5.1 9.3l1.5 1.6l1 .2l1-.5l1.5-1.9l4.5-8.4l.5-7.4l6 .1l2.8 2l2 2l2.2 2.9l5.5 9.9l1 1l1 .4l1-.5l1.5-1.8l4.5-8.3l.5-7.7h6l3 2.1l1.9 2l2.1 2.7l5.5 10l1 1l1 .5l1-.4l1.5-1.7l4.5-8.3l.5-7.9h6l3.1 2.1l2 2l2.2 3l5.2 9.5l1 1.1l1 .5l1-.2l1.5-1.6l4.5-8.3l.5-8.1h6l3.2 2.1l2 2l2.2 3l5.1 9.3l1 1.2l1 .6l1-.1l1.5-1.5l5-9.2l.5-7.4l6 .1l2.8 2l2 2l2.2 2.9l5.5 9.9l1 1l1 .4l1-.5l1.5-1.8l4.5-8.3l.5-7.7h6l3 2.1l1.9 2l2.1 2.7l5.5 10l1 1l1 .5l1-.4l1.5-1.7l4.5-8.3l.5-7.9h6l3.1 2.1l2 2l2.2 3l5.2 9.5l1 1.1l1 .5l1-.2l1.5-1.6l4.5-8.3l.5-8.1h6l3.2 2.1l2 2l2.2 3l5.1 9.3l1 1.2l1 .6l1-.1l1.5-1.5l5-9.2l.5-7.4l6 .1l2.8 2l2 2l2.2 2.9l5.5 9.9l1 1l1 .4l1-.5l1.5-1.8l4.5-8.3l.5-7.7h6l3 2.1l1.9 2l2.1 2.7l5.5 10l1 1l1 .5l1-.4l1.5-1.7l4.5-8.3l.5-7.9h6l3.1 2.1l2 2l2.2 3l5.2 9.5l1 1.1l1 .5l1-.2l1.5-1.6l4.5-8.3l.5-8.1l6-.1l3.3 2.2l2.1 2l1.9 2.5l5.2 8.9l1 1l1 .5l1-.2l1.5-1.5l5-8.8l.5-6.9h6l2.5 1.5l2.3 2l2.2 2.5l5 7.7l1 1l1 .3l1-.4l1.5-1.5l5-8.2l.5-5.8l6-.4l5 2l1.8-.2l.7-.6l.5-1.1l.5-3.8l4.7-1l4.7-2.5l4.1-3.4l3.1-4.1l2.5-4.5l1.7-4l1.8-5.5l1.1-5l.7-5.5l.3-5.5l-.1-5.5l-.5-5.5l-1.5-7.6l-2.4-7l-3-6l-3.6-5l-3.5-3l-3.2-2l-3.7-1.5l-3.2-.5l-.6-4l-.4-.9l-1-.7l-1.5-.1l-5 2l-6-.4l-.5-5.8l-5-8.2l-1.5-1.5l-1-.4l-1 .4l-1 .9l-5 7.7l-2.2 2.5l-2.3 2l-2.5 1.5h-6l-.5-6.9l-5-8.8l-1.5-1.5l-1-.2l-1 .5l-1 1.1l-5.2 8.8l-1.9 2.5l-2.1 2l-3.3 2.2h-6l-.5-8.2l-4.5-8.3l-1.5-1.6l-1-.2l-1 .5l-1 1.1l-5.2 9.5l-2.2 3l-2 2l-3.1 2.2h-6l-.5-7.9l-4.5-8.4l-1.5-1.7l-1-.3l-1 .4l-1 1l-5.5 10l-2.1 2.7l-1.9 2l-3 2.1l-6 .1l-.5-7.7l-4.5-8.4l-1.5-1.8l-1-.4l-1 .3l-1 1l-5.5 9.9l-2.2 2.9l-2 2l-2.8 2.1l-6 .1l-.5-7.5l-5-9.2l-1.5-1.5l-1-.1l-1 .6l-1 1.2l-5.1 9.3l-2.2 3l-2 2l-3.2 2.2h-6l-.5-8.2l-4.5-8.3l-1.5-1.6l-1-.2l-1 .5l-1 1.1l-5.2 9.5l-2.2 3l-2 2l-3.1 2.2h-6l-.5-7.9l-4.5-8.4l-1.5-1.7l-1-.3l-1 .4l-1 1l-5.5 10l-2.1 2.7l-1.9 2l-3 2.1l-6 .1l-.5-7.7l-4.5-8.4l-1.5-1.8l-1-.4l-1 .3l-1 1l-5.5 9.9l-2.2 2.9l-2 2l-2.8 2.1l-6 .1l-.5-7.5l-5-9.2l-1.5-1.5l-1-.1l-1 .6l-1 1.2l-5.1 9.3l-2.2 3l-2 2l-3.2 2.2h-6l-.5-8.2l-4.5-8.3l-1.5-1.6l-1-.2l-1 .5l-1 1.1l-5.2 9.5l-2.2 3l-2 2l-3.1 2.2h-6l-.5-7.9l-4.5-8.4l-1.5-1.7l-1-.3l-1 .4l-1 1l-5.5 10l-2.1 2.7l-1.9 2l-3 2.1l-6 .1l-.5-7.7l-4.5-8.4l-1.5-1.8l-1-.4l-1 .3l-1 1l-5.5 9.9l-2.2 2.9l-2 2l-2.8 2.1l-6 .1l-.5-7.5l-4.5-8.4l-1.5-1.9l-1-.5l-1 .2l-1.5 1.6l-5.1 9.3l-2.2 3l-2 2l-3.2 2.2h-6l-.5-8.2l-4.5-8.3l-1.5-1.6l-1-.2l-1 .5l-1 1.1l-5.2 9.5l-2.2 3l-2 2l-3.1 2.2h-6l-.5-7.9l-4.5-8.4l-1.5-1.7l-1-.3l-1 .4l-1 1l-5.5 10l-2.1 2.7l-1.9 2l-3 2.1l-6 .1l-.5-7.7l-4.5-8.4l-1.5-1.8l-1-.4l-1 .3l-1 1l-5.5 9.9l-2.2 2.9l-2 2l-2.8 2.1l-6 .1l-.5-7.5l-5-9.2l-1.5-1.5l-1-.1l-1 .6l-1 1.2l-5.1 9.3l-2.2 3l-2 2l-3.2 2.2h-6v95.3h6l3.2 2.1l3.6 4l5.2 9.5l1 1.5z" fill="#0061FF"/>
<path d="M237.8 943.4h1.2l1.5-1.3l5-7.8l.5-5.8l6 .1l3.2 1.8l3.8 3.6l5.5 8.4l1 .9l1 .2l1-.3l1.5-1.5l4.5-7.2l.5-6h6l3.3 1.9l3.8 3.5l5.4 8.4l1 .9l1 .3l1-.2l1.5-1.5l4.5-7.1l.5-6.2h6l3.5 2l2.3 1.9l1.7 1.9l5 7.8l1 1l1 .4l1-.2l1.5-1.3l4.5-7.1l.5-6.4h6l3.5 1.9l4 3.7l5 7.9l1.5 1.3l1 .2l1-.4l1.5-1.6l4.5-7.2l.5-5.8l6 .1l3.2 1.8l3.8 3.6l5.5 8.4l1 .9l1 .2l1-.3l1.5-1.5l4.5-7.2l.5-6h6l3.3 1.9l3.8 3.5l5.4 8.4l1 .9l1 .3l1-.2l1.5-1.5l4.5-7.1l.5-6.2h6l3.5 2l2.3 1.9l1.7 1.9l5 7.8l1 1l1 .4l1-.2l1.5-1.3l4.5-7.1l.5-6.4h6l3.5 1.9l3.8 3.5l4.7 7.4l1.5 1.7l1 .5l1-.1l1.5-1.3l5-7.8l.5-5.8l6 .1l3.2 1.8l3.8 3.6l5.5 8.4l1 .9l1 .2l1-.3l1.5-1.5l4.5-7.2l.5-6h6l3.3 1.9l3.8 3.5l5.4 8.4l1 .9l1 .3l1-.2l1.5-1.5l4.5-7.1l.5-6.2h6l3.5 2l2.3 1.9l1.7 1.9l5 7.8l1 1l1 .4l1-.2l1.5-1.3l4.5-7.1l.5-6.4h6l3.5 1.9l3.8 3.5l4.7 7.4l1.5 1.7l1 .5l1-.1l1.5-1.3l5-7.8l.5-5.8l6 .1l3.2 1.8l3.8 3.6l5.5 8.4l1 .9l1 .2l1-.3l1.5-1.5l4.5-7.2l.5-6h6l3.3 1.9l3.8 3.5l5.4 8.4l1 .9l1 .3l1-.2l1.5-1.5l4.5-7.1l.5-6.2h6l3.5 2l2.3 1.9l1.7 1.9l5 7.8l1 1l1 .4l1-.2l1.5-1.3l4.5-7.1l.5-6.4h6l3.7 1.9l3.8 3.5l5 7.3l1 .9l1 .4l1-.1l1.5-1.3l5-7.5l.5-5.4h6l3.3 1.7l3.7 3l5 6.5l1 .9l1 .3l1-.3l1.5-1.3l5-6.9l.5-4.6l6-.3l4.5 1.5l1-.2l1.5-1.6l.8-2.5l4.8-1l3.8-2l4.4-3.5l3.2-3.9l2.5-4.2l2-4.5l1.5-4.5l1.4-5.9l.7-4.5l.4-6v-5.5l-.5-5.7l-1.5-7.9l-2-6.5l-3-6.2l-2-3.1l-2-2.5l-3-2.7l-3.8-2.5l-3.7-1.5l-3.2-.5l-1.1-3l-1.7-1.3l-5 1.5l-6-.3l-.5-4.6l-5-6.8l-1.5-1.3l-1-.3l-1 .2l-1 .9l-5 6.5l-3.7 3l-3.3 1.7h-6l-.5-5.4l-5-7.5l-1.5-1.2l-1-.2l-1 .4l-1 .9l-5 7.3l-3.8 3.5l-3.7 1.9h-6l-.5-6.4l-4.5-7.1l-1.5-1.3l-1-.2l-1 .4l-1 1l-5 7.8l-1.7 1.9l-2.3 2l-3.5 1.9h-6l-.5-6.2l-4.5-7.1l-1.5-1.4l-1-.3l-1 .3l-1 .9l-5.4 8.4l-3.8 3.5l-3.3 1.9h-6l-.5-6l-4.5-7.1l-1.5-1.6l-1-.3l-1 .3l-1 .8l-5.5 8.4l-3.8 3.6l-3.2 1.8l-6 .1l-.5-5.8l-5-7.8l-1.5-1.3l-1-.1l-1 .5l-1.5 1.7l-4.7 7.4l-3.8 3.5l-3.5 1.9h-6l-.5-6.4l-4.5-7.1l-1.5-1.3l-1-.2l-1 .4l-1 1l-5 7.8l-1.7 1.9l-2.3 2l-3.5 1.9h-6l-.5-6.2l-4.5-7.1l-1.5-1.4l-1-.3l-1 .3l-1 .9l-5.4 8.4l-3.8 3.5l-3.3 1.9h-6l-.5-6l-4.5-7.1l-1.5-1.6l-1-.3l-1 .3l-1 .8l-5.5 8.4l-3.8 3.6l-3.2 1.8l-6 .1l-.5-5.8l-5-7.8l-1.5-1.3l-1-.1l-1 .5l-1.5 1.7l-4.7 7.4l-3.8 3.5l-3.5 1.9h-6l-.5-6.4l-4.5-7.1l-1.5-1.3l-1-.2l-1 .4l-1 1l-5 7.8l-1.7 1.9l-2.3 2l-3.5 1.9h-6l-.5-6.2l-4.5-7.1l-1.5-1.4l-1-.3l-1 .3l-1 .9l-5.4 8.4l-3.8 3.5l-3.3 1.9h-6l-.5-6l-4.5-7.1l-1.5-1.6l-1-.3l-1 .3l-1 .8l-5.5 8.4l-3.8 3.6l-3.2 1.8l-6 .1l-.5-5.8l-4.5-7.2l-1.5-1.6l-1-.4l-1 .2l-1.5 1.3l-5 7.9l-4 3.7l-3.5 1.9h-6l-.5-6.4l-4.5-7.1l-1.5-1.3l-1-.2l-1 .4l-1 1l-5 7.8l-1.7 1.9l-2.3 2l-3.5 1.9h-6l-.5-6.2l-4.5-7.1l-1.5-1.4l-1-.3l-1 .3l-1 .9l-5.4 8.4l-3.8 3.5l-3.3 1.9h-6l-.5-6l-4.5-7.1l-1.5-1.6l-1-.3l-1 .3l-1 .8l-5.5 8.4l-3.8 3.6l-3.2 1.8l-6 .1l-.5-5.8l-5-7.8l-1.5-1.3l-1-.1l-1 .5l-1.5 1.7l-4.7 7.4l-3.8 3.5l-3.5 1.9h-6v92.8h6l3.5 1.9l4 3.7l4.5 7.2l1 1.3z" fill="#0092FF"/>
<path d="M236.9 938.9l1.1 .5l1-.1l1-.6l1.5-1.6l4-5.4l.5-4.3h6l4 1.8l3 2.2l5.5 7.1l1 .7l1 .2l1-.3l1.5-1.3l4.5-6l.5-4.4h6l4 1.8l3.5 2.6l5 6.6l1 .7l1 .3l1-.2l1.5-1.2l4.5-6l.5-4.6h6l4.5 2l3 2.3l5 6.5l1 .8l1 .4l1-.2l1.5-1.1l4.5-6l.5-4.7h6l4 1.6l3.5 2.5l5.5 7.1l1 .6l1 .2l1-.4l1.5-1.3l4.5-6l.5-4.3h6l4 1.8l3 2.2l5.5 7.1l1 .7l1 .2l1-.3l1.5-1.3l4.5-6l.5-4.4h6l4 1.8l3.5 2.6l5 6.6l1 .7l1 .3l1-.2l1.5-1.2l4.5-6l.5-4.6h6l4.5 2l3 2.3l5 6.5l1 .8l1 .4l1-.2l1.5-1.1l4.5-6l.5-4.7h6l4.5 1.9l3 2.2l4.5 6l1.5 1.5l1 .4l1-.1l1.5-1.1l5-6.5l.5-4.3h6l4 1.8l3 2.2l5.5 7.1l1 .7l1 .2l1-.3l1.5-1.3l4.5-6l.5-4.4h6l4 1.8l3.5 2.6l5 6.6l1 .7l1 .3l1-.2l1.5-1.2l4.5-6l.5-4.6h6l4.5 2l3 2.3l5 6.5l1 .8l1 .4l1-.2l1.5-1.1l4.5-6l.5-4.7h6l4.5 1.9l3 2.2l4.5 6l1.5 1.5l1 .4l1-.1l1.5-1.1l5-6.5l.5-4.3h6l4 1.8l3 2.2l5.5 7.1l1 .7l1 .2l1-.3l1.5-1.3l4.5-6l.5-4.4h6l4 1.8l3.5 2.6l5 6.6l1 .7l1 .3l1-.2l1.5-1.2l4.5-6l.5-4.6h6l4.5 2l3 2.3l5 6.5l1 .8l1 .4l1-.2l1.5-1.1l4.5-6l.5-4.7h6l4 1.5l3.5 2.4l4.5 5.7l1.5 1.3l1 .3l1-.1l1.5-1.1l5-6.3l.5-3.9h6l4 1.5l3 1.9l5 5.5l1 .7l1 .3l1-.3l1.5-1l5-5.8l.5-3.3l6-.3l5 1l.9-1l1-2l3.4-.5l1.5-.5l2.2-1.1l3-1.9l3.4-3l2.5-3l2.4-4l2.1-4.5l1.6-4.5l1.4-5.5l.8-5.5l.5-5.5v-6l-.5-5.5l-1.4-7.6l-2.4-7.5l-3.2-6.5l-2-3l-1.8-2l-3.4-3l-4-2.4l-2.7-1.1l-3.4-.5l-1-2l-.9-1l-5 1l-6-.2l-.5-3.4l-5-5.7l-1.5-1.1l-1-.2l-1 .2l-1 .7l-5 5.5l-3 1.9l-4 1.5l-6 .1l-.5-4l-5-6.3l-1.5-1l-1-.2l-1 .4l-1.5 1.2l-4.5 5.7l-3.5 2.4l-4 1.5h-6l-.5-4.7l-4.5-6l-1.5-1.1l-1-.2l-1 .4l-1 .8l-5 6.6l-3 2.2l-4.5 2h-6l-.5-4.6l-4.5-5.9l-1.5-1.2l-1-.3l-1 .3l-1 .8l-5 6.5l-3.5 2.7l-4 1.7h-6l-.5-4.4l-4.5-6l-1.5-1.3l-1-.3l-1 .3l-1 .7l-5.5 7l-3 2.2l-4 1.8h-6l-.5-4.2l-5-6.6l-1.5-1l-1-.1l-1 .4l-1.5 1.4l-4.5 6l-3 2.2l-4.5 1.9h-6l-.5-4.7l-4.5-6l-1.5-1.1l-1-.2l-1 .4l-1 .8l-5 6.6l-3 2.2l-4.5 2h-6l-.5-4.6l-4.5-5.9l-1.5-1.2l-1-.3l-1 .3l-1 .8l-5 6.5l-3.5 2.7l-4 1.7h-6l-.5-4.4l-4.5-6l-1.5-1.3l-1-.3l-1 .3l-1 .7l-5.5 7l-3 2.2l-4 1.8h-6l-.5-4.2l-5-6.6l-1.5-1l-1-.1l-1 .4l-1.5 1.4l-4.5 6l-3 2.2l-4.5 1.9h-6l-.5-4.7l-4.5-6l-1.5-1.1l-1-.2l-1 .4l-1 .8l-5 6.6l-3 2.2l-4.5 2h-6l-.5-4.6l-4.5-5.9l-1.5-1.2l-1-.3l-1 .3l-1 .8l-5 6.5l-3.5 2.7l-4 1.7h-6l-.5-4.4l-4.5-6l-1.5-1.3l-1-.3l-1 .3l-1 .7l-5.5 7l-3 2.2l-4 1.8h-6l-.5-4.2l-4.5-6.1l-1.5-1.3l-1-.4l-1 .2l-1 .6l-5.5 7.1l-3.5 2.5l-4 1.6h-6l-.5-4.7l-4.5-6l-1.5-1.1l-1-.2l-1 .4l-1 .8l-5 6.6l-3 2.2l-4.5 2h-6l-.5-4.6l-4.5-5.9l-1.5-1.2l-1-.3l-1 .3l-1 .8l-5 6.5l-3.5 2.7l-4 1.7h-6l-.5-4.4l-4.5-6l-1.5-1.3l-1-.3l-1 .3l-1 .7l-5.5 7l-3 2.2l-4 1.8h-6l-.5-4.2l-5-6.6l-1.5-1l-1-.1l-1 .4l-1.5 1.4l-4.5 6l-3 2.2l-4.5 1.9h-6v90.6h6l2.5 .9l2.2 1.1l2.8 2.1l4 5.4z" fill="#00C2FF"/>
<path d="M237.8 935.4l1.7-.2l2.5-2.1l3.5-4l.5-2.8l6 .1l4.9 1.5l2.1 1l5.5 5.8l1 .6l1 .2l1-.3l1.5-1l4.5-4.9l.5-3h6l5.1 1.6l2.4 1.4l5 5.3l2 .9l1-.2l1.5-1l4.5-4.9l.5-3.1h6l5.2 1.6l2.3 1.2l5 5.4l2 1l1-.2l1.5-.9l4.5-4.9l.5-3.2l6.5 .1l4.8 1.5l2.2 1.1l5 5.4l1.5 .9l1 .2l1-.3l1.5-1.1l4.5-5l.5-2.8l6 .1l4.9 1.5l2.1 1l5.5 5.8l1 .6l1 .2l1-.3l1.5-1l4.5-4.9l.5-3h6l5.1 1.6l2.4 1.4l5 5.3l2 .9l1-.2l1.5-1l4.5-4.9l.5-3.1h6l5.2 1.6l2.3 1.2l5 5.4l2 1l1-.2l1.5-.9l4.5-4.9l.5-3.2l6.5 .1l4.8 1.5l2.2 1.1l4.5 5l1.5 1.1l1 .4l1-.1l1.5-.9l5-5.4l.5-2.8l6 .1l4.9 1.5l2.1 1l5.5 5.8l1 .6l1 .2l1-.3l1.5-1l4.5-4.9l.5-3h6l5.1 1.6l2.4 1.4l5 5.3l2 .9l1-.2l1.5-1l4.5-4.9l.5-3.1h6l5.2 1.6l2.3 1.2l5 5.4l2 1l1-.2l1.5-.9l4.5-4.9l.5-3.2l6.5 .1l4.8 1.5l2.2 1.1l4.5 5l1.5 1.1l1 .4l1-.1l1.5-.9l5-5.4l.5-2.8l6 .1l4.9 1.5l2.1 1l5.5 5.8l1 .6l1 .2l1-.3l1.5-1l4.5-4.9l.5-3h6l5.1 1.6l2.4 1.4l5 5.3l2 .9l1-.2l1.5-1l4.5-4.9l.5-3.1h6l5.2 1.6l2.3 1.2l5 5.4l2 1l1-.2l1.5-.9l4.5-4.9l.5-3.2l6.5 .1l5 1.5l2 1l5 5.1l2 .9l1-.1l1.5-.9l5-5.1l.5-2.6h6l4.6 1.2l2.4 1l5.5 4.9l1 .4h1l1-.3l1.5-1.1l4.5-4.2l.5-2.3l6-.1l4.5 .7l.5-.2l1.1-1.8l4.4-.8l4-2l4.1-3.2l3.1-3.5l2.5-4l2.2-4.5l1.4-4l1.5-5.5l1-5.5l.5-6v-6l-.4-6l-1.5-8.1l-2.5-7.5l-1.6-3.5l-2.1-3.5l-1.8-2.5l-2.3-2.5l-3.1-2.5l-3.5-2.1l-2.5-.9l-3.4-.5l-1.1-1.8l-.5-.1l-4.5 .6l-6-.1l-.5-2.3l-5-4.6l-1.5-.8l-1-.2l-2 .8l-5 4.5l-2 .9l-5 1.3h-6l-.5-2.6l-5-5.1l-1.5-.9l-1-.1l-2 .9l-5 5.1l-2 1l-5 1.5l-6.5 .1l-.5-3.2l-4.5-4.9l-1.5-.9l-1-.1l-2 .9l-5 5.4l-2.3 1.2l-5.2 1.6h-6l-.5-3.1l-4.5-4.9l-1.5-1l-1-.2l-2 .9l-5 5.4l-2.4 1.3l-5.1 1.6h-6l-.5-2.9l-4.5-5l-1.5-1l-1-.3l-1 .2l-1 .6l-5.5 5.8l-2.1 1l-4.9 1.6h-6l-.5-2.8l-5-5.4l-1.5-.9h-1l-1 .3l-1.5 1.1l-4.5 5l-2.2 1.1l-4.8 1.5l-6.5 .1l-.5-3.2l-4.5-4.9l-1.5-.9l-1-.1l-2 .9l-5 5.4l-2.3 1.2l-5.2 1.6h-6l-.5-3.1l-4.5-4.9l-1.5-1l-1-.2l-2 .9l-5 5.4l-2.4 1.3l-5.1 1.6h-6l-.5-2.9l-4.5-5l-1.5-1l-1-.3l-1 .2l-1 .6l-5.5 5.8l-2.1 1l-4.9 1.6h-6l-.5-2.8l-5-5.4l-1.5-.9h-1l-1 .3l-1.5 1.1l-4.5 5l-2.2 1.1l-4.8 1.5l-6.5 .1l-.5-3.2l-4.5-4.9l-1.5-.9l-1-.1l-2 .9l-5 5.4l-2.3 1.2l-5.2 1.6h-6l-.5-3.1l-4.5-4.9l-1.5-1l-1-.2l-2 .9l-5 5.4l-2.4 1.3l-5.1 1.6h-6l-.5-2.9l-4.5-5l-1.5-1l-1-.3l-1 .2l-1 .6l-5.5 5.8l-2.1 1l-4.9 1.6h-6l-.5-2.8l-4.5-5l-1.5-1.1l-1-.2l-1 .1l-1.5 .9l-5 5.4l-2.2 1.1l-4.8 1.5l-6.5 .1l-.5-3.2l-4.5-4.9l-1.5-.9l-1-.1l-2 .9l-5 5.4l-2.3 1.2l-5.2 1.6h-6l-.5-3.1l-4.5-4.9l-1.5-1l-1-.2l-2 .9l-5 5.4l-2.4 1.3l-5.1 1.6h-6l-.5-2.9l-4.5-5l-1.5-1l-1-.3l-1 .2l-1 .6l-5.5 5.8l-2.1 1l-4.9 1.6h-6l-.5-2.8l-5-5.4l-1.5-.9h-1l-1 .3l-1.5 1.1l-4.5 5l-2.2 1.1l-4.8 1.5l-6.5 .1v88.4l6.5 .1l4.8 1.5l2.2 1.1l4.5 5z" fill="#00F3FF"/>
<path d="M236.9 931.4l1.6 .3l2-.7l5-4.3l.5-1.4h6l7 1.3l5 4.2l1.5 .8l1 .1l1.5-.4l2-1.3l3.5-3.2l.5-1.5h6l7 1.2l5 4.2l1.5 .8l1 .2l2-.6l2-1.5l3-2.7l.5-1.6h6.5l6.5 1.2l5 4.2l1.5 .8l1 .2l2-.5l2-1.4l3-2.8l.5-1.7h6.5l7 1.3l5 4.3l1.5 .7l1 .1l1.5-.4l2-1.4l3.5-3.2l.5-1.4h6l7 1.3l5 4.2l1.5 .8l1 .1l1.5-.4l2-1.3l3.5-3.2l.5-1.5h6l7 1.2l5 4.2l1.5 .8l1 .2l2-.6l2-1.5l3-2.7l.5-1.6h6.5l6.5 1.2l5 4.2l1.5 .8l1 .2l2-.5l2-1.4l3-2.8l.5-1.7h6.5l7 1.3l5 4.3l1.5 .7l1 .1l1.5-.4l2-1.4l3.5-3.2l.5-1.4h6l7 1.3l5 4.2l1.5 .8l1 .1l1.5-.4l2-1.3l3.5-3.2l.5-1.5h6l7 1.2l5 4.2l1.5 .8l1 .2l2-.6l2-1.5l3-2.7l.5-1.6h6.5l6.5 1.2l5 4.2l1.5 .8l1 .2l2-.5l2-1.4l3-2.8l.5-1.7h6.5l7 1.3l4.5 4l1.5 .9l1 .2l1.5-.2l2-1.2l4-3.6l.5-1.4h6l7 1.3l5 4.2l1.5 .8l1 .1l1.5-.4l2-1.3l3.5-3.2l.5-1.5h6l7 1.2l5 4.2l1.5 .8l1 .2l2-.6l2-1.5l3-2.7l.5-1.6h6.5l6.5 1.2l5 4.2l1.5 .8l1 .2l2-.5l2-1.4l3-2.8l.5-1.7h6.5l7 1.3l4.5 3.7l2.5 1l1.5-.2l2-1.2l4-3.4l.5-1.3h6l7 1.1l5 3.6l1.5 .6h1l1.5-.4l2-1.3l3.5-2.6l.5-1.1l6-.1l4.5 .3l1-1l3.3-.4l2.7-.9l4.7-3.1l4.4-4.5l2.4-3.5l2.1-4l1.9-5l1.6-5.5l1-5.5l.5-6l.1-6l-.4-5.5l-1.6-9.1l-2.7-8l-3.4-6.5l-1.9-2.5l-2.3-2.5l-3-2.5l-3.3-2l-2.8-1l-3.3-.4l-1-1l-4.5 .3h-6l-.5-1.2l-3.5-2.6l-2-1.3l-1.5-.4h-1l-1.5 .6l-5 3.6l-7 1.1h-6l-.5-1.3l-4-3.4l-2-1.2l-1.5-.2l-2.5 1l-4.5 3.8l-7 1.2h-6.5l-.5-1.7l-3-2.7l-2-1.5l-2-.5l-1 .2l-1.5 .9l-5 4.1l-6.5 1.2h-6.5l-.5-1.6l-3-2.7l-2-1.5l-2-.6l-1 .2l-1.5 .8l-5 4.2l-7 1.2h-6l-.5-1.5l-3.5-3.1l-2-1.4l-1.5-.4l-1 .1l-1.5 .8l-5 4.2l-7 1.3h-6l-.5-1.4l-4-3.5l-2-1.3l-1.5-.2l-1 .3l-1.5 .9l-4.5 3.9l-7 1.3h-6.5l-.5-1.7l-3-2.7l-2-1.5l-2-.5l-1 .2l-1.5 .9l-5 4.1l-6.5 1.2h-6.5l-.5-1.6l-3-2.7l-2-1.5l-2-.6l-1 .2l-1.5 .8l-5 4.2l-7 1.2h-6l-.5-1.5l-3.5-3.1l-2-1.4l-1.5-.4l-1 .1l-1.5 .8l-5 4.2l-7 1.3h-6l-.5-1.4l-3.5-3.1l-2-1.5l-1.5-.4l-1 .1l-1.5 .7l-5 4.3l-7 1.3h-6.5l-.5-1.7l-3-2.7l-2-1.5l-2-.5l-1 .2l-1.5 .9l-5 4.1l-6.5 1.2h-6.5l-.5-1.6l-3-2.7l-2-1.5l-2-.6l-1 .2l-1.5 .8l-5 4.2l-7 1.2h-6l-.5-1.5l-3.5-3.1l-2-1.4l-1.5-.4l-1 .1l-1.5 .8l-5 4.2l-7 1.3h-6l-.5-1.4l-3.5-3.1l-2-1.5l-1.5-.4l-1 .1l-1.5 .7l-5 4.3l-7 1.3h-6.5l-.5-1.7l-3-2.7l-2-1.5l-2-.5l-1 .2l-1.5 .9l-5 4.1l-6.5 1.2h-6.5l-.5-1.6l-3-2.7l-2-1.5l-2-.6l-1 .2l-1.5 .8l-5 4.2l-7 1.2h-6l-.5-1.5l-3.5-3.1l-2-1.4l-1.5-.4l-1 .1l-1.5 .8l-5 4.2l-7 1.3h-6l-.5-1.4l-4-3.5l-2-1.3l-1.5-.2l-1 .3l-1.5 .9l-4.5 3.9l-7 1.3h-6.5v86.4h6.5l7 1.3l4 3.6z" fill="#00FFDB"/>
<path d="M237 927.9h2.5l2.5-1.2l4-2.8v-1.5h1.5l.5 .5h2.5l.5 .5h2.5l.5 .5h3l.5 .5h1.7l4.8 3.1l2.5 .6l2.5-.7l4.6-3h13.7l4.7 3l2.5 .7l2.5-.6l4.7-3.1h13.8l4.5 2.9l2.5 .8l2.5-.6l4.7-3.1h13.8l5 3.1l2.5 .6l2.5-.8l4.5-2.9l6.5-.2l7 .1l5 3.2l2.5 .6l2.5-.7l5-3.3l5.5-.1l7.5 .1l5 3.3l2.5 .7l1.5-.2l1.5-.7l4.5-3.2l13 .1l5 3.2l2.5 .8l1.5-.2l1.5-.6l4-2.7l.5-.6l13.5 .1l.2 .3l4.3 2.9l1.5 .6l1.5 .2l2.5-.8l5-3.3l13 .1l4.5 3.1l1.5 .7l1.5 .2l1.5-.3l1.5-.7l4.5-3.1l13 .1l5 3.3l2.5 .7l1.5-.2l1.5-.7l4.5-3.2h13l5 3.3l2.5 .8l1.5-.2l1.5-.6l4-2.7l.5-.6h13.5l.2 .4l3.8 2.6l1.5 .7l1.5 .4l1.5-.2l1.5-.6l5-3.3h13l.2 .4l4.3 2.8l1.5 .7l1.5 .2l1.5-.3l1.5-.7l4.5-3.1h13l4.5 3.1l1.5 .7l1.5 .3l1.5-.2l1.5-.7l4-2.6l.5-.6h13l5 3.3l2.5 .8l1.5-.2l1.5-.6l4-2.7l.5-.6h13.5l.2 .4l4.3 2.7l1.5 .6l1.5 .2l2.5-.8l5-3.1h13l.2 .4l4.3 2.4l1.5 .6l1.5 .1l3-.9l4.5-2.7h14l.5-.4l.7-.1l2.8-2.2l6-3.9l2.5-2.8l2-3l2.5-5.1l1.5-4.1l1.5-5.6l1-5.9l.5-6.5v-4.4l-.5-6.5l-1.5-8l-2.5-7.6l-3-6l-3.5-4.5l-6.5-4.2l-2.8-2.3h-.7l-.5-.4l-14-.1l-4.5-2.6l-3-1l-1.5 .2l-1.5 .5l-4.3 2.4l-.2 .4l-13 .1l-5-3.2l-2.5-.8l-1.5 .2l-1.5 .6l-4.3 2.7l-.2 .4l-13.5 .1l-.5-.7l-4-2.6l-1.5-.7l-1.5-.2l-2.5 .8l-5 3.3l-13 .1l-.5-.6l-4-2.7l-1.5-.6l-1.5-.3l-1.5 .3l-1.5 .7l-4.5 3.1l-13 .1l-4.5-3.2l-1.5-.7l-1.5-.3l-1.5 .3l-1.5 .6l-4.3 2.8l-.2 .4l-13 .1l-5-3.4l-1.5-.6l-1.5-.2l-1.5 .4l-1.5 .8l-3.8 2.5l-.2 .4h-13.5l-.5-.6l-4-2.6l-1.5-.7l-1.5-.2l-2.5 .8l-5 3.3h-13l-4.5-3.2l-1.5-.6l-1.5-.3l-2.5 .7l-5 3.4h-13l-4.5-3.1l-1.5-.7l-1.5-.3l-1.5 .3l-1.5 .6l-4.5 3.2h-13l-5-3.3l-2.5-.8l-1.5 .2l-1.5 .7l-4.3 2.8l-.2 .4h-13.5l-.5-.6l-4-2.6l-1.5-.7l-1.5-.2l-2.5 .8l-5 3.2l-13 .1l-4.5-3.2l-1.5-.6l-1.5-.3l-2.5 .7l-5 3.3l-7.5 .1l-5.5-.1l-5-3.3l-2.5-.7l-2.5 .7l-5 3.1l-7 .1l-6.5-.2l-4.5-2.9l-2.5-.8l-2.5 .6l-5 3.2l-13.8-.1l-4.7-3.1l-2.5-.6l-2.5 .8l-4.5 2.9h-13.8l-4.7-3l-2.5-.7l-2.5 .7l-4.7 3h-13.7l-4.6-3l-2.5-.7l-2.5 .7l-4.8 3h-1.7l-.5 .5h-3l-.5 .5h-2.5l-.5 .5h-2.5l-.5 .5h-1.5v-1.5l-.5-.5l-4.5-2.9l-1.5-.6l-1.5-.2l-2.5 .9l-4.3 2.8l-.2 4.5h-2l-.5 .5h-3.5l-2.5-1.5h-.5l-.5-.5h-1l-.5-.5h-.5l-.5-.5l-1.5-.5v81.6h.5l2.5-1.5h1l2.5-1.5h.5l.5-.5h3.5l.5 .5h2l.2 4.5l3.8 2.6z" fill="#00FFAA"/>
<path d="M264.9 924.4l1.6 .2l7.5-.3h13l7.5 .3l7.5-.4h13l8 .4l7-.6l13.5-.4l7.5 1l3.5-.5l4-1.2l13-.9l4.3 1.4l1.6 1l1.6 .2l1.5-.2l1.6-1.5l4.4-2.1l5.5-.4l7.5-.2l7.5 2.6l7.5-2.9l13.5-.4l5 1.6l2 .3l2-.3l5.5-2l13.5-.2l5.5 1.8l2 .2l2-.4l5.5-1.7l13-.1l5 1.6l2.5 .4l2-.4l5.5-1.7l13-.1l5.5 1.6l2 .2l2-.3l5.5-1.7l13.5-.1l4.5 1.4l2.5 .3l2.5-.3l5-1.6l13.5-.1l4.5 1.3l2.5 .3l2.5-.3l5.5-1.5l13-.1l5 1.3l2.5 .3l2.5-.4l5-1.4l13-.2l5 1.3l2.5 .2l3-.4l4.5-1.3l13.5-.2l4 1l3 .3l3-.4l4.5-1.2l13-.3l7.5 1.2l3-.3l5-1.1l13-.1l5.5 1.1h3.5l5.5-1.2l6-.3l3.5-.8l2.6-1.3l2.4-2.8l3.4-7.7l2.4-8.5l1-9l-.2-9.5l-.9-6.5l-1.9-7.1l-3.1-7.5l-2.5-3.5l-2.2-1.4l-2.5-.8l-3-.5l-4.5-.1l-6.5-1.4l-3.5 .2l-5 1.1l-13-.1l-5.5-1.3l-3-.1l-6.5 1.2l-13.5-.3l-4.5-1.3l-3-.4l-3 .3l-4 1l-13.5-.2l-4.5-1.3l-3-.4l-2.5 .3l-5 1.2l-13-.2l-5-1.4l-2.5-.3l-2.5 .2l-5 1.4l-13-.2l-5.5-1.5l-2.5-.3l-2.5 .4l-4.5 1.3l-13.5-.2l-5-1.6l-2.5-.3l-2.5 .4l-4.5 1.3l-13.5-.1l-5.5-1.7l-2-.3l-2 .3l-5.5 1.6l-13-.2l-5.5-1.7l-2-.3l-2.5 .4l-5 1.5l-13-.1l-5.5-1.7l-2-.4l-2 .3l-5.5 1.7l-13.5-.1l-5.5-2l-2-.4l-2 .3l-5 1.6l-13.5-.4l-7.5-2.9l-7.5 2.6l-7.5-.1l-5.5-.5l-4.4-2.1l-1.6-1.5l-1.5-.2l-1.6 .2l-1.6 1l-4.3 1.4l-13-.9l-4-1.2l-3.5-.5l-7.5 1l-13.5-.3l-7-.6l-8 .4l-13-.1l-7.5-.4l-7.5 .4l-21-.3l-8.5 .3l-.5 .4l-2.5 .1l-.5 .4l-3 .1l-.5 .4l-2.5 .1l-.5 .4l-2.5 .1l-.5 .4h-3l-.5 .5h-2.5l-.5 .5h-2.5l-.5 .5h-2.5l-1 .5l-2.5 .1l-.5 .4h-2.5h-1l-3.5-2h-1l-.5-.5l-2.5-1v81.5l2.5-1.1l.5-.4l1-.1l3.5-2h3.5l.5 .5h2.5l1 .5h2.5l.5 .5l2.5 .1l.5 .4h2.5l.5 .5h3l.5 .5h2.5l.5 .4l2.5 .1l.5 .4l3 .2l.5 .3l2.5 .1l.5 .4zM405.5 924.4h3.1l-.6-.6l-1-.2zM433.6 924.4h3.1l-.7-.4l-1-.2zM461.8 924.4h3.1l-1.4-.5l-1 .1zM406 840.3l1.5 .3l1.1-.8h-3.1zM434.5 840.3h1.3l.9-.5h-3.1zM462.9 840.3h1.1l.9-.5h-3.1z" fill="#00FF79"/>
<path d="M257.4 923.9l1.1 .2l7 .2l57-.2l4.4-.2l3.1-.6l13.5-.8l6.5 .6l3.5-.4l5-1.5l13-1.4l4 .3l3-.1l8-1.8l5.5-.6l7.5-.2l7.5 .4l7.5-.9l13.5-.7l7 .1l7.5-.8l13.5-.2l7.5 .4l7.5-.6l13-.2l7.5 .4l7.5-.6l13-.3l7.5 .4l7.5-.6l13-.3l7.5 .3l7.5-.6l13.5-.3l7.5 .3l7.5-.6l13-.2l7.5 .1l7.5-.5l13-.3l7.5 .1l7.5-.5l20-.4l8-.7l13.5-.6l37.5-.7l3.5-.6l2.2-1.3l1.8-2.5l1.8-4l1.7-5.7l1.2-6.3l.4-6l-.3-6.5l-.8-5l-1.1-4.6l-1.5-4.5l-1.9-3.9l-1.3-1.6l-1.5-1l-2.2-.6l-3-.4l-36.5-.6l-13.5-.6l-8-.6l-20-.5l-7.5-.5l-7.5 .1l-13-.3l-7.5-.5l-7.5 .2l-13-.3l-7.5-.5l-7.5 .2l-13.5-.3l-7.5-.5l-7.5 .2l-13-.2l-7.5-.6l-7.5 .3l-13-.3l-7.5-.5l-7.5 .3l-13-.1l-7.5-.6l-7.5 .4l-13.5-.3l-7.5-.8l-7 .1l-13.5-.6l-7.5-1l-7.5 .5l-7.5-.3l-5.5-.6l-8-1.8l-3-.1l-4 .3l-13-1.4l-4.5-1.3l-3-.6h-3l-4.5 .6l-13.5-.8l-3.1-.6l-3.4-.2h-65l-1.5 .4l-2.5 .2l-.5 .3l-2.5 .1l-1 .4l-2.5 .2l-.5 .3l-2.5 .1l-.5 .4h-2.5l-1 .5l-2.5 .1l-.5 .4h-2.5l-.5 .5l-6 .6l-.5 .4h-2.5h-1l-2.5-1.5l-2-.6l-.5-.5l-2.5-1v81.4l2.5-1l.5-.5l2-.6l2.5-1.4l1-.1l2.5 .1l.5 .3l2.5 .1l1 .5l2.5 .1l.5 .4l2.5 .1l.5 .4l2.5 .1l1 .4h2.5l.5 .4l2.5 .1l.5 .4l2.5 .1l1 .4l2.5 .1l.5 .4z" fill="#00FF49"/>
<path d="M257.7 923.9l7.3 .3l29.5-.1l21-.6l7 .1l3.5-.3l4-.9l13.5-1.3l4 .3l3-.1l8-1.9l13-1.8l7-.4l8-1.5l5.5-.8l16-.3l34.5-2.5l77-1.6l112-3.9l26-1.5l22.5-1.8l19.5-1.2l3.5-.6l2.5-.9l1.6-1.2l1.7-2.5l1.8-4l1.4-5l.5-4.5l-.2-4.5l-.6-4l-1.2-3.9l-1.7-3.7l-1.7-2.5l-1.6-1.2l-1.8-.8l-6.2-.8l-17-1l-23-1.9l-26-1.5l-112-3.9l-77-1.6l-34.5-2.5l-16-.3l-5.5-.7l-8-1.6l-7-.4l-13-1.7l-8-2l-3-.1l-4 .3l-13.5-1.2l-4-1l-3.5-.3l-7 .2l-20.5-.7h-35.5l-11 1.6l-1 .4l-2.5 .2l-.5 .3l-5.5 .5l-1 .4l-2.5 .2l-.5 .3l-2.5 .2l-1 .4l-2.5 .1l-.5 .3l-2.5 .2l-1-.2l-2.5-1.4l-2-.6l-.5-.5l-2.5-1.1v81.4l2.5-1.1l.5-.4l2-.7l2.5-1.4l1-.1l2.5 .1l1 .4l5.5 .6l.5 .3l2.5 .2l.5 .3l2.5 .2l1 .4h2.5l.5 .4l2.5 .1l1 .4l5.5 .6z" fill="#00FF18"/>
<path d="M258.6 923.9l8.9 .2l19.5-.4l9.5 .2l19-1.2l6.5 .1l3.5-.5l4.5-1.2l13.5-1.6l6.5-.2l8.5-2l13-2l7-.8l13.5-2.2l17.5-.7l33-2.9l50-1.5l55-2.3l57.5-3l24.5-1.6l14.5-1.3l16.6-2.1l25.9-4.7l9.5-1.4l1.5-1.7l1-2.2l.6-3v-3.5l-.4-2.5l-.7-1.9l-1.5-2.1l-1-.6l-9-1.3l-29.2-5.2l-11.3-1.4l-12-1.1l-32-2.1l-81.5-4.1l-78-2.6l-33-2.9l-17.5-.7l-13.5-2.2l-7-.8l-13-2l-8.5-2l-6.5-.2l-13.5-1.6l-5-1.3l-4-.4l-5.5 .1l-19-1.2l-9.5 .2l-27-.3l-14.5 2.1l-1 .4l-5.5 .6l-1 .3l-8.5 1.1l-1 .4l-2.5 .2l-1-.2l-1.5-.9l-3-1.2l-.5-.5l-2.5-1.1v81.4l2.5-1.1l.5-.5l3-1.1l1.5-1l1-.1l2.5 .1l1 .4l5.5 .6l1 .4l8.5 1.1l1 .3l2 .1z" fill="#18FF00"/>
<path d="M260.4 923.9h10.5l3.1-.3l13-.4l8.5 .3l6.5-.8l8-.3l5.5-.7l6-.2l3.7-.6l4.8-1.3l13.5-2l6-.5l9-2l33-5.4l15.5-.9l11-1l23-2.7l15-.9l37-1.4l27.5-1.7l36.9-2.7l37.2-3.5l22.5-3l8-1.5l6.1-1.5l4.4-1.5l3.7-2l1.5-1.5l.4-2l-.2-1l-.6-1l-1.8-1.5l-3-1.5l-4.1-1.4l-11.5-2.6l-16.8-2.5l-25.7-2.8l-33-2.8l-49.5-3.2l-52.5-2.4l-24.5-2.8l-11.5-1l-14.5-.8l-33.5-5.4l-9-2.1l-6-.5l-13.5-1.9l-4.8-1.4l-4.2-.7h-5.5l-5.5-.7l-8-.3l-6.5-.9l-8.5 .3l-13-.3l-3.1-.4h-10.5l-34.4 5.1l-1-.2l-7.5-3.7v81.3l7.5-3.7l1-.3z" fill="#49FF00"/>
<path d="M259.5 923.4l8.5 .3l6-.7l13-.5l7.5 .3l3.8-.4l3.7-.8l8.5-.5l5-.9l6.5-.5l8-2.1l13.5-2.2l6-.8l13.5-2.9l29-5l15-1.1l11.5-1.2l16.5-2.8l7.5-.9l52-3.6l30.1-3.2l16.1-2.5l13.1-3l4.4-1.5l3-1.5l1.7-1.5l.4-1l.1-1l-.5-1.5l-1.7-1.5l-3-1.5l-2.8-1l-9.6-2.5l-14.2-2.5l-15-2l-20.1-2.1l-54-3.7l-7.5-1l-16.5-2.8l-11.5-1.2l-15-1.1l-29-5l-13.5-2.9l-6-.7l-13.5-2.3l-8-2.1l-6.5-.5l-5-.9l-8.5-.5l-3.7-.8l-3.8-.3l-7.5 .3l-13-.6l-5.5-.6l-4.5-.1l-4.5 .3l-33.5 4.7l-8.5-4v81.2l8.5-4z" fill="#79FF00"/>
<path d="M260.5 922.9l7 .2l6.5-.9l13-.8l4.5 .2l3.5-.1l7-1.3l8-.7l5.5-1.1l4.2-.5l10.8-2.7l19-3.4l17-3.7l25-4.6l15.5-1.4l11-1.4l6-1.2l10-2.8l5.5-1.2l36.2-5.1l8.9-1.5l6.3-1.5l4.1-1.5l1.7-1l1.1-1l.5-1l.1-1l-.3-1l-.8-1l-2.3-1.5l-4.1-1.5l-6.3-1.5l-8.9-1.5l-36.2-5.2l-5.5-1.2l-10-2.8l-6-1.1l-11-1.5l-15.5-1.4l-28-5.2l-14-3.1l-19.5-3.5l-8.5-2.2l-6-.9l-5-1.1l-8.5-.7l-7.5-1.3l-7.5 .2l-13-.9l-4.5-.8l-4.5-.1l-4.5 .2l-34.5 4.4l-8.5-4.2v81.2l8.5-4.2z" fill="#AAFF00"/>
<path d="M217.5 922.4v.3l.5-.1l2.5-1.6l5.5-2.6l14.5 1.5l5.5 .3l16 1.9l4 .2l4-.4l4-.8l13-1.2l7.5-.1l7.5-1.5l8.5-1l11-2.5l8.5-2.3l19.5-4l17.5-4l24.5-4.7l17-2.2l11.5-2.4l4-1.3l3-1.5l6.1-4l2.2-2l1.2-1.5l.7-1.5l.1-2l-.5-1.5l-1.1-1.5l-4.6-4l-6-3.5l-5.6-2l-11.5-2.4l-16.5-2.1l-24.5-4.7l-17.5-4l-19.5-3.9l-8.5-2.4l-11-2.5l-8.5-.9l-7.5-1.6h-7.5l-13-1.2l-4-.9l-4-.4l-4 .2l-16 1.9l-5.5 .3l-14.5 1.6l-8.5-4.4z" fill="#DBFF00"/>
<path d="M217.5 922.4v.2l.5-.1l8-4.5l14 1l6 .1l16.5 1.7l4 .1l3.5-.5l4-1l13-1.6l7-.4l8-1.7l8.5-1.3l25-6.9l27.5-6.4l29-6.3l9-1.7l6.9-1.7l5.4-2l4.1-2.5l1.9-2.5l.4-1.5l-.1-2l-1.3-2.5l-2.3-2l-3.9-2l-5.9-2l-41.2-8.8l-28-6.5l-7-1.7l-20-5.7l-8-1.1l-8-1.8l-7-.4l-13-1.6l-4-1l-3.5-.5l-4 .1l-16.5 1.7l-6 .1l-14 1l-8.5-4.6z" fill="#FFF300"/>
<path d="M217.5 922.4v.2l.5-.1l1-.6l7-4.4l20 .1l16.5 1.2h4.5l2.5-.4l4.5-1.2l19.5-3.1l16.5-3.7l20-6.4l42.2-11.6l9.5-3l4.7-2l3.1-2l1.5-2l.2-2l-1.2-2l-1.8-1.5l-2.8-1.5l-5.1-2l-9.8-3l-40.5-11.1l-20-6.5l-16.5-3.7l-19.5-3.1l-4.5-1.2l-2.5-.4h-4.5l-16.5 1.2l-20 .1l-6.1-3.9l-2.4-1.2z" fill="#FFC200"/>
<path d="M217.5 922.4v.2l.5-.2l1.7-1l6.3-4.6l20-1.3h8l9 .5l5-.3l24-5.8l18-5.6l25.8-10.9l7.8-4l2.7-2l2-2.5l.5-2.5l-.3-2.5l-1.2-2l-2.2-2l-3.1-2l-4-2l-27.5-11.8l-16.8-5.3l-26.2-6.3l-5-.2l-8.5 .4h-8l-20-1.3l-5.5-4.1l-3-1.7z" fill="#FF9200"/>
<path d="M217.5 922.4h.5l2.2-1.5l5.8-5l5-1.1l15-2.3l7-.5l11-.2l4-.4l3.5-.9l12.9-4.6l9.2-4l5.2-3l4.9-3.5l3.1-3l2.2-3l1.2-3l.5-3.5l-.2-4l-1.2-3.5l-1.6-2.5l-1.8-2l-2.8-2.5l-3.5-2.6l-8-4.5l-8.5-3.5l-15.1-5l-4-.4l-11-.1l-7-.5l-15-2.4l-4.5-1l-1-.5l-5.9-5.1l-2.1-1.1z" fill="#FF6100"/>
<path d="M217.5 922.4h.4l2.1-1.5l6-6.2l1.5-.6l13-4.5l7.5-2.2l6.5-1.1l10-.9l3.5-.6l4.3-1.9l6.7-4.5l3.5-3l2.5-3l1.6-3l.9-3l.3-5l-.4-4l-1.3-3.5l-1.9-3l-2.2-2.5l-3.7-3.1l-5.2-3.5l-3.1-1.6l-4-1.2l-11-1l-6.5-1.1l-5-1.3l-12.5-4.1l-5-2l-6-6.2l-2.5-1.6z" fill="#FF3100"/>
<path d="M217.5 922.4l1.1-.5l1.7-1.5l5.7-7.3l14.2-9.2l22.7-16l1.1-1.1l1-1.4l.5-3l-.1-2l-.4-1.5l-1-1.5l-1.1-1l-22.7-16.1l-14.2-9.2l-5.7-7.3l-1.7-1.5l-1.1-.6z" fill="#FF0000"/>
</g>
<path d="M217.5 10.6V36.7L219.5 38.7H228.9L230.9 36.7V10.6M217.5 151.2V125.1L219.5 123.1H228.9L230.9 125.1V151.2M245.6 10.6V36.7L247.6 38.7H257.0L259.0 36.7V10.6M245.6 151.2V125.1L247.6 123.1H257.0L259.0 125.1V151.2M273.8 10.6V36.7L275.8 38.7H285.1L287.1 36.7V10.6M273.8 151.2V125.1L275.8 123.1H285.1L287.1 125.1V151.2M301.9 10.6V36.7L303.9 38.7H313.2L315.2 36.7V10.6M301.9 151.2V125.1L303.9 123.1H313.2L315.2 125.1V151.2M330.0 10.6V36.7L332.0 38.7H341.4L343.4 36.7V10.6M330.0 151.2V125.1L332.0 123.1H341.4L343.4 125.1V151.2M358.1 10.6V36.7L360.1 38.7H369.5L371.5 36.7V10.6M358.1 151.2V125.1L360.1 123.1H369.5L371.5 125.1V151.2M386.2 10.6V36.7L388.2 38.7H397.6L399.6 36.7V10.6M386.2 151.2V125.1L388.2 123.1H397.6L399.6 125.1V151.2M414.4 10.6V36.7L416.4 38.7H425.7L427.7 36.7V10.6M414.4 151.2V125.1L416.4 123.1H425.7L427.7 125.1V151.2M442.5 10.6V36.7L444.5 38.7H453.9L455.9 36.7V10.6M442.5 151.2V125.1L444.5 123.1H453.9L455.9 125.1V151.2M470.6 10.6V36.7L472.6 38.7H482.0L484.0 36.7V10.6M470.6 151.2V125.1L472.6 123.1H482.0L484.0 125.1V151.2M498.8 10.6V36.7L500.8 38.7H510.1L512.1 36.7V10.6M498.8 151.2V125.1L500.8 123.1H510.1L512.1 125.1V151.2M526.9 10.6V36.7L528.9 38.7H538.2L540.2 36.7V10.6M526.9 151.2V125.1L528.9 123.1H538.2L540.2 125.1V151.2M555.0 10.6V36.7L557.0 38.7H566.4L568.4 36.7V10.6M555.0 151.2V125.1L557.0 123.1H566.4L568.4 125.1V151.2M583.1 10.6V36.7L585.1 38.7H594.5L596.5 36.7V10.6M583.1 151.2V125.1L585.1 123.1H594.5L596.5 125.1V151.2M611.2 10.6V36.7L613.2 38.7H622.6L624.6 36.7V10.6M611.2 151.2V125.1L613.2 123.1H622.6L624.6 125.1V151.2M639.4 10.6V36.7L641.4 38.7H650.7L652.7 36.7V10.6M639.4 151.2V125.1L641.4 123.1H650.7L652.7 125.1V151.2M667.5 10.6V36.7L669.5 38.7H678.9L680.9 36.7V10.6M667.5 151.2V125.1L669.5 123.1H678.9L680.9 125.1V151.2M695.6 10.6V36.7L697.6 38.7H707.0L709.0 36.7V10.6M695.6 151.2V125.1L697.6 123.1H707.0L709.0 125.1V151.2M723.8 10.6V36.7L725.8 38.7H735.1L737.1 36.7V10.6M723.8 151.2V125.1L725.8 123.1H735.1L737.1 125.1V151.2M751.9 10.6V36.7L753.9 38.7H763.2L765.2 36.7V10.6M751.9 151.2V125.1L753.9 123.1H763.2L765.2 125.1V151.2" fill="#0000FF" stroke="#000" stroke-width="1.2"/>
<rect x="217.5" y="10.6" width="562.5" height="140.6" fill="none" stroke="#000" stroke-width="1.5"/>
<path d="M213.2 151.2H217.5M215.1 137.1H217.5M215.1 123.1H217.5M215.1 109.0H217.5M215.1 94.9H217.5M213.2 80.9H217.5M215.1 66.8H217.5M215.1 52.8H217.5M215.1 38.7H217.5M215.1 24.6H217.5M213.2 10.6H217.5M217.5 151.2V155.5M273.8 151.2V155.5M330.0 151.2V155.5M386.2 151.2V155.5M442.5 151.2V155.5M498.8 151.2V155.5M555.0 151.2V155.5M611.2 151.2V155.5M667.5 151.2V155.5M723.8 151.2V155.5M780.0 151.2V155.5" stroke="#000" stroke-width="1.1" fill="none"/>
<text class="tk" x="198.5" y="156.5" text-anchor="end">0</text>
<text class="tk" x="198.5" y="86.2" text-anchor="end">25</text>
<text class="tk" x="198.5" y="15.9" text-anchor="end">50</text>
<text class="tk" x="216.5" y="168.6" text-anchor="middle">0</text>
<text class="tk" x="272.8" y="168.6" text-anchor="middle">20</text>
<text class="tk" x="329.0" y="168.6" text-anchor="middle">40</text>
<text class="tk" x="385.2" y="168.6" text-anchor="middle">60</text>
<text class="tk" x="441.5" y="168.6" text-anchor="middle">80</text>
<text class="tk" x="497.8" y="168.6" text-anchor="middle">100</text>
<text class="tk" x="554.0" y="168.6" text-anchor="middle">120</text>
<text class="tk" x="610.2" y="168.6" text-anchor="middle">140</text>
<text class="tk" x="666.5" y="168.6" text-anchor="middle">160</text>
<text class="tk" x="722.8" y="168.6" text-anchor="middle">180</text>
<text class="tk" x="779.0" y="168.6" text-anchor="middle">200</text>
<text class="ax" transform="translate(495.7 187.5) scale(1 1.18)" text-anchor="middle">X</text>
<text class="ax" transform="translate(165.6 82.4) rotate(-90) scale(1 1.25)" text-anchor="middle">Y</text>
<text class="lb" x="3.0" y="158.1">(a) |Gt| = 0.4</text>
<path d="M217.5 39.7L231.1 41.8L232.2 41.6L233.1 41.0L233.7 40.1L234.0 39.0L234.0 18.3L234.3 16.7L235.2 15.3L236.6 14.3L238.3 14.0L240.0 14.3L241.4 15.3L242.3 16.7L242.7 18.3L242.7 39.0L242.9 40.1L243.5 41.0L244.4 41.6L245.5 41.8L259.3 41.8L260.3 41.6L261.3 41.0L261.9 40.1L262.1 39.0L262.1 18.3L262.4 16.7L263.4 15.3L264.8 14.3L266.4 14.0L268.1 14.3L269.5 15.3L270.5 16.7L270.8 18.3L270.8 39.0L271.0 40.1L271.6 41.0L272.5 41.6L273.6 41.8L287.4 41.8L288.5 41.6L289.4 41.0L290.0 40.1L290.2 39.0L290.2 18.3L290.5 16.7L291.5 15.3L292.9 14.3L294.6 14.0L296.2 14.3L297.6 15.3L298.6 16.7L298.9 18.3L298.9 39.0L299.1 40.1L299.7 41.0L300.7 41.6L301.7 41.8L315.5 41.8L316.6 41.6L317.5 41.0L318.1 40.1L318.3 39.0L318.3 18.3L318.7 16.7L319.6 15.3L321.0 14.3L322.7 14.0L324.4 14.3L325.8 15.3L326.7 16.7L327.0 18.3L327.0 39.0L327.3 40.1L327.9 41.0L328.8 41.6L329.9 41.8L343.6 41.8L344.7 41.6L345.6 41.0L346.2 40.1L346.5 39.0L346.5 18.3L346.8 16.7L347.7 15.3L349.1 14.3L350.8 14.0L352.5 14.3L353.9 15.3L354.8 16.7L355.2 18.3L355.2 39.0L355.4 40.1L356.0 41.0L356.9 41.6L358.0 41.8L371.9 41.8L373.0 41.6L373.9 41.0L374.5 40.1L374.7 39.0L374.7 18.2L375.0 16.6L376.0 15.2L377.3 14.3L378.9 14.0L380.6 14.3L381.9 15.2L382.8 16.6L383.2 18.2L383.2 39.0L383.4 40.1L384.0 41.0L384.9 41.6L386.0 41.8L401.2 42.1L403.5 41.5L406.5 36.0L407.6 36.0L410.7 41.5L413.0 42.4L426.5 42.8L430.7 42.9L432.1 45.8L432.6 48.8L432.9 51.7L433.2 54.6L433.4 57.5L433.6 60.5L433.7 63.4L433.8 66.3L433.9 69.2L434.0 72.1L434.0 75.1L434.1 78.0L434.1 80.9L434.1 83.8L434.0 86.8L434.0 89.7L433.9 92.6L433.8 95.5L433.7 98.4L433.6 101.4L433.4 104.3L433.2 107.2L432.9 110.1L432.6 113.1L432.1 116.0L430.7 118.9L426.5 119.0L413.0 119.5L410.7 120.3L407.6 125.8L406.5 125.8L403.5 120.3L401.2 119.7L386.0 120.0L384.9 120.2L384.0 120.8L383.4 121.7L383.2 122.8L383.2 143.6L382.8 145.2L381.9 146.6L380.6 147.5L378.9 147.8L377.3 147.5L376.0 146.6L375.0 145.2L374.7 143.6L374.7 122.8L374.5 121.7L373.9 120.8L373.0 120.2L371.9 120.0L358.0 120.0L356.9 120.2L356.0 120.8L355.4 121.7L355.2 122.8L355.2 143.5L354.8 145.2L353.9 146.6L352.5 147.5L350.8 147.8L349.1 147.5L347.7 146.6L346.8 145.2L346.5 143.5L346.5 122.8L346.2 121.7L345.6 120.8L344.7 120.2L343.6 120.0L329.9 120.0L328.8 120.2L327.9 120.8L327.3 121.7L327.0 122.8L327.0 143.5L326.7 145.2L325.8 146.6L324.4 147.5L322.7 147.8L321.0 147.5L319.6 146.6L318.7 145.2L318.3 143.5L318.3 122.8L318.1 121.7L317.5 120.8L316.6 120.2L315.5 120.0L301.7 120.0L300.7 120.2L299.7 120.8L299.1 121.7L298.9 122.8L298.9 143.5L298.6 145.2L297.6 146.6L296.2 147.5L294.6 147.8L292.9 147.5L291.5 146.6L290.5 145.2L290.2 143.5L290.2 122.8L290.0 121.7L289.4 120.8L288.5 120.2L287.4 120.0L273.6 120.0L272.5 120.2L271.6 120.8L271.0 121.7L270.8 122.8L270.8 143.5L270.5 145.2L269.5 146.6L268.1 147.5L266.4 147.8L264.8 147.5L263.4 146.6L262.4 145.2L262.1 143.5L262.1 122.8L261.9 121.7L261.3 120.8L260.3 120.2L259.3 120.0L245.5 120.0L244.4 120.2L243.5 120.8L242.9 121.7L242.7 122.8L242.7 143.5L242.3 145.2L241.4 146.6L240.0 147.5L238.3 147.8L236.6 147.5L235.2 146.6L234.3 145.2L234.0 143.5L234.0 122.8L233.7 121.7L233.1 120.8L232.2 120.2L231.1 120.0L217.5 122.2" fill="none" stroke="#000" stroke-width="1.25" stroke-linejoin="round"/>
<path d="M217.5 208.2V234.3L219.5 236.3H228.9L230.9 234.3V208.2M217.5 348.8V322.7L219.5 320.7H228.9L230.9 322.7V348.8M245.6 208.2V234.3L247.6 236.3H257.0L259.0 234.3V208.2M245.6 348.8V322.7L247.6 320.7H257.0L259.0 322.7V348.8M273.8 208.2V234.3L275.8 236.3H285.1L287.1 234.3V208.2M273.8 348.8V322.7L275.8 320.7H285.1L287.1 322.7V348.8M301.9 208.2V234.3L303.9 236.3H313.2L315.2 234.3V208.2M301.9 348.8V322.7L303.9 320.7H313.2L315.2 322.7V348.8M330.0 208.2V234.3L332.0 236.3H341.4L343.4 234.3V208.2M330.0 348.8V322.7L332.0 320.7H341.4L343.4 322.7V348.8M358.1 208.2V234.3L360.1 236.3H369.5L371.5 234.3V208.2M358.1 348.8V322.7L360.1 320.7H369.5L371.5 322.7V348.8M386.2 208.2V234.3L388.2 236.3H397.6L399.6 234.3V208.2M386.2 348.8V322.7L388.2 320.7H397.6L399.6 322.7V348.8M414.4 208.2V234.3L416.4 236.3H425.7L427.7 234.3V208.2M414.4 348.8V322.7L416.4 320.7H425.7L427.7 322.7V348.8M442.5 208.2V234.3L444.5 236.3H453.9L455.9 234.3V208.2M442.5 348.8V322.7L444.5 320.7H453.9L455.9 322.7V348.8M470.6 208.2V234.3L472.6 236.3H482.0L484.0 234.3V208.2M470.6 348.8V322.7L472.6 320.7H482.0L484.0 322.7V348.8M498.8 208.2V234.3L500.8 236.3H510.1L512.1 234.3V208.2M498.8 348.8V322.7L500.8 320.7H510.1L512.1 322.7V348.8M526.9 208.2V234.3L528.9 236.3H538.2L540.2 234.3V208.2M526.9 348.8V322.7L528.9 320.7H538.2L540.2 322.7V348.8M555.0 208.2V234.3L557.0 236.3H566.4L568.4 234.3V208.2M555.0 348.8V322.7L557.0 320.7H566.4L568.4 322.7V348.8M583.1 208.2V234.3L585.1 236.3H594.5L596.5 234.3V208.2M583.1 348.8V322.7L585.1 320.7H594.5L596.5 322.7V348.8M611.2 208.2V234.3L613.2 236.3H622.6L624.6 234.3V208.2M611.2 348.8V322.7L613.2 320.7H622.6L624.6 322.7V348.8M639.4 208.2V234.3L641.4 236.3H650.7L652.7 234.3V208.2M639.4 348.8V322.7L641.4 320.7H650.7L652.7 322.7V348.8M667.5 208.2V234.3L669.5 236.3H678.9L680.9 234.3V208.2M667.5 348.8V322.7L669.5 320.7H678.9L680.9 322.7V348.8M695.6 208.2V234.3L697.6 236.3H707.0L709.0 234.3V208.2M695.6 348.8V322.7L697.6 320.7H707.0L709.0 322.7V348.8M723.8 208.2V234.3L725.8 236.3H735.1L737.1 234.3V208.2M723.8 348.8V322.7L725.8 320.7H735.1L737.1 322.7V348.8M751.9 208.2V234.3L753.9 236.3H763.2L765.2 234.3V208.2M751.9 348.8V322.7L753.9 320.7H763.2L765.2 322.7V348.8" fill="#0000FF" stroke="#000" stroke-width="1.2"/>
<rect x="217.5" y="208.2" width="562.5" height="140.6" fill="none" stroke="#000" stroke-width="1.5"/>
<path d="M213.2 348.8H217.5M215.1 334.7H217.5M215.1 320.7H217.5M215.1 306.6H217.5M215.1 292.5H217.5M213.2 278.5H217.5M215.1 264.4H217.5M215.1 250.4H217.5M215.1 236.3H217.5M215.1 222.2H217.5M213.2 208.2H217.5M217.5 348.8V353.1M228.8 348.8V351.0M240.0 348.8V351.0M251.2 348.8V351.0M262.5 348.8V351.0M273.8 348.8V353.1M285.0 348.8V351.0M296.2 348.8V351.0M307.5 348.8V351.0M318.8 348.8V351.0M330.0 348.8V353.1M341.2 348.8V351.0M352.5 348.8V351.0M363.8 348.8V351.0M375.0 348.8V351.0M386.2 348.8V353.1M397.5 348.8V351.0M408.8 348.8V351.0M420.0 348.8V351.0M431.2 348.8V351.0M442.5 348.8V353.1M453.8 348.8V351.0M465.0 348.8V351.0M476.2 348.8V351.0M487.5 348.8V351.0M498.8 348.8V353.1M510.0 348.8V351.0M521.2 348.8V351.0M532.5 348.8V351.0M543.8 348.8V351.0M555.0 348.8V353.1M566.2 348.8V351.0M577.5 348.8V351.0M588.8 348.8V351.0M600.0 348.8V351.0M611.2 348.8V353.1M622.5 348.8V351.0M633.8 348.8V351.0M645.0 348.8V351.0M656.2 348.8V351.0M667.5 348.8V353.1M678.8 348.8V351.0M690.0 348.8V351.0M701.2 348.8V351.0M712.5 348.8V351.0M723.8 348.8V353.1M735.0 348.8V351.0M746.2 348.8V351.0M757.5 348.8V351.0M768.8 348.8V351.0M780.0 348.8V353.1" stroke="#000" stroke-width="1.1" fill="none"/>
<text class="tk" x="198.5" y="354.1" text-anchor="end">0</text>
<text class="tk" x="198.5" y="283.8" text-anchor="end">25</text>
<text class="tk" x="198.5" y="213.5" text-anchor="end">50</text>
<text class="tk" x="216.5" y="366.2" text-anchor="middle">0</text>
<text class="tk" x="272.8" y="366.2" text-anchor="middle">20</text>
<text class="tk" x="329.0" y="366.2" text-anchor="middle">40</text>
<text class="tk" x="385.2" y="366.2" text-anchor="middle">60</text>
<text class="tk" x="441.5" y="366.2" text-anchor="middle">80</text>
<text class="tk" x="497.8" y="366.2" text-anchor="middle">100</text>
<text class="tk" x="554.0" y="366.2" text-anchor="middle">120</text>
<text class="tk" x="610.2" y="366.2" text-anchor="middle">140</text>
<text class="tk" x="666.5" y="366.2" text-anchor="middle">160</text>
<text class="tk" x="722.8" y="366.2" text-anchor="middle">180</text>
<text class="tk" x="779.0" y="366.2" text-anchor="middle">200</text>
<text class="ax" transform="translate(495.7 385.1) scale(1 1.18)" text-anchor="middle">X</text>
<text class="ax" transform="translate(165.6 280.0) rotate(-90) scale(1 1.25)" text-anchor="middle">Y</text>
<text class="lb" x="3.0" y="355.7">(b) |Gt| = 0.3</text>
<path d="M217.5 237.6L232.1 240.6L233.2 240.3L234.1 239.7L234.7 238.8L234.9 237.7L234.9 215.8L235.2 214.5L235.9 213.4L237.0 212.7L238.3 212.4L239.6 212.7L240.7 213.4L241.4 214.5L241.7 215.8L241.7 237.7L241.9 238.8L242.5 239.7L243.4 240.3L244.5 240.6L260.2 240.6L261.3 240.4L262.2 239.8L262.8 238.9L263.1 237.8L263.1 215.8L263.3 214.5L264.1 213.4L265.1 212.7L266.4 212.4L267.7 212.7L268.8 213.4L269.6 214.5L269.8 215.8L269.8 237.8L270.0 238.9L270.6 239.8L271.5 240.4L272.6 240.6L288.4 240.6L289.5 240.4L290.4 239.8L291.0 238.9L291.2 237.8L291.2 215.8L291.4 214.5L292.2 213.4L293.3 212.7L294.6 212.4L295.9 212.7L296.9 213.4L297.7 214.5L297.9 215.8L297.9 237.8L298.2 238.9L298.8 239.8L299.7 240.4L300.8 240.6L316.5 240.7L317.6 240.5L318.5 239.8L319.1 238.9L319.3 237.9L319.3 215.8L319.6 214.5L320.3 213.4L321.4 212.7L322.7 212.4L324.0 212.7L325.1 213.4L325.8 214.5L326.1 215.8L326.1 237.9L326.3 238.9L326.9 239.8L327.8 240.5L328.9 240.7L344.6 240.7L345.7 240.5L346.6 239.9L347.2 239.0L347.4 237.9L347.4 215.8L347.7 214.5L348.4 213.4L349.5 212.7L350.8 212.4L352.1 212.7L353.2 213.4L353.9 214.5L354.2 215.8L354.2 237.9L354.4 239.0L355.0 239.9L355.9 240.5L357.0 240.7L372.8 240.7L373.8 240.5L374.7 239.9L375.3 239.0L375.6 237.9L375.6 215.8L375.8 214.5L376.6 213.4L377.6 212.7L378.9 212.4L380.2 212.7L381.3 213.4L382.1 214.5L382.3 215.8L382.3 237.9L382.5 239.0L383.1 239.9L384.0 240.5L385.1 240.7L401.2 240.8L402.2 240.6L403.2 240.0L403.8 239.1L404.0 238.0L404.0 215.5L404.2 214.3L404.9 213.3L405.9 212.7L407.1 212.4L408.2 212.7L409.3 213.3L409.9 214.3L410.2 215.5L410.2 238.0L410.4 239.1L411.0 240.0L411.9 240.6L412.9 240.8L432.5 240.8L433.0 240.7L433.4 240.4L433.7 240.0L433.8 239.5L433.8 213.5L433.9 213.0L434.2 212.5L434.6 212.2L435.2 212.1L435.7 212.2L436.2 212.5L436.5 213.0L436.6 213.5L436.6 239.5L436.7 240.0L437.0 240.4L437.4 240.7L437.9 240.8L457.7 241.0L459.9 240.3L462.8 234.6L463.9 234.6L466.7 240.3L468.9 241.1L493.4 241.4L497.6 241.4L501.1 244.2L502.3 247.1L503.2 250.0L503.9 252.8L504.4 255.7L504.9 258.5L505.2 261.4L505.5 264.2L505.7 267.1L505.9 269.9L506.0 272.8L506.0 275.7L506.1 278.5L506.0 281.4L506.0 284.2L505.9 287.1L505.7 289.9L505.5 292.8L505.2 295.6L504.9 298.5L504.4 301.4L503.9 304.2L503.2 307.1L502.3 309.9L501.1 312.8L497.6 315.6L493.4 315.7L468.9 315.9L466.7 316.8L463.9 322.5L462.8 322.5L459.9 316.8L457.7 316.0L437.9 316.2L437.4 316.3L437.0 316.6L436.7 317.0L436.6 317.5L436.6 343.5L436.5 344.0L436.2 344.5L435.7 344.8L435.2 344.9L434.6 344.8L434.2 344.5L433.9 344.0L433.8 343.5L433.8 317.5L433.7 317.0L433.4 316.6L433.0 316.3L432.5 316.2L412.9 316.2L411.9 316.5L411.0 317.1L410.4 318.0L410.2 319.0L410.2 341.5L409.9 342.7L409.3 343.7L408.2 344.4L407.1 344.6L405.9 344.4L404.9 343.7L404.2 342.7L404.0 341.5L404.0 319.0L403.8 318.0L403.2 317.1L402.2 316.5L401.2 316.2L385.1 316.3L384.0 316.5L383.1 317.1L382.5 318.0L382.3 319.1L382.3 341.2L382.1 342.5L381.3 343.6L380.2 344.3L378.9 344.6L377.6 344.3L376.6 343.6L375.8 342.5L375.6 341.2L375.6 319.1L375.3 318.0L374.7 317.1L373.8 316.5L372.8 316.3L357.0 316.3L355.9 316.5L355.0 317.1L354.4 318.1L354.2 319.1L354.2 341.2L353.9 342.5L353.2 343.6L352.1 344.3L350.8 344.6L349.5 344.3L348.4 343.6L347.7 342.5L347.4 341.2L347.4 319.1L347.2 318.1L346.6 317.1L345.7 316.5L344.6 316.3L328.9 316.4L327.8 316.6L326.9 317.2L326.3 318.1L326.1 319.2L326.1 341.2L325.8 342.5L325.1 343.6L324.0 344.3L322.7 344.6L321.4 344.3L320.3 343.6L319.6 342.5L319.3 341.2L319.3 319.2L319.1 318.1L318.5 317.2L317.6 316.6L316.5 316.4L300.8 316.4L299.7 316.6L298.8 317.2L298.2 318.1L297.9 319.2L297.9 341.2L297.7 342.5L296.9 343.6L295.9 344.3L294.6 344.6L293.3 344.3L292.2 343.6L291.4 342.5L291.2 341.2L291.2 319.2L291.0 318.1L290.4 317.2L289.5 316.6L288.4 316.4L272.6 316.4L271.5 316.6L270.6 317.3L270.0 318.2L269.8 319.2L269.8 341.2L269.6 342.5L268.8 343.6L267.7 344.3L266.4 344.6L265.1 344.3L264.1 343.6L263.3 342.5L263.1 341.2L263.1 319.2L262.8 318.2L262.2 317.3L261.3 316.6L260.2 316.4L244.5 316.5L243.4 316.7L242.5 317.3L241.9 318.2L241.7 319.3L241.7 341.2L241.4 342.5L240.7 343.6L239.6 344.3L238.3 344.6L237.0 344.3L235.9 343.6L235.2 342.5L234.9 341.2L234.9 319.3L234.7 318.2L234.1 317.3L233.2 316.7L232.1 316.5L217.5 319.4" fill="none" stroke="#000" stroke-width="1.25" stroke-linejoin="round"/>
<path d="M217.5 408.7V434.8L219.5 436.8H228.9L230.9 434.8V408.7M217.5 549.3V523.2L219.5 521.2H228.9L230.9 523.2V549.3M245.6 408.7V434.8L247.6 436.8H257.0L259.0 434.8V408.7M245.6 549.3V523.2L247.6 521.2H257.0L259.0 523.2V549.3M273.8 408.7V434.8L275.8 436.8H285.1L287.1 434.8V408.7M273.8 549.3V523.2L275.8 521.2H285.1L287.1 523.2V549.3M301.9 408.7V434.8L303.9 436.8H313.2L315.2 434.8V408.7M301.9 549.3V523.2L303.9 521.2H313.2L315.2 523.2V549.3M330.0 408.7V434.8L332.0 436.8H341.4L343.4 434.8V408.7M330.0 549.3V523.2L332.0 521.2H341.4L343.4 523.2V549.3M358.1 408.7V434.8L360.1 436.8H369.5L371.5 434.8V408.7M358.1 549.3V523.2L360.1 521.2H369.5L371.5 523.2V549.3M386.2 408.7V434.8L388.2 436.8H397.6L399.6 434.8V408.7M386.2 549.3V523.2L388.2 521.2H397.6L399.6 523.2V549.3M414.4 408.7V434.8L416.4 436.8H425.7L427.7 434.8V408.7M414.4 549.3V523.2L416.4 521.2H425.7L427.7 523.2V549.3M442.5 408.7V434.8L444.5 436.8H453.9L455.9 434.8V408.7M442.5 549.3V523.2L444.5 521.2H453.9L455.9 523.2V549.3M470.6 408.7V434.8L472.6 436.8H482.0L484.0 434.8V408.7M470.6 549.3V523.2L472.6 521.2H482.0L484.0 523.2V549.3M498.8 408.7V434.8L500.8 436.8H510.1L512.1 434.8V408.7M498.8 549.3V523.2L500.8 521.2H510.1L512.1 523.2V549.3M526.9 408.7V434.8L528.9 436.8H538.2L540.2 434.8V408.7M526.9 549.3V523.2L528.9 521.2H538.2L540.2 523.2V549.3M555.0 408.7V434.8L557.0 436.8H566.4L568.4 434.8V408.7M555.0 549.3V523.2L557.0 521.2H566.4L568.4 523.2V549.3M583.1 408.7V434.8L585.1 436.8H594.5L596.5 434.8V408.7M583.1 549.3V523.2L585.1 521.2H594.5L596.5 523.2V549.3M611.2 408.7V434.8L613.2 436.8H622.6L624.6 434.8V408.7M611.2 549.3V523.2L613.2 521.2H622.6L624.6 523.2V549.3M639.4 408.7V434.8L641.4 436.8H650.7L652.7 434.8V408.7M639.4 549.3V523.2L641.4 521.2H650.7L652.7 523.2V549.3M667.5 408.7V434.8L669.5 436.8H678.9L680.9 434.8V408.7M667.5 549.3V523.2L669.5 521.2H678.9L680.9 523.2V549.3M695.6 408.7V434.8L697.6 436.8H707.0L709.0 434.8V408.7M695.6 549.3V523.2L697.6 521.2H707.0L709.0 523.2V549.3M723.8 408.7V434.8L725.8 436.8H735.1L737.1 434.8V408.7M723.8 549.3V523.2L725.8 521.2H735.1L737.1 523.2V549.3M751.9 408.7V434.8L753.9 436.8H763.2L765.2 434.8V408.7M751.9 549.3V523.2L753.9 521.2H763.2L765.2 523.2V549.3" fill="#0000FF" stroke="#000" stroke-width="1.2"/>
<rect x="217.5" y="408.7" width="562.5" height="140.6" fill="none" stroke="#000" stroke-width="1.5"/>
<path d="M213.2 549.3H217.5M215.1 535.2H217.5M215.1 521.2H217.5M215.1 507.1H217.5M215.1 493.0H217.5M213.2 479.0H217.5M215.1 464.9H217.5M215.1 450.9H217.5M215.1 436.8H217.5M215.1 422.7H217.5M213.2 408.7H217.5M217.5 549.3V553.6M228.8 549.3V551.5M240.0 549.3V551.5M251.2 549.3V551.5M262.5 549.3V551.5M273.8 549.3V553.6M285.0 549.3V551.5M296.2 549.3V551.5M307.5 549.3V551.5M318.8 549.3V551.5M330.0 549.3V553.6M341.2 549.3V551.5M352.5 549.3V551.5M363.8 549.3V551.5M375.0 549.3V551.5M386.2 549.3V553.6M397.5 549.3V551.5M408.8 549.3V551.5M420.0 549.3V551.5M431.2 549.3V551.5M442.5 549.3V553.6M453.8 549.3V551.5M465.0 549.3V551.5M476.2 549.3V551.5M487.5 549.3V551.5M498.8 549.3V553.6M510.0 549.3V551.5M521.2 549.3V551.5M532.5 549.3V551.5M543.8 549.3V551.5M555.0 549.3V553.6M566.2 549.3V551.5M577.5 549.3V551.5M588.8 549.3V551.5M600.0 549.3V551.5M611.2 549.3V553.6M622.5 549.3V551.5M633.8 549.3V551.5M645.0 549.3V551.5M656.2 549.3V551.5M667.5 549.3V553.6M678.8 549.3V551.5M690.0 549.3V551.5M701.2 549.3V551.5M712.5 549.3V551.5M723.8 549.3V553.6M735.0 549.3V551.5M746.2 549.3V551.5M757.5 549.3V551.5M768.8 549.3V551.5M780.0 549.3V553.6" stroke="#000" stroke-width="1.1" fill="none"/>
<text class="tk" x="198.5" y="554.6" text-anchor="end">0</text>
<text class="tk" x="198.5" y="484.3" text-anchor="end">25</text>
<text class="tk" x="198.5" y="414.0" text-anchor="end">50</text>
<text class="tk" x="216.5" y="566.7" text-anchor="middle">0</text>
<text class="tk" x="272.8" y="566.7" text-anchor="middle">20</text>
<text class="tk" x="329.0" y="566.7" text-anchor="middle">40</text>
<text class="tk" x="385.2" y="566.7" text-anchor="middle">60</text>
<text class="tk" x="441.5" y="566.7" text-anchor="middle">80</text>
<text class="tk" x="497.8" y="566.7" text-anchor="middle">100</text>
<text class="tk" x="554.0" y="566.7" text-anchor="middle">120</text>
<text class="tk" x="610.2" y="566.7" text-anchor="middle">140</text>
<text class="tk" x="666.5" y="566.7" text-anchor="middle">160</text>
<text class="tk" x="722.8" y="566.7" text-anchor="middle">180</text>
<text class="tk" x="779.0" y="566.7" text-anchor="middle">200</text>
<text class="ax" transform="translate(495.7 585.6) scale(1 1.18)" text-anchor="middle">X</text>
<text class="ax" transform="translate(165.6 480.5) rotate(-90) scale(1 1.25)" text-anchor="middle">Y</text>
<text class="lb" x="3.0" y="556.2">(c) |Gt| = 0.2</text>
<path d="M217.5 438.1L232.4 441.1L233.5 440.9L234.4 440.3L235.0 439.3L235.2 438.3L235.2 416.7L235.5 415.5L236.1 414.5L237.1 413.9L238.3 413.6L239.5 413.9L240.5 414.5L241.2 415.5L241.4 416.7L241.4 438.3L241.6 439.3L242.2 440.3L243.1 440.9L244.2 441.1L260.6 441.1L261.6 440.9L262.5 440.3L263.1 439.4L263.3 438.3L263.3 416.7L263.6 415.5L264.2 414.5L265.3 413.9L266.4 413.6L267.6 413.9L268.6 414.5L269.3 415.5L269.5 416.7L269.5 438.3L269.7 439.4L270.3 440.3L271.3 440.9L272.3 441.1L288.7 441.2L289.7 441.0L290.7 440.4L291.3 439.5L291.5 438.4L291.5 416.7L291.7 415.5L292.4 414.5L293.4 413.9L294.6 413.6L295.7 413.9L296.8 414.5L297.4 415.5L297.7 416.7L297.7 438.4L297.9 439.5L298.5 440.4L299.4 441.0L300.4 441.2L316.8 441.2L317.9 441.0L318.8 440.4L319.4 439.5L319.6 438.4L319.6 416.7L319.8 415.5L320.5 414.5L321.5 413.9L322.7 413.6L323.9 413.9L324.9 414.5L325.5 415.5L325.8 416.7L325.8 438.4L326.0 439.5L326.6 440.4L327.5 441.0L328.6 441.2L344.9 441.3L346.0 441.1L346.9 440.5L347.5 439.6L347.7 438.5L347.7 416.7L348.0 415.5L348.6 414.5L349.6 413.9L350.8 413.6L352.0 413.9L353.0 414.5L353.7 415.5L353.9 416.7L353.9 438.5L354.1 439.6L354.7 440.5L355.6 441.1L356.7 441.3L373.1 441.3L374.1 441.1L375.0 440.5L375.6 439.6L375.8 438.6L375.8 416.7L376.1 415.5L376.7 414.5L377.8 413.9L378.9 413.6L380.1 413.9L381.1 414.5L381.8 415.5L382.0 416.7L382.0 438.6L382.2 439.6L382.8 440.5L383.8 441.1L384.8 441.3L401.2 441.4L402.2 441.2L403.2 440.6L403.8 439.7L404.0 438.6L404.0 416.7L404.2 415.5L404.9 414.5L405.9 413.9L407.1 413.6L408.2 413.9L409.3 414.5L409.9 415.5L410.2 416.7L410.2 438.6L410.4 439.7L411.0 440.6L411.9 441.2L412.9 441.4L429.8 441.5L430.8 441.3L431.6 440.7L432.2 439.9L432.4 438.9L432.4 416.4L432.6 415.4L433.2 414.4L434.1 413.8L435.2 413.6L436.3 413.8L437.2 414.4L437.8 415.4L438.0 416.4L438.0 438.9L438.2 439.9L438.7 440.7L439.6 441.3L440.5 441.5L460.6 441.5L461.1 441.4L461.5 441.1L461.8 440.7L461.9 440.2L461.9 414.6L462.0 414.1L462.3 413.6L462.8 413.3L463.3 413.2L463.9 413.3L464.3 413.6L464.6 414.1L464.7 414.6L464.7 440.2L464.8 440.7L465.1 441.1L465.5 441.4L466.0 441.5L486.1 441.7L488.3 440.8L490.9 433.9L492.0 433.9L494.6 440.8L496.8 441.9L513.9 442.0L516.2 441.3L519.0 435.6L520.1 435.6L522.9 441.3L525.2 442.2L546.8 442.4L551.1 442.4L557.0 445.3L559.1 448.1L560.6 450.9L561.7 453.7L562.7 456.5L563.4 459.3L564.0 462.1L564.5 464.9L564.8 467.8L565.1 470.6L565.3 473.4L565.4 476.2L565.4 479.0L565.4 481.8L565.3 484.6L565.1 487.5L564.8 490.3L564.5 493.1L564.0 495.9L563.4 498.7L562.7 501.5L561.7 504.3L560.6 507.1L559.1 510.0L557.0 512.8L551.1 515.6L546.8 515.6L525.2 515.9L522.9 516.7L520.1 522.4L519.0 522.4L516.2 516.7L513.9 516.0L496.8 516.2L494.6 517.2L492.0 524.1L490.9 524.1L488.3 517.2L486.1 516.3L466.0 516.5L465.5 516.6L465.1 516.9L464.8 517.3L464.7 517.8L464.7 543.4L464.6 544.0L464.3 544.4L463.9 544.7L463.3 544.8L462.8 544.7L462.3 544.4L462.0 544.0L461.9 543.4L461.9 517.8L461.8 517.3L461.5 516.9L461.1 516.6L460.6 516.5L440.5 516.6L439.6 516.8L438.7 517.3L438.2 518.1L438.0 519.1L438.0 541.6L437.8 542.7L437.2 543.6L436.3 544.2L435.2 544.4L434.1 544.2L433.2 543.6L432.6 542.7L432.4 541.6L432.4 519.1L432.2 518.1L431.6 517.3L430.8 516.8L429.8 516.6L412.9 516.6L411.9 516.8L411.0 517.4L410.4 518.3L410.2 519.4L410.2 541.3L409.9 542.5L409.3 543.5L408.2 544.2L407.1 544.4L405.9 544.2L404.9 543.5L404.2 542.5L404.0 541.3L404.0 519.4L403.8 518.3L403.2 517.4L402.2 516.8L401.2 516.6L384.8 516.7L383.8 516.9L382.8 517.5L382.2 518.4L382.0 519.5L382.0 541.3L381.8 542.5L381.1 543.5L380.1 544.2L378.9 544.4L377.8 544.2L376.7 543.5L376.1 542.5L375.8 541.3L375.8 519.5L375.6 518.4L375.0 517.5L374.1 516.9L373.1 516.7L356.7 516.7L355.6 516.9L354.7 517.6L354.1 518.5L353.9 519.5L353.9 541.3L353.7 542.5L353.0 543.5L352.0 544.2L350.8 544.4L349.6 544.2L348.6 543.5L348.0 542.5L347.7 541.3L347.7 519.5L347.5 518.5L346.9 517.6L346.0 516.9L344.9 516.7L328.6 516.8L327.5 517.0L326.6 517.6L326.0 518.5L325.8 519.6L325.8 541.3L325.5 542.5L324.9 543.5L323.9 544.2L322.7 544.4L321.5 544.2L320.5 543.5L319.8 542.5L319.6 541.3L319.6 519.6L319.4 518.5L318.8 517.6L317.9 517.0L316.8 516.8L300.4 516.8L299.4 517.1L298.5 517.7L297.9 518.6L297.7 519.6L297.7 541.3L297.4 542.5L296.8 543.5L295.7 544.2L294.6 544.4L293.4 544.2L292.4 543.5L291.7 542.5L291.5 541.3L291.5 519.6L291.3 518.6L290.7 517.7L289.7 517.1L288.7 516.8L272.3 516.9L271.3 517.1L270.3 517.7L269.7 518.6L269.5 519.7L269.5 541.3L269.3 542.5L268.6 543.5L267.6 544.2L266.4 544.4L265.3 544.2L264.2 543.5L263.6 542.5L263.3 541.3L263.3 519.7L263.1 518.6L262.5 517.7L261.6 517.1L260.6 516.9L244.2 517.0L243.1 517.2L242.2 517.8L241.6 518.7L241.4 519.7L241.4 541.3L241.2 542.5L240.5 543.5L239.5 544.2L238.3 544.4L237.1 544.2L236.1 543.5L235.5 542.5L235.2 541.3L235.2 519.7L235.0 518.7L234.4 517.8L233.5 517.2L232.4 517.0L217.5 519.9" fill="none" stroke="#000" stroke-width="1.25" stroke-linejoin="round"/>
<path d="M217.5 609.5V635.6L219.5 637.6H228.9L230.9 635.6V609.5M217.5 750.1V724.0L219.5 722.0H228.9L230.9 724.0V750.1M245.6 609.5V635.6L247.6 637.6H257.0L259.0 635.6V609.5M245.6 750.1V724.0L247.6 722.0H257.0L259.0 724.0V750.1M273.8 609.5V635.6L275.8 637.6H285.1L287.1 635.6V609.5M273.8 750.1V724.0L275.8 722.0H285.1L287.1 724.0V750.1M301.9 609.5V635.6L303.9 637.6H313.2L315.2 635.6V609.5M301.9 750.1V724.0L303.9 722.0H313.2L315.2 724.0V750.1M330.0 609.5V635.6L332.0 637.6H341.4L343.4 635.6V609.5M330.0 750.1V724.0L332.0 722.0H341.4L343.4 724.0V750.1M358.1 609.5V635.6L360.1 637.6H369.5L371.5 635.6V609.5M358.1 750.1V724.0L360.1 722.0H369.5L371.5 724.0V750.1M386.2 609.5V635.6L388.2 637.6H397.6L399.6 635.6V609.5M386.2 750.1V724.0L388.2 722.0H397.6L399.6 724.0V750.1M414.4 609.5V635.6L416.4 637.6H425.7L427.7 635.6V609.5M414.4 750.1V724.0L416.4 722.0H425.7L427.7 724.0V750.1M442.5 609.5V635.6L444.5 637.6H453.9L455.9 635.6V609.5M442.5 750.1V724.0L444.5 722.0H453.9L455.9 724.0V750.1M470.6 609.5V635.6L472.6 637.6H482.0L484.0 635.6V609.5M470.6 750.1V724.0L472.6 722.0H482.0L484.0 724.0V750.1M498.8 609.5V635.6L500.8 637.6H510.1L512.1 635.6V609.5M498.8 750.1V724.0L500.8 722.0H510.1L512.1 724.0V750.1M526.9 609.5V635.6L528.9 637.6H538.2L540.2 635.6V609.5M526.9 750.1V724.0L528.9 722.0H538.2L540.2 724.0V750.1M555.0 609.5V635.6L557.0 637.6H566.4L568.4 635.6V609.5M555.0 750.1V724.0L557.0 722.0H566.4L568.4 724.0V750.1M583.1 609.5V635.6L585.1 637.6H594.5L596.5 635.6V609.5M583.1 750.1V724.0L585.1 722.0H594.5L596.5 724.0V750.1M611.2 609.5V635.6L613.2 637.6H622.6L624.6 635.6V609.5M611.2 750.1V724.0L613.2 722.0H622.6L624.6 724.0V750.1M639.4 609.5V635.6L641.4 637.6H650.7L652.7 635.6V609.5M639.4 750.1V724.0L641.4 722.0H650.7L652.7 724.0V750.1M667.5 609.5V635.6L669.5 637.6H678.9L680.9 635.6V609.5M667.5 750.1V724.0L669.5 722.0H678.9L680.9 724.0V750.1M695.6 609.5V635.6L697.6 637.6H707.0L709.0 635.6V609.5M695.6 750.1V724.0L697.6 722.0H707.0L709.0 724.0V750.1M723.8 609.5V635.6L725.8 637.6H735.1L737.1 635.6V609.5M723.8 750.1V724.0L725.8 722.0H735.1L737.1 724.0V750.1M751.9 609.5V635.6L753.9 637.6H763.2L765.2 635.6V609.5M751.9 750.1V724.0L753.9 722.0H763.2L765.2 724.0V750.1" fill="#0000FF" stroke="#000" stroke-width="1.2"/>
<rect x="217.5" y="609.5" width="562.5" height="140.6" fill="none" stroke="#000" stroke-width="1.5"/>
<path d="M213.2 750.1H217.5M215.1 736.0H217.5M215.1 722.0H217.5M215.1 707.9H217.5M215.1 693.9H217.5M213.2 679.8H217.5M215.1 665.7H217.5M215.1 651.7H217.5M215.1 637.6H217.5M215.1 623.5H217.5M213.2 609.5H217.5M217.5 750.1V754.4M273.8 750.1V754.4M330.0 750.1V754.4M386.2 750.1V754.4M442.5 750.1V754.4M498.8 750.1V754.4M555.0 750.1V754.4M611.2 750.1V754.4M667.5 750.1V754.4M723.8 750.1V754.4M780.0 750.1V754.4" stroke="#000" stroke-width="1.1" fill="none"/>
<text class="tk" x="198.5" y="755.4" text-anchor="end">0</text>
<text class="tk" x="198.5" y="685.1" text-anchor="end">25</text>
<text class="tk" x="198.5" y="614.8" text-anchor="end">50</text>
<text class="tk" x="216.5" y="767.5" text-anchor="middle">0</text>
<text class="tk" x="272.8" y="767.5" text-anchor="middle">20</text>
<text class="tk" x="329.0" y="767.5" text-anchor="middle">40</text>
<text class="tk" x="385.2" y="767.5" text-anchor="middle">60</text>
<text class="tk" x="441.5" y="767.5" text-anchor="middle">80</text>
<text class="tk" x="497.8" y="767.5" text-anchor="middle">100</text>
<text class="tk" x="554.0" y="767.5" text-anchor="middle">120</text>
<text class="tk" x="610.2" y="767.5" text-anchor="middle">140</text>
<text class="tk" x="666.5" y="767.5" text-anchor="middle">160</text>
<text class="tk" x="722.8" y="767.5" text-anchor="middle">180</text>
<text class="tk" x="779.0" y="767.5" text-anchor="middle">200</text>
<text class="ax" transform="translate(495.7 786.4) scale(1 1.18)" text-anchor="middle">X</text>
<text class="ax" transform="translate(165.6 681.3) rotate(-90) scale(1 1.25)" text-anchor="middle">Y</text>
<text class="lb" x="3.0" y="757.0">(d) |Gt| = 0.1</text>
<path d="M217.5 638.8L234.3 641.3L235.0 641.2L235.6 640.8L236.1 640.1L236.2 639.4L236.2 620.0L236.4 619.2L236.8 618.6L237.5 618.1L238.3 617.9L239.1 618.1L239.8 618.6L240.3 619.2L240.4 620.0L240.4 639.4L240.6 640.1L241.0 640.8L241.6 641.2L242.3 641.3L262.4 641.4L263.2 641.2L263.8 640.8L264.2 640.2L264.3 639.5L264.3 620.0L264.5 619.2L264.9 618.6L265.6 618.1L266.4 617.9L267.2 618.1L267.9 618.6L268.4 619.2L268.5 620.0L268.5 639.5L268.7 640.2L269.1 640.8L269.7 641.2L270.4 641.4L290.6 641.5L291.3 641.3L291.9 640.9L292.3 640.3L292.5 639.6L292.5 620.0L292.6 619.2L293.1 618.6L293.8 618.1L294.6 617.9L295.4 618.1L296.1 618.6L296.5 619.2L296.7 620.0L296.7 639.6L296.8 640.3L297.2 640.9L297.8 641.3L298.6 641.5L319.2 641.5L319.8 641.4L320.4 641.1L320.7 640.5L320.9 639.9L320.9 623.7L321.0 623.0L321.4 622.4L322.0 622.0L322.7 621.9L323.4 622.0L324.0 622.4L324.4 623.0L324.5 623.7L324.5 639.9L324.6 640.5L325.0 641.1L325.5 641.4L326.2 641.5L347.6 641.8L348.2 641.7L348.7 641.3L349.0 640.8L349.1 640.3L349.1 628.1L349.3 627.4L349.6 626.9L350.2 626.5L350.8 626.4L351.5 626.5L352.0 626.9L352.4 627.4L352.5 628.1L352.5 640.3L352.6 640.8L352.9 641.3L353.4 641.7L354.0 641.8L374.7 642.0L376.7 641.1L378.4 633.9L379.5 633.9L381.2 641.1L383.2 642.1L402.3 642.3L404.4 641.6L406.5 635.9L407.6 635.9L409.8 641.6L411.8 642.4L430.1 642.5L432.3 642.0L434.6 638.1L435.8 638.1L438.1 642.0L440.2 642.6L458.2 642.7L460.4 642.3L462.8 639.1L463.9 639.1L466.2 642.3L468.4 642.8L486.4 642.9L488.5 642.6L490.9 639.9L492.0 639.9L494.4 642.6L496.5 643.0L514.5 643.2L516.6 642.8L519.0 640.1L520.1 640.1L522.5 642.8L524.6 643.2L542.6 643.3L544.8 643.0L547.1 640.3L548.2 640.3L550.6 643.0L552.8 643.4L570.8 643.5L572.9 643.2L575.2 640.4L576.4 640.4L578.7 643.2L580.9 643.6L598.9 643.7L601.0 643.4L603.4 640.9L604.5 640.9L606.9 643.4L609.0 643.7L614.1 643.8L618.3 643.8L627.1 646.6L630.3 649.3L632.5 652.1L634.2 654.9L635.6 657.6L636.7 660.4L637.5 663.2L638.2 666.0L638.8 668.7L639.2 671.5L639.5 674.3L639.6 677.0L639.7 679.8L639.6 682.6L639.5 685.4L639.2 688.1L638.8 690.9L638.2 693.7L637.5 696.4L636.7 699.2L635.6 702.0L634.2 704.8L632.5 707.5L630.3 710.3L627.1 713.1L618.3 715.8L614.1 715.9L609.0 715.9L606.9 716.3L604.5 718.7L603.4 718.7L601.0 716.3L598.9 716.0L580.9 716.1L578.7 716.5L576.4 719.2L575.2 719.2L572.9 716.5L570.8 716.1L552.8 716.2L550.6 716.6L548.2 719.3L547.1 719.3L544.8 716.6L542.6 716.3L524.6 716.4L522.5 716.8L520.1 719.5L519.0 719.5L516.6 716.8L514.5 716.5L496.5 716.6L494.4 717.0L492.0 719.7L490.9 719.7L488.5 717.0L486.4 716.7L468.4 716.8L466.2 717.3L463.9 720.5L462.8 720.5L460.4 717.3L458.2 716.9L440.2 717.0L438.1 717.6L435.8 721.6L434.6 721.6L432.3 717.6L430.1 717.1L411.8 717.2L409.8 718.1L407.6 723.8L406.5 723.8L404.4 718.1L402.3 717.3L383.2 717.5L381.2 718.6L379.5 725.7L378.4 725.7L376.7 718.6L374.7 717.6L354.0 717.9L353.4 718.0L352.9 718.3L352.6 718.8L352.5 719.4L352.5 731.6L352.4 732.2L352.0 732.8L351.5 733.1L350.8 733.2L350.2 733.1L349.6 732.8L349.3 732.2L349.1 731.6L349.1 719.4L349.0 718.8L348.7 718.3L348.2 718.0L347.6 717.9L326.2 718.1L325.5 718.2L325.0 718.6L324.6 719.1L324.5 719.7L324.5 735.9L324.4 736.6L324.0 737.2L323.4 737.6L322.7 737.8L322.0 737.6L321.4 737.2L321.0 736.6L320.9 735.9L320.9 719.7L320.7 719.1L320.4 718.6L319.8 718.2L319.2 718.1L298.6 718.2L297.8 718.3L297.2 718.7L296.8 719.3L296.7 720.1L296.7 739.6L296.5 740.4L296.1 741.1L295.4 741.5L294.6 741.7L293.8 741.5L293.1 741.1L292.6 740.4L292.5 739.6L292.5 720.1L292.3 719.3L291.9 718.7L291.3 718.3L290.6 718.2L270.4 718.2L269.7 718.4L269.1 718.8L268.7 719.4L268.5 720.1L268.5 739.6L268.4 740.4L267.9 741.1L267.2 741.5L266.4 741.7L265.6 741.5L264.9 741.1L264.5 740.4L264.3 739.6L264.3 720.1L264.2 719.4L263.8 718.8L263.2 718.4L262.4 718.2L242.3 718.3L241.6 718.5L241.0 718.9L240.6 719.5L240.4 720.2L240.4 739.6L240.3 740.4L239.8 741.1L239.1 741.5L238.3 741.7L237.5 741.5L236.8 741.1L236.4 740.4L236.2 739.6L236.2 720.2L236.1 719.5L235.6 718.9L235.0 718.5L234.3 718.3L217.5 720.9" fill="none" stroke="#000" stroke-width="1.25" stroke-linejoin="round"/>
<path d="M217.5 811.8V837.9L219.5 839.9H228.9L230.9 837.9V811.8M217.5 952.4V926.3L219.5 924.3H228.9L230.9 926.3V952.4M245.6 811.8V837.9L247.6 839.9H257.0L259.0 837.9V811.8M245.6 952.4V926.3L247.6 924.3H257.0L259.0 926.3V952.4M273.8 811.8V837.9L275.8 839.9H285.1L287.1 837.9V811.8M273.8 952.4V926.3L275.8 924.3H285.1L287.1 926.3V952.4M301.9 811.8V837.9L303.9 839.9H313.2L315.2 837.9V811.8M301.9 952.4V926.3L303.9 924.3H313.2L315.2 926.3V952.4M330.0 811.8V837.9L332.0 839.9H341.4L343.4 837.9V811.8M330.0 952.4V926.3L332.0 924.3H341.4L343.4 926.3V952.4M358.1 811.8V837.9L360.1 839.9H369.5L371.5 837.9V811.8M358.1 952.4V926.3L360.1 924.3H369.5L371.5 926.3V952.4M386.2 811.8V837.9L388.2 839.9H397.6L399.6 837.9V811.8M386.2 952.4V926.3L388.2 924.3H397.6L399.6 926.3V952.4M414.4 811.8V837.9L416.4 839.9H425.7L427.7 837.9V811.8M414.4 952.4V926.3L416.4 924.3H425.7L427.7 926.3V952.4M442.5 811.8V837.9L444.5 839.9H453.9L455.9 837.9V811.8M442.5 952.4V926.3L444.5 924.3H453.9L455.9 926.3V952.4M470.6 811.8V837.9L472.6 839.9H482.0L484.0 837.9V811.8M470.6 952.4V926.3L472.6 924.3H482.0L484.0 926.3V952.4M498.8 811.8V837.9L500.8 839.9H510.1L512.1 837.9V811.8M498.8 952.4V926.3L500.8 924.3H510.1L512.1 926.3V952.4M526.9 811.8V837.9L528.9 839.9H538.2L540.2 837.9V811.8M526.9 952.4V926.3L528.9 924.3H538.2L540.2 926.3V952.4M555.0 811.8V837.9L557.0 839.9H566.4L568.4 837.9V811.8M555.0 952.4V926.3L557.0 924.3H566.4L568.4 926.3V952.4M583.1 811.8V837.9L585.1 839.9H594.5L596.5 837.9V811.8M583.1 952.4V926.3L585.1 924.3H594.5L596.5 926.3V952.4M611.2 811.8V837.9L613.2 839.9H622.6L624.6 837.9V811.8M611.2 952.4V926.3L613.2 924.3H622.6L624.6 926.3V952.4M639.4 811.8V837.9L641.4 839.9H650.7L652.7 837.9V811.8M639.4 952.4V926.3L641.4 924.3H650.7L652.7 926.3V952.4M667.5 811.8V837.9L669.5 839.9H678.9L680.9 837.9V811.8M667.5 952.4V926.3L669.5 924.3H678.9L680.9 926.3V952.4M695.6 811.8V837.9L697.6 839.9H707.0L709.0 837.9V811.8M695.6 952.4V926.3L697.6 924.3H707.0L709.0 926.3V952.4M723.8 811.8V837.9L725.8 839.9H735.1L737.1 837.9V811.8M723.8 952.4V926.3L725.8 924.3H735.1L737.1 926.3V952.4M751.9 811.8V837.9L753.9 839.9H763.2L765.2 837.9V811.8M751.9 952.4V926.3L753.9 924.3H763.2L765.2 926.3V952.4" fill="#0000FF" stroke="#000" stroke-width="1.2"/>
<rect x="217.5" y="811.8" width="562.5" height="140.6" fill="none" stroke="#000" stroke-width="1.5"/>
<path d="M213.2 952.4H217.5M215.1 938.3H217.5M215.1 924.3H217.5M215.1 910.2H217.5M215.1 896.1H217.5M213.2 882.1H217.5M215.1 868.0H217.5M215.1 854.0H217.5M215.1 839.9H217.5M215.1 825.8H217.5M213.2 811.8H217.5M217.5 952.4V956.7M273.8 952.4V956.7M330.0 952.4V956.7M386.2 952.4V956.7M442.5 952.4V956.7M498.8 952.4V956.7M555.0 952.4V956.7M611.2 952.4V956.7M667.5 952.4V956.7M723.8 952.4V956.7M780.0 952.4V956.7" stroke="#000" stroke-width="1.1" fill="none"/>
<text class="tk" x="198.5" y="957.7" text-anchor="end">0</text>
<text class="tk" x="198.5" y="887.4" text-anchor="end">25</text>
<text class="tk" x="198.5" y="817.1" text-anchor="end">50</text>
<text class="tk" x="216.5" y="969.8" text-anchor="middle">0</text>
<text class="tk" x="272.8" y="969.8" text-anchor="middle">20</text>
<text class="tk" x="329.0" y="969.8" text-anchor="middle">40</text>
<text class="tk" x="385.2" y="969.8" text-anchor="middle">60</text>
<text class="tk" x="441.5" y="969.8" text-anchor="middle">80</text>
<text class="tk" x="497.8" y="969.8" text-anchor="middle">100</text>
<text class="tk" x="554.0" y="969.8" text-anchor="middle">120</text>
<text class="tk" x="610.2" y="969.8" text-anchor="middle">140</text>
<text class="tk" x="666.5" y="969.8" text-anchor="middle">160</text>
<text class="tk" x="722.8" y="969.8" text-anchor="middle">180</text>
<text class="tk" x="779.0" y="969.8" text-anchor="middle">200</text>
<text class="ax" transform="translate(495.7 988.7) scale(1 1.18)" text-anchor="middle">X</text>
<text class="ax" transform="translate(165.6 883.6) rotate(-90) scale(1 1.25)" text-anchor="middle">Y</text>
<text class="lb" x="3.0" y="959.3">(e) |Gt| = 0.07</text>
<path d="M217.5 841.5L232.7 845.3L234.9 844.9L237.8 841.6L238.9 841.6L241.7 844.9L243.9 845.3L260.8 845.3L263.1 844.9L265.9 841.7L267.0 841.7L269.8 844.9L272.1 845.3L288.9 845.4L291.2 845.0L294.0 841.7L295.1 841.7L297.9 845.0L300.2 845.4L317.1 845.4L319.3 845.0L322.1 841.8L323.2 841.8L326.1 845.0L328.3 845.4L345.2 845.5L347.4 845.0L350.2 841.8L351.4 841.8L354.2 845.0L356.4 845.5L373.3 845.5L375.6 845.1L378.4 841.9L379.5 841.9L382.3 845.1L384.6 845.5L401.4 845.6L403.7 845.2L406.5 842.0L407.6 842.0L410.4 845.2L412.7 845.6L429.6 845.7L431.8 845.3L434.6 842.0L435.8 842.0L438.6 845.3L440.8 845.7L457.7 845.8L459.9 845.3L462.8 842.1L463.9 842.1L466.7 845.3L468.9 845.8L485.8 845.8L488.1 845.4L490.9 842.2L492.0 842.2L494.8 845.4L497.1 845.9L513.9 845.9L516.2 845.5L519.0 842.3L520.1 842.3L522.9 845.5L525.2 845.9L542.1 846.0L544.3 845.6L547.1 842.4L548.2 842.4L551.1 845.6L553.3 846.0L570.2 846.1L572.4 845.7L575.2 842.4L576.4 842.4L579.2 845.7L581.4 846.1L598.3 846.2L600.6 845.7L603.4 842.5L604.5 842.5L607.3 845.7L609.6 846.2L626.4 846.2L628.7 845.8L631.5 842.6L632.6 842.6L635.4 845.8L637.7 846.3L654.6 846.3L656.8 845.9L659.6 842.7L660.8 842.7L663.6 845.9L665.8 846.3L673.1 846.4L677.3 846.4L685.3 849.1L688.2 851.9L690.2 854.6L691.8 857.4L693.0 860.1L694.0 862.9L694.8 865.6L695.5 868.4L696.0 871.1L696.3 873.9L696.6 876.6L696.7 879.4L696.8 882.1L696.7 884.9L696.6 887.6L696.3 890.4L696.0 893.1L695.5 895.9L694.8 898.6L694.0 901.4L693.0 904.1L691.8 906.8L690.2 909.6L688.2 912.3L685.3 915.1L677.3 917.8L673.1 917.9L665.8 917.9L663.6 918.3L660.8 921.5L659.6 921.5L656.8 918.3L654.6 917.9L637.7 918.0L635.4 918.4L632.6 921.6L631.5 921.6L628.7 918.4L626.4 918.0L609.6 918.0L607.3 918.5L604.5 921.7L603.4 921.7L600.6 918.5L598.3 918.1L581.4 918.1L579.2 918.6L576.4 921.8L575.2 921.8L572.4 918.6L570.2 918.1L553.3 918.2L551.1 918.7L548.2 921.9L547.1 921.9L544.3 918.7L542.1 918.2L525.2 918.3L522.9 918.7L520.1 922.0L519.0 922.0L516.2 918.7L513.9 918.3L497.1 918.4L494.8 918.8L492.0 922.0L490.9 922.0L488.1 918.8L485.8 918.4L468.9 918.4L466.7 918.9L463.9 922.1L462.8 922.1L459.9 918.9L457.7 918.5L440.8 918.5L438.6 919.0L435.8 922.2L434.6 922.2L431.8 919.0L429.6 918.6L412.7 918.6L410.4 919.1L407.6 922.3L406.5 922.3L403.7 919.1L401.4 918.6L384.6 918.7L382.3 919.1L379.5 922.3L378.4 922.3L375.6 919.1L373.3 918.7L356.4 918.7L354.2 919.2L351.4 922.4L350.2 922.4L347.4 919.2L345.2 918.7L328.3 918.8L326.1 919.2L323.2 922.4L322.1 922.4L319.3 919.2L317.1 918.8L300.2 918.8L297.9 919.3L295.1 922.5L294.0 922.5L291.2 919.3L288.9 918.8L272.1 918.9L269.8 919.3L267.0 922.5L265.9 922.5L263.1 919.3L260.8 918.9L243.9 918.9L241.7 919.4L238.9 922.6L237.8 922.6L234.9 919.4L232.7 918.9L217.5 922.7" fill="none" stroke="#000" stroke-width="1.25" stroke-linejoin="round"/>
<rect x="870.3" y="101.2" width="52.6" height="22.0" fill="#FF0000" stroke="#000" stroke-width="1.1"/>
<rect x="870.3" y="123.2" width="52.6" height="42.0" fill="#FF3100" stroke="#000" stroke-width="1.1"/>
<rect x="870.3" y="165.2" width="52.6" height="42.0" fill="#FF6100" stroke="#000" stroke-width="1.1"/>
<rect x="870.3" y="207.2" width="52.6" height="42.0" fill="#FF9200" stroke="#000" stroke-width="1.1"/>
<rect x="870.3" y="249.2" width="52.6" height="42.0" fill="#FFC200" stroke="#000" stroke-width="1.1"/>
<rect x="870.3" y="291.2" width="52.6" height="42.0" fill="#FFF300" stroke="#000" stroke-width="1.1"/>
<rect x="870.3" y="333.2" width="52.6" height="42.0" fill="#DBFF00" stroke="#000" stroke-width="1.1"/>
<rect x="870.3" y="375.2" width="52.6" height="42.0" fill="#AAFF00" stroke="#000" stroke-width="1.1"/>
<rect x="870.3" y="417.2" width="52.6" height="42.0" fill="#79FF00" stroke="#000" stroke-width="1.1"/>
<rect x="870.3" y="459.2" width="52.6" height="42.0" fill="#49FF00" stroke="#000" stroke-width="1.1"/>
<rect x="870.3" y="501.2" width="52.6" height="42.0" fill="#18FF00" stroke="#000" stroke-width="1.1"/>
<rect x="870.3" y="543.2" width="52.6" height="42.0" fill="#00FF18" stroke="#000" stroke-width="1.1"/>
<rect x="870.3" y="585.2" width="52.6" height="42.0" fill="#00FF49" stroke="#000" stroke-width="1.1"/>
<rect x="870.3" y="627.2" width="52.6" height="42.0" fill="#00FF79" stroke="#000" stroke-width="1.1"/>
<rect x="870.3" y="669.2" width="52.6" height="42.0" fill="#00FFAA" stroke="#000" stroke-width="1.1"/>
<rect x="870.3" y="711.2" width="52.6" height="42.0" fill="#00FFDB" stroke="#000" stroke-width="1.1"/>
<rect x="870.3" y="753.2" width="52.6" height="42.0" fill="#00F3FF" stroke="#000" stroke-width="1.1"/>
<rect x="870.3" y="795.2" width="52.6" height="42.0" fill="#00C2FF" stroke="#000" stroke-width="1.1"/>
<rect x="870.3" y="837.2" width="52.6" height="42.0" fill="#0092FF" stroke="#000" stroke-width="1.1"/>
<rect x="870.3" y="879.2" width="52.6" height="42.0" fill="#0061FF" stroke="#000" stroke-width="1.1"/>
<rect x="870.3" y="921.2" width="52.6" height="42.0" fill="#0031FF" stroke="#000" stroke-width="1.1"/>
<rect x="870.3" y="963.2" width="52.6" height="21.6" fill="#0000FF" stroke="#000" stroke-width="1.1"/>
<rect x="870.3" y="101.2" width="52.6" height="883.6" fill="none" stroke="#000" stroke-width="1.5"/>
<text class="cb" x="950.3" y="139.8">1</text>
<text class="cb" x="950.3" y="181.8">0.95</text>
<text class="cb" x="950.3" y="223.8">0.9</text>
<text class="cb" x="950.3" y="265.8">0.85</text>
<text class="cb" x="950.3" y="307.8">0.8</text>
<text class="cb" x="950.3" y="349.8">0.75</text>
<text class="cb" x="950.3" y="391.8">0.7</text>
<text class="cb" x="950.3" y="433.8">0.65</text>
<text class="cb" x="950.3" y="475.8">0.6</text>
<text class="cb" x="950.3" y="517.8">0.55</text>
<text class="cb" x="950.3" y="559.8">0.5</text>
<text class="cb" x="950.3" y="601.8">0.45</text>
<text class="cb" x="950.3" y="643.8">0.4</text>
<text class="cb" x="950.3" y="685.8">0.35</text>
<text class="cb" x="950.3" y="727.8">0.3</text>
<text class="cb" x="950.3" y="769.8">0.25</text>
<text class="cb" x="950.3" y="811.8">0.2</text>
<text class="cb" x="950.3" y="853.8">0.15</text>
<text class="cb" x="950.3" y="895.8">0.1</text>
<text class="cb" x="950.3" y="937.8">0.05</text>
<text class="cb" x="950.3" y="979.8">0</text>
<text class="ct" x="946.5" y="50">T*</text>
</svg></body></html>
